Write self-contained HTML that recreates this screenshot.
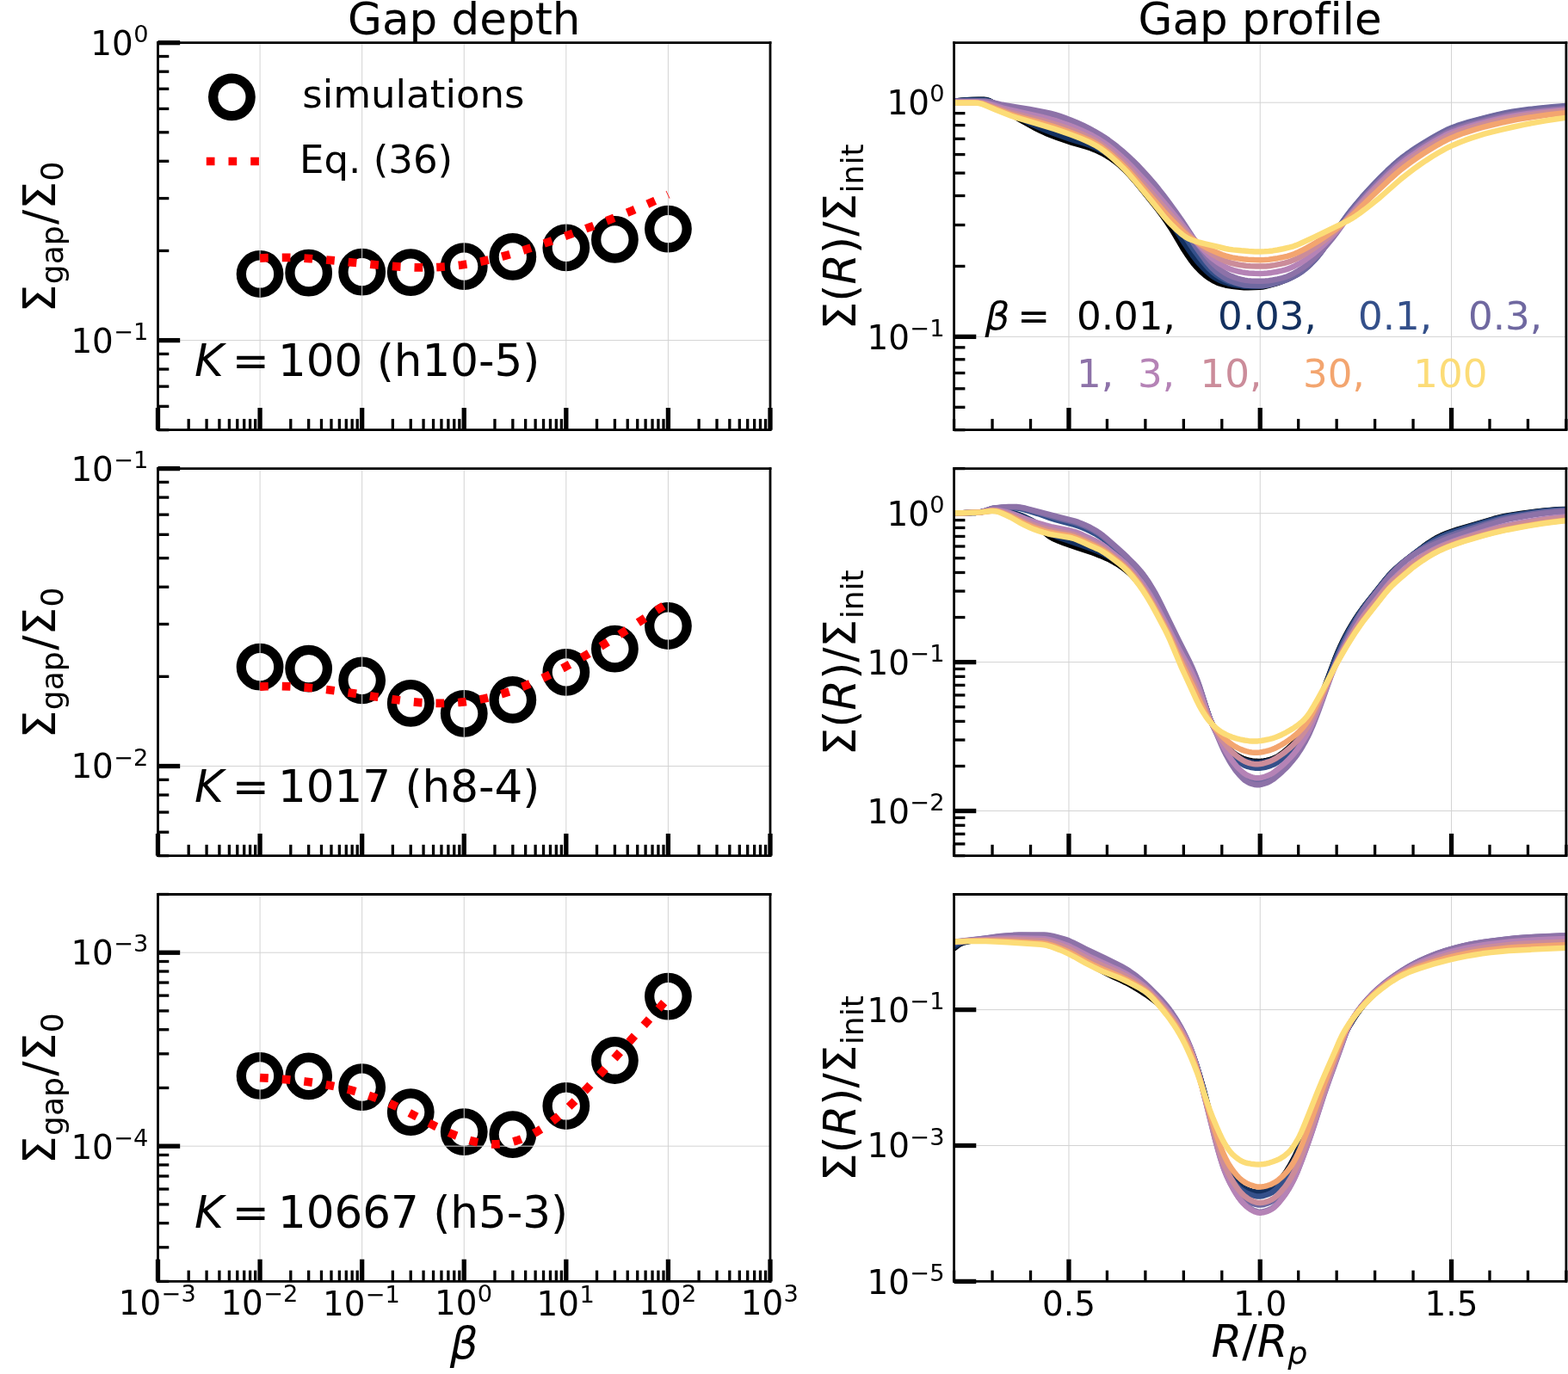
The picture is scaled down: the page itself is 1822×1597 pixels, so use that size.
<!DOCTYPE html>
<html><head><meta charset="utf-8"><title>Gap depth and gap profile</title><style>html,body{margin:0;padding:0;background:#fff;}svg{display:block;}text{font-family:"DejaVu Sans","Liberation Sans",sans-serif;font-variant-ligatures:none;font-feature-settings:"liga" 0,"clig" 0;}</style></head><body>
<svg width="1822" height="1597" viewBox="0 0 1822 1597" version="1.1">
 
 <defs>
  <style type="text/css">*{stroke-linejoin: round; stroke-linecap: butt}</style>
 </defs>
 <g id="figure_1">
  <g id="patch_1">
   <path d="M 0 1597 
L 1822 1597 
L 1822 0 
L 0 0 
z
" style="fill: #ffffff"/>
  </g>
  <g id="axes_1">
   <g id="patch_2">
    <path d="M 183.5 499.7 
L 895 499.7 
L 895 49.7 
L 183.5 49.7 
z
" style="fill: #ffffff"/>
   </g>
   <g id="line2d_1">
    <defs>
     <path id="m1f2123d5e5" d="M 0 21.75 
C 5.768167 21.75 11.300862 19.458283 15.379572 15.379572 
C 19.458283 11.300862 21.75 5.768167 21.75 0 
C 21.75 -5.768167 19.458283 -11.300862 15.379572 -15.379572 
C 11.300862 -19.458283 5.768167 -21.75 0 -21.75 
C -5.768167 -21.75 -11.300862 -19.458283 -15.379572 -15.379572 
C -19.458283 -11.300862 -21.75 -5.768167 -21.75 0 
C -21.75 5.768167 -19.458283 11.300862 -15.379572 15.379572 
C -11.300862 19.458283 -5.768167 21.75 0 21.75 
z
" style="stroke: #000000; stroke-width: 11.3"/>
    </defs>
    <g clip-path="url(#pfb58e67655)">
     <use href="#m1f2123d5e5" x="302.083333" y="318.5" style="fill-opacity: 0; stroke: #000000; stroke-width: 11.3"/>
     <use href="#m1f2123d5e5" x="358.661962" y="317.2" style="fill-opacity: 0; stroke: #000000; stroke-width: 11.3"/>
     <use href="#m1f2123d5e5" x="420.666667" y="316.2" style="fill-opacity: 0; stroke: #000000; stroke-width: 11.3"/>
     <use href="#m1f2123d5e5" x="477.245295" y="316.6" style="fill-opacity: 0; stroke: #000000; stroke-width: 11.3"/>
     <use href="#m1f2123d5e5" x="539.25" y="309.7" style="fill-opacity: 0; stroke: #000000; stroke-width: 11.3"/>
     <use href="#m1f2123d5e5" x="595.828629" y="298.4" style="fill-opacity: 0; stroke: #000000; stroke-width: 11.3"/>
     <use href="#m1f2123d5e5" x="657.833333" y="287.9" style="fill-opacity: 0; stroke: #000000; stroke-width: 11.3"/>
     <use href="#m1f2123d5e5" x="714.411962" y="278.4" style="fill-opacity: 0; stroke: #000000; stroke-width: 11.3"/>
     <use href="#m1f2123d5e5" x="776.416667" y="266.1" style="fill-opacity: 0; stroke: #000000; stroke-width: 11.3"/>
    </g>
   </g>
   <g id="matplotlib.axis_1">
    <g id="xtick_1">
     <g id="line2d_2">
      <path d="M 183.5 499.7 
L 183.5 49.7 
" clip-path="url(#pfb58e67655)" style="fill: none; stroke: #d3d3d3"/>
     </g>
     <g id="line2d_3">
      <defs>
       <path id="m03711f5c3c" d="M 0 0 
L 0 -25.7 
" style="stroke: #000000; stroke-width: 5.3"/>
      </defs>
      <g>
       <use href="#m03711f5c3c" x="183.5" y="499.7" style="stroke: #000000; stroke-width: 5.3"/>
      </g>
     </g>
    </g>
    <g id="xtick_2">
     <g id="line2d_4">
      <path d="M 302.083333 499.7 
L 302.083333 49.7 
" clip-path="url(#pfb58e67655)" style="fill: none; stroke: #d3d3d3"/>
     </g>
     <g id="line2d_5">
      <g>
       <use href="#m03711f5c3c" x="302.083333" y="499.7" style="stroke: #000000; stroke-width: 5.3"/>
      </g>
     </g>
    </g>
    <g id="xtick_3">
     <g id="line2d_6">
      <path d="M 420.666667 499.7 
L 420.666667 49.7 
" clip-path="url(#pfb58e67655)" style="fill: none; stroke: #d3d3d3"/>
     </g>
     <g id="line2d_7">
      <g>
       <use href="#m03711f5c3c" x="420.666667" y="499.7" style="stroke: #000000; stroke-width: 5.3"/>
      </g>
     </g>
    </g>
    <g id="xtick_4">
     <g id="line2d_8">
      <path d="M 539.25 499.7 
L 539.25 49.7 
" clip-path="url(#pfb58e67655)" style="fill: none; stroke: #d3d3d3"/>
     </g>
     <g id="line2d_9">
      <g>
       <use href="#m03711f5c3c" x="539.25" y="499.7" style="stroke: #000000; stroke-width: 5.3"/>
      </g>
     </g>
    </g>
    <g id="xtick_5">
     <g id="line2d_10">
      <path d="M 657.833333 499.7 
L 657.833333 49.7 
" clip-path="url(#pfb58e67655)" style="fill: none; stroke: #d3d3d3"/>
     </g>
     <g id="line2d_11">
      <g>
       <use href="#m03711f5c3c" x="657.833333" y="499.7" style="stroke: #000000; stroke-width: 5.3"/>
      </g>
     </g>
    </g>
    <g id="xtick_6">
     <g id="line2d_12">
      <path d="M 776.416667 499.7 
L 776.416667 49.7 
" clip-path="url(#pfb58e67655)" style="fill: none; stroke: #d3d3d3"/>
     </g>
     <g id="line2d_13">
      <g>
       <use href="#m03711f5c3c" x="776.416667" y="499.7" style="stroke: #000000; stroke-width: 5.3"/>
      </g>
     </g>
    </g>
    <g id="xtick_7">
     <g id="line2d_14">
      <path d="M 895 499.7 
L 895 49.7 
" clip-path="url(#pfb58e67655)" style="fill: none; stroke: #d3d3d3"/>
     </g>
     <g id="line2d_15">
      <g>
       <use href="#m03711f5c3c" x="895" y="499.7" style="stroke: #000000; stroke-width: 5.3"/>
      </g>
     </g>
    </g>
    <g id="xtick_8">
     <g id="line2d_16">
      <defs>
       <path id="mb623954a8e" d="M 0 0 
L 0 -12.8 
" style="stroke: #000000; stroke-width: 3.3"/>
      </defs>
      <g>
       <use href="#mb623954a8e" x="219.19714" y="499.7" style="stroke: #000000; stroke-width: 3.3"/>
      </g>
     </g>
    </g>
    <g id="xtick_9">
     <g id="line2d_17">
      <g>
       <use href="#mb623954a8e" x="240.078629" y="499.7" style="stroke: #000000; stroke-width: 3.3"/>
      </g>
     </g>
    </g>
    <g id="xtick_10">
     <g id="line2d_18">
      <g>
       <use href="#mb623954a8e" x="254.894281" y="499.7" style="stroke: #000000; stroke-width: 3.3"/>
      </g>
     </g>
    </g>
    <g id="xtick_11">
     <g id="line2d_19">
      <g>
       <use href="#mb623954a8e" x="266.386193" y="499.7" style="stroke: #000000; stroke-width: 3.3"/>
      </g>
     </g>
    </g>
    <g id="xtick_12">
     <g id="line2d_20">
      <g>
       <use href="#mb623954a8e" x="275.775769" y="499.7" style="stroke: #000000; stroke-width: 3.3"/>
      </g>
     </g>
    </g>
    <g id="xtick_13">
     <g id="line2d_21">
      <g>
       <use href="#mb623954a8e" x="283.714543" y="499.7" style="stroke: #000000; stroke-width: 3.3"/>
      </g>
     </g>
    </g>
    <g id="xtick_14">
     <g id="line2d_22">
      <g>
       <use href="#mb623954a8e" x="290.591421" y="499.7" style="stroke: #000000; stroke-width: 3.3"/>
      </g>
     </g>
    </g>
    <g id="xtick_15">
     <g id="line2d_23">
      <g>
       <use href="#mb623954a8e" x="296.657258" y="499.7" style="stroke: #000000; stroke-width: 3.3"/>
      </g>
     </g>
    </g>
    <g id="xtick_16">
     <g id="line2d_24">
      <g>
       <use href="#mb623954a8e" x="337.780474" y="499.7" style="stroke: #000000; stroke-width: 3.3"/>
      </g>
     </g>
    </g>
    <g id="xtick_17">
     <g id="line2d_25">
      <g>
       <use href="#mb623954a8e" x="358.661962" y="499.7" style="stroke: #000000; stroke-width: 3.3"/>
      </g>
     </g>
    </g>
    <g id="xtick_18">
     <g id="line2d_26">
      <g>
       <use href="#mb623954a8e" x="373.477614" y="499.7" style="stroke: #000000; stroke-width: 3.3"/>
      </g>
     </g>
    </g>
    <g id="xtick_19">
     <g id="line2d_27">
      <g>
       <use href="#mb623954a8e" x="384.969526" y="499.7" style="stroke: #000000; stroke-width: 3.3"/>
      </g>
     </g>
    </g>
    <g id="xtick_20">
     <g id="line2d_28">
      <g>
       <use href="#mb623954a8e" x="394.359102" y="499.7" style="stroke: #000000; stroke-width: 3.3"/>
      </g>
     </g>
    </g>
    <g id="xtick_21">
     <g id="line2d_29">
      <g>
       <use href="#mb623954a8e" x="402.297876" y="499.7" style="stroke: #000000; stroke-width: 3.3"/>
      </g>
     </g>
    </g>
    <g id="xtick_22">
     <g id="line2d_30">
      <g>
       <use href="#mb623954a8e" x="409.174754" y="499.7" style="stroke: #000000; stroke-width: 3.3"/>
      </g>
     </g>
    </g>
    <g id="xtick_23">
     <g id="line2d_31">
      <g>
       <use href="#mb623954a8e" x="415.240591" y="499.7" style="stroke: #000000; stroke-width: 3.3"/>
      </g>
     </g>
    </g>
    <g id="xtick_24">
     <g id="line2d_32">
      <g>
       <use href="#mb623954a8e" x="456.363807" y="499.7" style="stroke: #000000; stroke-width: 3.3"/>
      </g>
     </g>
    </g>
    <g id="xtick_25">
     <g id="line2d_33">
      <g>
       <use href="#mb623954a8e" x="477.245295" y="499.7" style="stroke: #000000; stroke-width: 3.3"/>
      </g>
     </g>
    </g>
    <g id="xtick_26">
     <g id="line2d_34">
      <g>
       <use href="#mb623954a8e" x="492.060947" y="499.7" style="stroke: #000000; stroke-width: 3.3"/>
      </g>
     </g>
    </g>
    <g id="xtick_27">
     <g id="line2d_35">
      <g>
       <use href="#mb623954a8e" x="503.55286" y="499.7" style="stroke: #000000; stroke-width: 3.3"/>
      </g>
     </g>
    </g>
    <g id="xtick_28">
     <g id="line2d_36">
      <g>
       <use href="#mb623954a8e" x="512.942436" y="499.7" style="stroke: #000000; stroke-width: 3.3"/>
      </g>
     </g>
    </g>
    <g id="xtick_29">
     <g id="line2d_37">
      <g>
       <use href="#mb623954a8e" x="520.881209" y="499.7" style="stroke: #000000; stroke-width: 3.3"/>
      </g>
     </g>
    </g>
    <g id="xtick_30">
     <g id="line2d_38">
      <g>
       <use href="#mb623954a8e" x="527.758088" y="499.7" style="stroke: #000000; stroke-width: 3.3"/>
      </g>
     </g>
    </g>
    <g id="xtick_31">
     <g id="line2d_39">
      <g>
       <use href="#mb623954a8e" x="533.823924" y="499.7" style="stroke: #000000; stroke-width: 3.3"/>
      </g>
     </g>
    </g>
    <g id="xtick_32">
     <g id="line2d_40">
      <g>
       <use href="#mb623954a8e" x="574.94714" y="499.7" style="stroke: #000000; stroke-width: 3.3"/>
      </g>
     </g>
    </g>
    <g id="xtick_33">
     <g id="line2d_41">
      <g>
       <use href="#mb623954a8e" x="595.828629" y="499.7" style="stroke: #000000; stroke-width: 3.3"/>
      </g>
     </g>
    </g>
    <g id="xtick_34">
     <g id="line2d_42">
      <g>
       <use href="#mb623954a8e" x="610.644281" y="499.7" style="stroke: #000000; stroke-width: 3.3"/>
      </g>
     </g>
    </g>
    <g id="xtick_35">
     <g id="line2d_43">
      <g>
       <use href="#mb623954a8e" x="622.136193" y="499.7" style="stroke: #000000; stroke-width: 3.3"/>
      </g>
     </g>
    </g>
    <g id="xtick_36">
     <g id="line2d_44">
      <g>
       <use href="#mb623954a8e" x="631.525769" y="499.7" style="stroke: #000000; stroke-width: 3.3"/>
      </g>
     </g>
    </g>
    <g id="xtick_37">
     <g id="line2d_45">
      <g>
       <use href="#mb623954a8e" x="639.464543" y="499.7" style="stroke: #000000; stroke-width: 3.3"/>
      </g>
     </g>
    </g>
    <g id="xtick_38">
     <g id="line2d_46">
      <g>
       <use href="#mb623954a8e" x="646.341421" y="499.7" style="stroke: #000000; stroke-width: 3.3"/>
      </g>
     </g>
    </g>
    <g id="xtick_39">
     <g id="line2d_47">
      <g>
       <use href="#mb623954a8e" x="652.407258" y="499.7" style="stroke: #000000; stroke-width: 3.3"/>
      </g>
     </g>
    </g>
    <g id="xtick_40">
     <g id="line2d_48">
      <g>
       <use href="#mb623954a8e" x="693.530474" y="499.7" style="stroke: #000000; stroke-width: 3.3"/>
      </g>
     </g>
    </g>
    <g id="xtick_41">
     <g id="line2d_49">
      <g>
       <use href="#mb623954a8e" x="714.411962" y="499.7" style="stroke: #000000; stroke-width: 3.3"/>
      </g>
     </g>
    </g>
    <g id="xtick_42">
     <g id="line2d_50">
      <g>
       <use href="#mb623954a8e" x="729.227614" y="499.7" style="stroke: #000000; stroke-width: 3.3"/>
      </g>
     </g>
    </g>
    <g id="xtick_43">
     <g id="line2d_51">
      <g>
       <use href="#mb623954a8e" x="740.719526" y="499.7" style="stroke: #000000; stroke-width: 3.3"/>
      </g>
     </g>
    </g>
    <g id="xtick_44">
     <g id="line2d_52">
      <g>
       <use href="#mb623954a8e" x="750.109102" y="499.7" style="stroke: #000000; stroke-width: 3.3"/>
      </g>
     </g>
    </g>
    <g id="xtick_45">
     <g id="line2d_53">
      <g>
       <use href="#mb623954a8e" x="758.047876" y="499.7" style="stroke: #000000; stroke-width: 3.3"/>
      </g>
     </g>
    </g>
    <g id="xtick_46">
     <g id="line2d_54">
      <g>
       <use href="#mb623954a8e" x="764.924754" y="499.7" style="stroke: #000000; stroke-width: 3.3"/>
      </g>
     </g>
    </g>
    <g id="xtick_47">
     <g id="line2d_55">
      <g>
       <use href="#mb623954a8e" x="770.990591" y="499.7" style="stroke: #000000; stroke-width: 3.3"/>
      </g>
     </g>
    </g>
    <g id="xtick_48">
     <g id="line2d_56">
      <g>
       <use href="#mb623954a8e" x="812.113807" y="499.7" style="stroke: #000000; stroke-width: 3.3"/>
      </g>
     </g>
    </g>
    <g id="xtick_49">
     <g id="line2d_57">
      <g>
       <use href="#mb623954a8e" x="832.995295" y="499.7" style="stroke: #000000; stroke-width: 3.3"/>
      </g>
     </g>
    </g>
    <g id="xtick_50">
     <g id="line2d_58">
      <g>
       <use href="#mb623954a8e" x="847.810947" y="499.7" style="stroke: #000000; stroke-width: 3.3"/>
      </g>
     </g>
    </g>
    <g id="xtick_51">
     <g id="line2d_59">
      <g>
       <use href="#mb623954a8e" x="859.30286" y="499.7" style="stroke: #000000; stroke-width: 3.3"/>
      </g>
     </g>
    </g>
    <g id="xtick_52">
     <g id="line2d_60">
      <g>
       <use href="#mb623954a8e" x="868.692436" y="499.7" style="stroke: #000000; stroke-width: 3.3"/>
      </g>
     </g>
    </g>
    <g id="xtick_53">
     <g id="line2d_61">
      <g>
       <use href="#mb623954a8e" x="876.631209" y="499.7" style="stroke: #000000; stroke-width: 3.3"/>
      </g>
     </g>
    </g>
    <g id="xtick_54">
     <g id="line2d_62">
      <g>
       <use href="#mb623954a8e" x="883.508088" y="499.7" style="stroke: #000000; stroke-width: 3.3"/>
      </g>
     </g>
    </g>
    <g id="xtick_55">
     <g id="line2d_63">
      <g>
       <use href="#mb623954a8e" x="889.573924" y="499.7" style="stroke: #000000; stroke-width: 3.3"/>
      </g>
     </g>
    </g>
   </g>
   <g id="matplotlib.axis_2">
    <g id="ytick_1">
     <g id="line2d_64">
      <path d="M 183.5 395.579804 
L 895 395.579804 
" clip-path="url(#pfb58e67655)" style="fill: none; stroke: #d3d3d3"/>
     </g>
     <g id="line2d_65">
      <defs>
       <path id="m70b90a0493" d="M 0 0 
L 25.7 0 
" style="stroke: #000000; stroke-width: 5.3"/>
      </defs>
      <g>
       <use href="#m70b90a0493" x="183.5" y="395.579804" style="stroke: #000000; stroke-width: 5.3"/>
      </g>
     </g>
     <g id="text_1">
      
      <g transform="translate(82.385 410.358765)">
       <text>
        <tspan x="0" y="-0.164062" style="font-size: 38.9px; font-family: 'DejaVu Sans'">1</tspan>
        <tspan x="24.733459" y="-0.164062" style="font-size: 38.9px; font-family: 'DejaVu Sans'">0</tspan>
        <tspan x="49.840161" y="-15.09375" style="font-size: 27.23px; font-family: 'DejaVu Sans'">−</tspan>
        <tspan x="72.64126" y="-15.09375" style="font-size: 27.23px; font-family: 'DejaVu Sans'">1</tspan>
       </text>
      </g>
     </g>
    </g>
    <g id="ytick_2">
     <g id="line2d_66">
      <path d="M 183.5 49.7 
L 895 49.7 
" clip-path="url(#pfb58e67655)" style="fill: none; stroke: #d3d3d3"/>
     </g>
     <g id="line2d_67">
      <g>
       <use href="#m70b90a0493" x="183.5" y="49.7" style="stroke: #000000; stroke-width: 5.3"/>
      </g>
     </g>
     <g id="text_2">
      
      <g transform="translate(105.336 64.478961)">
       <text>
        <tspan x="0" y="-0.803125" style="font-size: 38.9px; font-family: 'DejaVu Sans'">1</tspan>
        <tspan x="24.733459" y="-0.803125" style="font-size: 38.9px; font-family: 'DejaVu Sans'">0</tspan>
        <tspan x="49.840161" y="-15.732813" style="font-size: 27.23px; font-family: 'DejaVu Sans'">0</tspan>
       </text>
      </g>
     </g>
    </g>
    <g id="ytick_3">
     <g id="line2d_68">
      <defs>
       <path id="m3a5959d019" d="M 0 0 
L 12.8 0 
" style="stroke: #000000; stroke-width: 3.3"/>
      </defs>
      <g>
       <use href="#m3a5959d019" x="183.5" y="499.7" style="stroke: #000000; stroke-width: 3.3"/>
      </g>
     </g>
    </g>
    <g id="ytick_4">
     <g id="line2d_69">
      <g>
       <use href="#m3a5959d019" x="183.5" y="472.312806" style="stroke: #000000; stroke-width: 3.3"/>
      </g>
     </g>
    </g>
    <g id="ytick_5">
     <g id="line2d_70">
      <g>
       <use href="#m3a5959d019" x="183.5" y="449.157264" style="stroke: #000000; stroke-width: 3.3"/>
      </g>
     </g>
    </g>
    <g id="ytick_6">
     <g id="line2d_71">
      <g>
       <use href="#m3a5959d019" x="183.5" y="429.09902" style="stroke: #000000; stroke-width: 3.3"/>
      </g>
     </g>
    </g>
    <g id="ytick_7">
     <g id="line2d_72">
      <g>
       <use href="#m3a5959d019" x="183.5" y="411.406396" style="stroke: #000000; stroke-width: 3.3"/>
      </g>
     </g>
    </g>
    <g id="ytick_8">
     <g id="line2d_73">
      <g>
       <use href="#m3a5959d019" x="183.5" y="291.459608" style="stroke: #000000; stroke-width: 3.3"/>
      </g>
     </g>
    </g>
    <g id="ytick_9">
     <g id="line2d_74">
      <g>
       <use href="#m3a5959d019" x="183.5" y="230.553198" style="stroke: #000000; stroke-width: 3.3"/>
      </g>
     </g>
    </g>
    <g id="ytick_10">
     <g id="line2d_75">
      <g>
       <use href="#m3a5959d019" x="183.5" y="187.339412" style="stroke: #000000; stroke-width: 3.3"/>
      </g>
     </g>
    </g>
    <g id="ytick_11">
     <g id="line2d_76">
      <g>
       <use href="#m3a5959d019" x="183.5" y="153.820196" style="stroke: #000000; stroke-width: 3.3"/>
      </g>
     </g>
    </g>
    <g id="ytick_12">
     <g id="line2d_77">
      <g>
       <use href="#m3a5959d019" x="183.5" y="126.433002" style="stroke: #000000; stroke-width: 3.3"/>
      </g>
     </g>
    </g>
    <g id="ytick_13">
     <g id="line2d_78">
      <g>
       <use href="#m3a5959d019" x="183.5" y="103.27746" style="stroke: #000000; stroke-width: 3.3"/>
      </g>
     </g>
    </g>
    <g id="ytick_14">
     <g id="line2d_79">
      <g>
       <use href="#m3a5959d019" x="183.5" y="83.219216" style="stroke: #000000; stroke-width: 3.3"/>
      </g>
     </g>
    </g>
    <g id="ytick_15">
     <g id="line2d_80">
      <g>
       <use href="#m3a5959d019" x="183.5" y="65.526592" style="stroke: #000000; stroke-width: 3.3"/>
      </g>
     </g>
    </g>
   </g>
   <g id="line2d_81">
    <path d="M 302.083333 300.152505 
L 310.404971 299.675738 
L 318.726608 299.404303 
L 328.237051 299.323812 
L 337.747494 299.464151 
L 348.446742 299.854544 
L 360.334795 300.534874 
L 373.411654 301.526022 
L 388.866124 302.938078 
L 411.453425 305.255946 
L 438.795948 308.028581 
L 453.061612 309.268326 
L 464.949666 310.099076 
L 475.648914 310.63741 
L 485.159357 310.913384 
L 494.669799 310.96731 
L 502.991437 310.808636 
L 511.313074 310.436661 
L 519.634712 309.835245 
L 527.956349 309.005987 
L 536.277987 307.955317 
L 544.599624 306.689669 
L 552.921261 305.215475 
L 561.242899 303.539167 
L 570.753342 301.386269 
L 580.263784 299.002176 
L 590.963033 296.075543 
L 601.662281 292.925036 
L 613.550334 289.206163 
L 627.815998 284.508263 
L 645.648079 278.395427 
L 665.857769 271.232313 
L 686.06746 263.831935 
L 705.088346 256.637903 
L 720.542815 250.571995 
L 734.80848 244.747873 
L 747.885338 239.183095 
L 760.962197 233.369263 
L 772.850251 227.840984 
L 776.416667 226.133636 
L 776.416667 226.133636 
" clip-path="url(#pfb58e67655)" style="fill: none; stroke-dasharray: 9.7,16.005; stroke-dashoffset: 0; stroke: #ff0000; stroke-width: 9.7"/>
   </g>
   <g id="patch_3">
    <path d="M 183.5 499.7 
L 183.5 49.7 
" style="fill: none; stroke: #000000; stroke-width: 2.8; stroke-linejoin: miter; stroke-linecap: square"/>
   </g>
   <g id="patch_4">
    <path d="M 895 499.7 
L 895 49.7 
" style="fill: none; stroke: #000000; stroke-width: 2.8; stroke-linejoin: miter; stroke-linecap: square"/>
   </g>
   <g id="patch_5">
    <path d="M 183.5 499.7 
L 895 499.7 
" style="fill: none; stroke: #000000; stroke-width: 2.8; stroke-linejoin: miter; stroke-linecap: square"/>
   </g>
   <g id="patch_6">
    <path d="M 183.5 49.7 
L 895 49.7 
" style="fill: none; stroke: #000000; stroke-width: 2.8; stroke-linejoin: miter; stroke-linecap: square"/>
   </g>
  </g>
  <g id="axes_2">
   <g id="patch_7">
    <path d="M 183.5 994.6 
L 895 994.6 
L 895 544.6 
L 183.5 544.6 
z
" style="fill: #ffffff"/>
   </g>
   <g id="line2d_82">
    <g clip-path="url(#pa9d6e41cb4)">
     <use href="#m1f2123d5e5" x="302.083333" y="775.2" style="fill-opacity: 0; stroke: #000000; stroke-width: 11.3"/>
     <use href="#m1f2123d5e5" x="358.661962" y="777.1" style="fill-opacity: 0; stroke: #000000; stroke-width: 11.3"/>
     <use href="#m1f2123d5e5" x="420.666667" y="790.8" style="fill-opacity: 0; stroke: #000000; stroke-width: 11.3"/>
     <use href="#m1f2123d5e5" x="477.245295" y="817.4" style="fill-opacity: 0; stroke: #000000; stroke-width: 11.3"/>
     <use href="#m1f2123d5e5" x="539.25" y="829.3" style="fill-opacity: 0; stroke: #000000; stroke-width: 11.3"/>
     <use href="#m1f2123d5e5" x="595.828629" y="813.4" style="fill-opacity: 0; stroke: #000000; stroke-width: 11.3"/>
     <use href="#m1f2123d5e5" x="657.833333" y="781.3" style="fill-opacity: 0; stroke: #000000; stroke-width: 11.3"/>
     <use href="#m1f2123d5e5" x="714.411962" y="754.2" style="fill-opacity: 0; stroke: #000000; stroke-width: 11.3"/>
     <use href="#m1f2123d5e5" x="776.416667" y="727.5" style="fill-opacity: 0; stroke: #000000; stroke-width: 11.3"/>
    </g>
   </g>
   <g id="matplotlib.axis_3">
    <g id="xtick_56">
     <g id="line2d_83">
      <path d="M 183.5 994.6 
L 183.5 544.6 
" clip-path="url(#pa9d6e41cb4)" style="fill: none; stroke: #d3d3d3"/>
     </g>
     <g id="line2d_84">
      <g>
       <use href="#m03711f5c3c" x="183.5" y="994.6" style="stroke: #000000; stroke-width: 5.3"/>
      </g>
     </g>
    </g>
    <g id="xtick_57">
     <g id="line2d_85">
      <path d="M 302.083333 994.6 
L 302.083333 544.6 
" clip-path="url(#pa9d6e41cb4)" style="fill: none; stroke: #d3d3d3"/>
     </g>
     <g id="line2d_86">
      <g>
       <use href="#m03711f5c3c" x="302.083333" y="994.6" style="stroke: #000000; stroke-width: 5.3"/>
      </g>
     </g>
    </g>
    <g id="xtick_58">
     <g id="line2d_87">
      <path d="M 420.666667 994.6 
L 420.666667 544.6 
" clip-path="url(#pa9d6e41cb4)" style="fill: none; stroke: #d3d3d3"/>
     </g>
     <g id="line2d_88">
      <g>
       <use href="#m03711f5c3c" x="420.666667" y="994.6" style="stroke: #000000; stroke-width: 5.3"/>
      </g>
     </g>
    </g>
    <g id="xtick_59">
     <g id="line2d_89">
      <path d="M 539.25 994.6 
L 539.25 544.6 
" clip-path="url(#pa9d6e41cb4)" style="fill: none; stroke: #d3d3d3"/>
     </g>
     <g id="line2d_90">
      <g>
       <use href="#m03711f5c3c" x="539.25" y="994.6" style="stroke: #000000; stroke-width: 5.3"/>
      </g>
     </g>
    </g>
    <g id="xtick_60">
     <g id="line2d_91">
      <path d="M 657.833333 994.6 
L 657.833333 544.6 
" clip-path="url(#pa9d6e41cb4)" style="fill: none; stroke: #d3d3d3"/>
     </g>
     <g id="line2d_92">
      <g>
       <use href="#m03711f5c3c" x="657.833333" y="994.6" style="stroke: #000000; stroke-width: 5.3"/>
      </g>
     </g>
    </g>
    <g id="xtick_61">
     <g id="line2d_93">
      <path d="M 776.416667 994.6 
L 776.416667 544.6 
" clip-path="url(#pa9d6e41cb4)" style="fill: none; stroke: #d3d3d3"/>
     </g>
     <g id="line2d_94">
      <g>
       <use href="#m03711f5c3c" x="776.416667" y="994.6" style="stroke: #000000; stroke-width: 5.3"/>
      </g>
     </g>
    </g>
    <g id="xtick_62">
     <g id="line2d_95">
      <path d="M 895 994.6 
L 895 544.6 
" clip-path="url(#pa9d6e41cb4)" style="fill: none; stroke: #d3d3d3"/>
     </g>
     <g id="line2d_96">
      <g>
       <use href="#m03711f5c3c" x="895" y="994.6" style="stroke: #000000; stroke-width: 5.3"/>
      </g>
     </g>
    </g>
    <g id="xtick_63">
     <g id="line2d_97">
      <g>
       <use href="#mb623954a8e" x="219.19714" y="994.6" style="stroke: #000000; stroke-width: 3.3"/>
      </g>
     </g>
    </g>
    <g id="xtick_64">
     <g id="line2d_98">
      <g>
       <use href="#mb623954a8e" x="240.078629" y="994.6" style="stroke: #000000; stroke-width: 3.3"/>
      </g>
     </g>
    </g>
    <g id="xtick_65">
     <g id="line2d_99">
      <g>
       <use href="#mb623954a8e" x="254.894281" y="994.6" style="stroke: #000000; stroke-width: 3.3"/>
      </g>
     </g>
    </g>
    <g id="xtick_66">
     <g id="line2d_100">
      <g>
       <use href="#mb623954a8e" x="266.386193" y="994.6" style="stroke: #000000; stroke-width: 3.3"/>
      </g>
     </g>
    </g>
    <g id="xtick_67">
     <g id="line2d_101">
      <g>
       <use href="#mb623954a8e" x="275.775769" y="994.6" style="stroke: #000000; stroke-width: 3.3"/>
      </g>
     </g>
    </g>
    <g id="xtick_68">
     <g id="line2d_102">
      <g>
       <use href="#mb623954a8e" x="283.714543" y="994.6" style="stroke: #000000; stroke-width: 3.3"/>
      </g>
     </g>
    </g>
    <g id="xtick_69">
     <g id="line2d_103">
      <g>
       <use href="#mb623954a8e" x="290.591421" y="994.6" style="stroke: #000000; stroke-width: 3.3"/>
      </g>
     </g>
    </g>
    <g id="xtick_70">
     <g id="line2d_104">
      <g>
       <use href="#mb623954a8e" x="296.657258" y="994.6" style="stroke: #000000; stroke-width: 3.3"/>
      </g>
     </g>
    </g>
    <g id="xtick_71">
     <g id="line2d_105">
      <g>
       <use href="#mb623954a8e" x="337.780474" y="994.6" style="stroke: #000000; stroke-width: 3.3"/>
      </g>
     </g>
    </g>
    <g id="xtick_72">
     <g id="line2d_106">
      <g>
       <use href="#mb623954a8e" x="358.661962" y="994.6" style="stroke: #000000; stroke-width: 3.3"/>
      </g>
     </g>
    </g>
    <g id="xtick_73">
     <g id="line2d_107">
      <g>
       <use href="#mb623954a8e" x="373.477614" y="994.6" style="stroke: #000000; stroke-width: 3.3"/>
      </g>
     </g>
    </g>
    <g id="xtick_74">
     <g id="line2d_108">
      <g>
       <use href="#mb623954a8e" x="384.969526" y="994.6" style="stroke: #000000; stroke-width: 3.3"/>
      </g>
     </g>
    </g>
    <g id="xtick_75">
     <g id="line2d_109">
      <g>
       <use href="#mb623954a8e" x="394.359102" y="994.6" style="stroke: #000000; stroke-width: 3.3"/>
      </g>
     </g>
    </g>
    <g id="xtick_76">
     <g id="line2d_110">
      <g>
       <use href="#mb623954a8e" x="402.297876" y="994.6" style="stroke: #000000; stroke-width: 3.3"/>
      </g>
     </g>
    </g>
    <g id="xtick_77">
     <g id="line2d_111">
      <g>
       <use href="#mb623954a8e" x="409.174754" y="994.6" style="stroke: #000000; stroke-width: 3.3"/>
      </g>
     </g>
    </g>
    <g id="xtick_78">
     <g id="line2d_112">
      <g>
       <use href="#mb623954a8e" x="415.240591" y="994.6" style="stroke: #000000; stroke-width: 3.3"/>
      </g>
     </g>
    </g>
    <g id="xtick_79">
     <g id="line2d_113">
      <g>
       <use href="#mb623954a8e" x="456.363807" y="994.6" style="stroke: #000000; stroke-width: 3.3"/>
      </g>
     </g>
    </g>
    <g id="xtick_80">
     <g id="line2d_114">
      <g>
       <use href="#mb623954a8e" x="477.245295" y="994.6" style="stroke: #000000; stroke-width: 3.3"/>
      </g>
     </g>
    </g>
    <g id="xtick_81">
     <g id="line2d_115">
      <g>
       <use href="#mb623954a8e" x="492.060947" y="994.6" style="stroke: #000000; stroke-width: 3.3"/>
      </g>
     </g>
    </g>
    <g id="xtick_82">
     <g id="line2d_116">
      <g>
       <use href="#mb623954a8e" x="503.55286" y="994.6" style="stroke: #000000; stroke-width: 3.3"/>
      </g>
     </g>
    </g>
    <g id="xtick_83">
     <g id="line2d_117">
      <g>
       <use href="#mb623954a8e" x="512.942436" y="994.6" style="stroke: #000000; stroke-width: 3.3"/>
      </g>
     </g>
    </g>
    <g id="xtick_84">
     <g id="line2d_118">
      <g>
       <use href="#mb623954a8e" x="520.881209" y="994.6" style="stroke: #000000; stroke-width: 3.3"/>
      </g>
     </g>
    </g>
    <g id="xtick_85">
     <g id="line2d_119">
      <g>
       <use href="#mb623954a8e" x="527.758088" y="994.6" style="stroke: #000000; stroke-width: 3.3"/>
      </g>
     </g>
    </g>
    <g id="xtick_86">
     <g id="line2d_120">
      <g>
       <use href="#mb623954a8e" x="533.823924" y="994.6" style="stroke: #000000; stroke-width: 3.3"/>
      </g>
     </g>
    </g>
    <g id="xtick_87">
     <g id="line2d_121">
      <g>
       <use href="#mb623954a8e" x="574.94714" y="994.6" style="stroke: #000000; stroke-width: 3.3"/>
      </g>
     </g>
    </g>
    <g id="xtick_88">
     <g id="line2d_122">
      <g>
       <use href="#mb623954a8e" x="595.828629" y="994.6" style="stroke: #000000; stroke-width: 3.3"/>
      </g>
     </g>
    </g>
    <g id="xtick_89">
     <g id="line2d_123">
      <g>
       <use href="#mb623954a8e" x="610.644281" y="994.6" style="stroke: #000000; stroke-width: 3.3"/>
      </g>
     </g>
    </g>
    <g id="xtick_90">
     <g id="line2d_124">
      <g>
       <use href="#mb623954a8e" x="622.136193" y="994.6" style="stroke: #000000; stroke-width: 3.3"/>
      </g>
     </g>
    </g>
    <g id="xtick_91">
     <g id="line2d_125">
      <g>
       <use href="#mb623954a8e" x="631.525769" y="994.6" style="stroke: #000000; stroke-width: 3.3"/>
      </g>
     </g>
    </g>
    <g id="xtick_92">
     <g id="line2d_126">
      <g>
       <use href="#mb623954a8e" x="639.464543" y="994.6" style="stroke: #000000; stroke-width: 3.3"/>
      </g>
     </g>
    </g>
    <g id="xtick_93">
     <g id="line2d_127">
      <g>
       <use href="#mb623954a8e" x="646.341421" y="994.6" style="stroke: #000000; stroke-width: 3.3"/>
      </g>
     </g>
    </g>
    <g id="xtick_94">
     <g id="line2d_128">
      <g>
       <use href="#mb623954a8e" x="652.407258" y="994.6" style="stroke: #000000; stroke-width: 3.3"/>
      </g>
     </g>
    </g>
    <g id="xtick_95">
     <g id="line2d_129">
      <g>
       <use href="#mb623954a8e" x="693.530474" y="994.6" style="stroke: #000000; stroke-width: 3.3"/>
      </g>
     </g>
    </g>
    <g id="xtick_96">
     <g id="line2d_130">
      <g>
       <use href="#mb623954a8e" x="714.411962" y="994.6" style="stroke: #000000; stroke-width: 3.3"/>
      </g>
     </g>
    </g>
    <g id="xtick_97">
     <g id="line2d_131">
      <g>
       <use href="#mb623954a8e" x="729.227614" y="994.6" style="stroke: #000000; stroke-width: 3.3"/>
      </g>
     </g>
    </g>
    <g id="xtick_98">
     <g id="line2d_132">
      <g>
       <use href="#mb623954a8e" x="740.719526" y="994.6" style="stroke: #000000; stroke-width: 3.3"/>
      </g>
     </g>
    </g>
    <g id="xtick_99">
     <g id="line2d_133">
      <g>
       <use href="#mb623954a8e" x="750.109102" y="994.6" style="stroke: #000000; stroke-width: 3.3"/>
      </g>
     </g>
    </g>
    <g id="xtick_100">
     <g id="line2d_134">
      <g>
       <use href="#mb623954a8e" x="758.047876" y="994.6" style="stroke: #000000; stroke-width: 3.3"/>
      </g>
     </g>
    </g>
    <g id="xtick_101">
     <g id="line2d_135">
      <g>
       <use href="#mb623954a8e" x="764.924754" y="994.6" style="stroke: #000000; stroke-width: 3.3"/>
      </g>
     </g>
    </g>
    <g id="xtick_102">
     <g id="line2d_136">
      <g>
       <use href="#mb623954a8e" x="770.990591" y="994.6" style="stroke: #000000; stroke-width: 3.3"/>
      </g>
     </g>
    </g>
    <g id="xtick_103">
     <g id="line2d_137">
      <g>
       <use href="#mb623954a8e" x="812.113807" y="994.6" style="stroke: #000000; stroke-width: 3.3"/>
      </g>
     </g>
    </g>
    <g id="xtick_104">
     <g id="line2d_138">
      <g>
       <use href="#mb623954a8e" x="832.995295" y="994.6" style="stroke: #000000; stroke-width: 3.3"/>
      </g>
     </g>
    </g>
    <g id="xtick_105">
     <g id="line2d_139">
      <g>
       <use href="#mb623954a8e" x="847.810947" y="994.6" style="stroke: #000000; stroke-width: 3.3"/>
      </g>
     </g>
    </g>
    <g id="xtick_106">
     <g id="line2d_140">
      <g>
       <use href="#mb623954a8e" x="859.30286" y="994.6" style="stroke: #000000; stroke-width: 3.3"/>
      </g>
     </g>
    </g>
    <g id="xtick_107">
     <g id="line2d_141">
      <g>
       <use href="#mb623954a8e" x="868.692436" y="994.6" style="stroke: #000000; stroke-width: 3.3"/>
      </g>
     </g>
    </g>
    <g id="xtick_108">
     <g id="line2d_142">
      <g>
       <use href="#mb623954a8e" x="876.631209" y="994.6" style="stroke: #000000; stroke-width: 3.3"/>
      </g>
     </g>
    </g>
    <g id="xtick_109">
     <g id="line2d_143">
      <g>
       <use href="#mb623954a8e" x="883.508088" y="994.6" style="stroke: #000000; stroke-width: 3.3"/>
      </g>
     </g>
    </g>
    <g id="xtick_110">
     <g id="line2d_144">
      <g>
       <use href="#mb623954a8e" x="889.573924" y="994.6" style="stroke: #000000; stroke-width: 3.3"/>
      </g>
     </g>
    </g>
   </g>
   <g id="matplotlib.axis_4">
    <g id="ytick_16">
     <g id="line2d_145">
      <path d="M 183.5 890.479804 
L 895 890.479804 
" clip-path="url(#pa9d6e41cb4)" style="fill: none; stroke: #d3d3d3"/>
     </g>
     <g id="line2d_146">
      <g>
       <use href="#m70b90a0493" x="183.5" y="890.479804" style="stroke: #000000; stroke-width: 5.3"/>
      </g>
     </g>
     <g id="text_3">
      
      <g transform="translate(82.385 905.258765)">
       <text>
        <tspan x="0" y="-0.803125" style="font-size: 38.9px; font-family: 'DejaVu Sans'">1</tspan>
        <tspan x="24.733459" y="-0.803125" style="font-size: 38.9px; font-family: 'DejaVu Sans'">0</tspan>
        <tspan x="49.840161" y="-15.732813" style="font-size: 27.23px; font-family: 'DejaVu Sans'">−</tspan>
        <tspan x="72.64126" y="-15.732813" style="font-size: 27.23px; font-family: 'DejaVu Sans'">2</tspan>
       </text>
      </g>
     </g>
    </g>
    <g id="ytick_17">
     <g id="line2d_147">
      <path d="M 183.5 544.6 
L 895 544.6 
" clip-path="url(#pa9d6e41cb4)" style="fill: none; stroke: #d3d3d3"/>
     </g>
     <g id="line2d_148">
      <g>
       <use href="#m70b90a0493" x="183.5" y="544.6" style="stroke: #000000; stroke-width: 5.3"/>
      </g>
     </g>
     <g id="text_4">
      
      <g transform="translate(82.385 559.378961)">
       <text>
        <tspan x="0" y="-0.164062" style="font-size: 38.9px; font-family: 'DejaVu Sans'">1</tspan>
        <tspan x="24.733459" y="-0.164062" style="font-size: 38.9px; font-family: 'DejaVu Sans'">0</tspan>
        <tspan x="49.840161" y="-15.09375" style="font-size: 27.23px; font-family: 'DejaVu Sans'">−</tspan>
        <tspan x="72.64126" y="-15.09375" style="font-size: 27.23px; font-family: 'DejaVu Sans'">1</tspan>
       </text>
      </g>
     </g>
    </g>
    <g id="ytick_18">
     <g id="line2d_149">
      <g>
       <use href="#m3a5959d019" x="183.5" y="994.6" style="stroke: #000000; stroke-width: 3.3"/>
      </g>
     </g>
    </g>
    <g id="ytick_19">
     <g id="line2d_150">
      <g>
       <use href="#m3a5959d019" x="183.5" y="967.212806" style="stroke: #000000; stroke-width: 3.3"/>
      </g>
     </g>
    </g>
    <g id="ytick_20">
     <g id="line2d_151">
      <g>
       <use href="#m3a5959d019" x="183.5" y="944.057264" style="stroke: #000000; stroke-width: 3.3"/>
      </g>
     </g>
    </g>
    <g id="ytick_21">
     <g id="line2d_152">
      <g>
       <use href="#m3a5959d019" x="183.5" y="923.99902" style="stroke: #000000; stroke-width: 3.3"/>
      </g>
     </g>
    </g>
    <g id="ytick_22">
     <g id="line2d_153">
      <g>
       <use href="#m3a5959d019" x="183.5" y="906.306396" style="stroke: #000000; stroke-width: 3.3"/>
      </g>
     </g>
    </g>
    <g id="ytick_23">
     <g id="line2d_154">
      <g>
       <use href="#m3a5959d019" x="183.5" y="786.359608" style="stroke: #000000; stroke-width: 3.3"/>
      </g>
     </g>
    </g>
    <g id="ytick_24">
     <g id="line2d_155">
      <g>
       <use href="#m3a5959d019" x="183.5" y="725.453198" style="stroke: #000000; stroke-width: 3.3"/>
      </g>
     </g>
    </g>
    <g id="ytick_25">
     <g id="line2d_156">
      <g>
       <use href="#m3a5959d019" x="183.5" y="682.239412" style="stroke: #000000; stroke-width: 3.3"/>
      </g>
     </g>
    </g>
    <g id="ytick_26">
     <g id="line2d_157">
      <g>
       <use href="#m3a5959d019" x="183.5" y="648.720196" style="stroke: #000000; stroke-width: 3.3"/>
      </g>
     </g>
    </g>
    <g id="ytick_27">
     <g id="line2d_158">
      <g>
       <use href="#m3a5959d019" x="183.5" y="621.333002" style="stroke: #000000; stroke-width: 3.3"/>
      </g>
     </g>
    </g>
    <g id="ytick_28">
     <g id="line2d_159">
      <g>
       <use href="#m3a5959d019" x="183.5" y="598.17746" style="stroke: #000000; stroke-width: 3.3"/>
      </g>
     </g>
    </g>
    <g id="ytick_29">
     <g id="line2d_160">
      <g>
       <use href="#m3a5959d019" x="183.5" y="578.119216" style="stroke: #000000; stroke-width: 3.3"/>
      </g>
     </g>
    </g>
    <g id="ytick_30">
     <g id="line2d_161">
      <g>
       <use href="#m3a5959d019" x="183.5" y="560.426592" style="stroke: #000000; stroke-width: 3.3"/>
      </g>
     </g>
    </g>
   </g>
   <g id="line2d_162">
    <path d="M 302.083333 798.136959 
L 310.404971 797.758784 
L 318.726608 797.596528 
L 327.048246 797.635332 
L 336.558688 797.906818 
L 346.069131 798.399329 
L 356.768379 799.189982 
L 367.467627 800.200721 
L 379.355681 801.543482 
L 392.43254 803.237617 
L 409.075815 805.634283 
L 435.229532 809.675933 
L 456.628028 812.906558 
L 468.516082 814.49321 
L 479.21533 815.703412 
L 488.725773 816.553316 
L 497.04741 817.086515 
L 505.369048 817.392379 
L 512.50188 817.451299 
L 519.634712 817.308002 
L 526.767544 816.958344 
L 533.900376 816.399236 
L 541.033208 815.627587 
L 548.16604 814.640307 
L 555.298872 813.434307 
L 562.431704 812.006499 
L 569.564536 810.356036 
L 576.697368 808.489375 
L 583.830201 806.414455 
L 592.151838 803.74109 
L 600.473475 800.807673 
L 608.795113 797.626811 
L 617.11675 794.211111 
L 625.438388 790.573178 
L 634.94883 786.159591 
L 644.459273 781.491025 
L 653.969716 776.586297 
L 664.668964 770.809623 
L 675.368212 764.784668 
L 687.256266 757.831666 
L 700.333124 749.911404 
L 714.598789 741.001971 
L 731.242063 730.335168 
L 753.829365 715.562302 
L 776.416667 700.678002 
L 776.416667 700.678002 
" clip-path="url(#pa9d6e41cb4)" style="fill: none; stroke-dasharray: 9.7,16.005; stroke-dashoffset: 0; stroke: #ff0000; stroke-width: 9.7"/>
   </g>
   <g id="patch_8">
    <path d="M 183.5 994.6 
L 183.5 544.6 
" style="fill: none; stroke: #000000; stroke-width: 2.8; stroke-linejoin: miter; stroke-linecap: square"/>
   </g>
   <g id="patch_9">
    <path d="M 895 994.6 
L 895 544.6 
" style="fill: none; stroke: #000000; stroke-width: 2.8; stroke-linejoin: miter; stroke-linecap: square"/>
   </g>
   <g id="patch_10">
    <path d="M 183.5 994.6 
L 895 994.6 
" style="fill: none; stroke: #000000; stroke-width: 2.8; stroke-linejoin: miter; stroke-linecap: square"/>
   </g>
   <g id="patch_11">
    <path d="M 183.5 544.6 
L 895 544.6 
" style="fill: none; stroke: #000000; stroke-width: 2.8; stroke-linejoin: miter; stroke-linecap: square"/>
   </g>
  </g>
  <g id="axes_3">
   <g id="patch_12">
    <path d="M 183.5 1489.4 
L 895 1489.4 
L 895 1039.5 
L 183.5 1039.5 
z
" style="fill: #ffffff"/>
   </g>
   <g id="line2d_163">
    <g clip-path="url(#p9ddf4ae7c1)">
     <use href="#m1f2123d5e5" x="302.083333" y="1250.4" style="fill-opacity: 0; stroke: #000000; stroke-width: 11.3"/>
     <use href="#m1f2123d5e5" x="358.661962" y="1250.9" style="fill-opacity: 0; stroke: #000000; stroke-width: 11.3"/>
     <use href="#m1f2123d5e5" x="420.666667" y="1263.7" style="fill-opacity: 0; stroke: #000000; stroke-width: 11.3"/>
     <use href="#m1f2123d5e5" x="477.245295" y="1292.6" style="fill-opacity: 0; stroke: #000000; stroke-width: 11.3"/>
     <use href="#m1f2123d5e5" x="539.25" y="1315.6" style="fill-opacity: 0; stroke: #000000; stroke-width: 11.3"/>
     <use href="#m1f2123d5e5" x="595.828629" y="1318.6" style="fill-opacity: 0; stroke: #000000; stroke-width: 11.3"/>
     <use href="#m1f2123d5e5" x="657.833333" y="1285.5" style="fill-opacity: 0; stroke: #000000; stroke-width: 11.3"/>
     <use href="#m1f2123d5e5" x="714.411962" y="1232.5" style="fill-opacity: 0; stroke: #000000; stroke-width: 11.3"/>
     <use href="#m1f2123d5e5" x="776.416667" y="1158.1" style="fill-opacity: 0; stroke: #000000; stroke-width: 11.3"/>
    </g>
   </g>
   <g id="matplotlib.axis_5">
    <g id="xtick_111">
     <g id="line2d_164">
      <path d="M 183.5 1489.4 
L 183.5 1039.5 
" clip-path="url(#p9ddf4ae7c1)" style="fill: none; stroke: #d3d3d3"/>
     </g>
     <g id="line2d_165">
      <g>
       <use href="#m03711f5c3c" x="183.5" y="1489.4" style="stroke: #000000; stroke-width: 5.3"/>
      </g>
     </g>
     <g id="text_5">
      
      <g transform="translate(137.7925 1528.657922)">
       <text>
        <tspan x="0" y="-0.803125" style="font-size: 38.9px; font-family: 'DejaVu Sans'">1</tspan>
        <tspan x="24.733459" y="-0.803125" style="font-size: 38.9px; font-family: 'DejaVu Sans'">0</tspan>
        <tspan x="49.840161" y="-15.732813" style="font-size: 27.23px; font-family: 'DejaVu Sans'">−</tspan>
        <tspan x="72.64126" y="-15.732813" style="font-size: 27.23px; font-family: 'DejaVu Sans'">3</tspan>
       </text>
      </g>
     </g>
    </g>
    <g id="xtick_112">
     <g id="line2d_166">
      <path d="M 302.083333 1489.4 
L 302.083333 1039.5 
" clip-path="url(#p9ddf4ae7c1)" style="fill: none; stroke: #d3d3d3"/>
     </g>
     <g id="line2d_167">
      <g>
       <use href="#m03711f5c3c" x="302.083333" y="1489.4" style="stroke: #000000; stroke-width: 5.3"/>
      </g>
     </g>
     <g id="text_6">
      
      <g transform="translate(256.375833 1528.657922)">
       <text>
        <tspan x="0" y="-0.803125" style="font-size: 38.9px; font-family: 'DejaVu Sans'">1</tspan>
        <tspan x="24.733459" y="-0.803125" style="font-size: 38.9px; font-family: 'DejaVu Sans'">0</tspan>
        <tspan x="49.840161" y="-15.732813" style="font-size: 27.23px; font-family: 'DejaVu Sans'">−</tspan>
        <tspan x="72.64126" y="-15.732813" style="font-size: 27.23px; font-family: 'DejaVu Sans'">2</tspan>
       </text>
      </g>
     </g>
    </g>
    <g id="xtick_113">
     <g id="line2d_168">
      <path d="M 420.666667 1489.4 
L 420.666667 1039.5 
" clip-path="url(#p9ddf4ae7c1)" style="fill: none; stroke: #d3d3d3"/>
     </g>
     <g id="line2d_169">
      <g>
       <use href="#m03711f5c3c" x="420.666667" y="1489.4" style="stroke: #000000; stroke-width: 5.3"/>
      </g>
     </g>
     <g id="text_7">
      
      <g transform="translate(374.959167 1528.657922)">
       <text>
        <tspan x="0" y="-0.164062" style="font-size: 38.9px; font-family: 'DejaVu Sans'">1</tspan>
        <tspan x="24.733459" y="-0.164062" style="font-size: 38.9px; font-family: 'DejaVu Sans'">0</tspan>
        <tspan x="49.840161" y="-15.09375" style="font-size: 27.23px; font-family: 'DejaVu Sans'">−</tspan>
        <tspan x="72.64126" y="-15.09375" style="font-size: 27.23px; font-family: 'DejaVu Sans'">1</tspan>
       </text>
      </g>
     </g>
    </g>
    <g id="xtick_114">
     <g id="line2d_170">
      <path d="M 539.25 1489.4 
L 539.25 1039.5 
" clip-path="url(#p9ddf4ae7c1)" style="fill: none; stroke: #d3d3d3"/>
     </g>
     <g id="line2d_171">
      <g>
       <use href="#m03711f5c3c" x="539.25" y="1489.4" style="stroke: #000000; stroke-width: 5.3"/>
      </g>
     </g>
     <g id="text_8">
      
      <g transform="translate(505.018 1528.657922)">
       <text>
        <tspan x="0" y="-0.803125" style="font-size: 38.9px; font-family: 'DejaVu Sans'">1</tspan>
        <tspan x="24.733459" y="-0.803125" style="font-size: 38.9px; font-family: 'DejaVu Sans'">0</tspan>
        <tspan x="49.840161" y="-15.732813" style="font-size: 27.23px; font-family: 'DejaVu Sans'">0</tspan>
       </text>
      </g>
     </g>
    </g>
    <g id="xtick_115">
     <g id="line2d_172">
      <path d="M 657.833333 1489.4 
L 657.833333 1039.5 
" clip-path="url(#p9ddf4ae7c1)" style="fill: none; stroke: #d3d3d3"/>
     </g>
     <g id="line2d_173">
      <g>
       <use href="#m03711f5c3c" x="657.833333" y="1489.4" style="stroke: #000000; stroke-width: 5.3"/>
      </g>
     </g>
     <g id="text_9">
      
      <g transform="translate(623.601333 1528.657922)">
       <text>
        <tspan x="0" y="-0.164062" style="font-size: 38.9px; font-family: 'DejaVu Sans'">1</tspan>
        <tspan x="24.733459" y="-0.164062" style="font-size: 38.9px; font-family: 'DejaVu Sans'">0</tspan>
        <tspan x="49.840161" y="-15.09375" style="font-size: 27.23px; font-family: 'DejaVu Sans'">1</tspan>
       </text>
      </g>
     </g>
    </g>
    <g id="xtick_116">
     <g id="line2d_174">
      <path d="M 776.416667 1489.4 
L 776.416667 1039.5 
" clip-path="url(#p9ddf4ae7c1)" style="fill: none; stroke: #d3d3d3"/>
     </g>
     <g id="line2d_175">
      <g>
       <use href="#m03711f5c3c" x="776.416667" y="1489.4" style="stroke: #000000; stroke-width: 5.3"/>
      </g>
     </g>
     <g id="text_10">
      
      <g transform="translate(742.184667 1528.657922)">
       <text>
        <tspan x="0" y="-0.803125" style="font-size: 38.9px; font-family: 'DejaVu Sans'">1</tspan>
        <tspan x="24.733459" y="-0.803125" style="font-size: 38.9px; font-family: 'DejaVu Sans'">0</tspan>
        <tspan x="49.840161" y="-15.732813" style="font-size: 27.23px; font-family: 'DejaVu Sans'">2</tspan>
       </text>
      </g>
     </g>
    </g>
    <g id="xtick_117">
     <g id="line2d_176">
      <path d="M 895 1489.4 
L 895 1039.5 
" clip-path="url(#p9ddf4ae7c1)" style="fill: none; stroke: #d3d3d3"/>
     </g>
     <g id="line2d_177">
      <g>
       <use href="#m03711f5c3c" x="895" y="1489.4" style="stroke: #000000; stroke-width: 5.3"/>
      </g>
     </g>
     <g id="text_11">
      
      <g transform="translate(860.768 1528.657922)">
       <text>
        <tspan x="0" y="-0.803125" style="font-size: 38.9px; font-family: 'DejaVu Sans'">1</tspan>
        <tspan x="24.733459" y="-0.803125" style="font-size: 38.9px; font-family: 'DejaVu Sans'">0</tspan>
        <tspan x="49.840161" y="-15.732813" style="font-size: 27.23px; font-family: 'DejaVu Sans'">3</tspan>
       </text>
      </g>
     </g>
    </g>
    <g id="xtick_118">
     <g id="line2d_178">
      <g>
       <use href="#mb623954a8e" x="219.19714" y="1489.4" style="stroke: #000000; stroke-width: 3.3"/>
      </g>
     </g>
    </g>
    <g id="xtick_119">
     <g id="line2d_179">
      <g>
       <use href="#mb623954a8e" x="240.078629" y="1489.4" style="stroke: #000000; stroke-width: 3.3"/>
      </g>
     </g>
    </g>
    <g id="xtick_120">
     <g id="line2d_180">
      <g>
       <use href="#mb623954a8e" x="254.894281" y="1489.4" style="stroke: #000000; stroke-width: 3.3"/>
      </g>
     </g>
    </g>
    <g id="xtick_121">
     <g id="line2d_181">
      <g>
       <use href="#mb623954a8e" x="266.386193" y="1489.4" style="stroke: #000000; stroke-width: 3.3"/>
      </g>
     </g>
    </g>
    <g id="xtick_122">
     <g id="line2d_182">
      <g>
       <use href="#mb623954a8e" x="275.775769" y="1489.4" style="stroke: #000000; stroke-width: 3.3"/>
      </g>
     </g>
    </g>
    <g id="xtick_123">
     <g id="line2d_183">
      <g>
       <use href="#mb623954a8e" x="283.714543" y="1489.4" style="stroke: #000000; stroke-width: 3.3"/>
      </g>
     </g>
    </g>
    <g id="xtick_124">
     <g id="line2d_184">
      <g>
       <use href="#mb623954a8e" x="290.591421" y="1489.4" style="stroke: #000000; stroke-width: 3.3"/>
      </g>
     </g>
    </g>
    <g id="xtick_125">
     <g id="line2d_185">
      <g>
       <use href="#mb623954a8e" x="296.657258" y="1489.4" style="stroke: #000000; stroke-width: 3.3"/>
      </g>
     </g>
    </g>
    <g id="xtick_126">
     <g id="line2d_186">
      <g>
       <use href="#mb623954a8e" x="337.780474" y="1489.4" style="stroke: #000000; stroke-width: 3.3"/>
      </g>
     </g>
    </g>
    <g id="xtick_127">
     <g id="line2d_187">
      <g>
       <use href="#mb623954a8e" x="358.661962" y="1489.4" style="stroke: #000000; stroke-width: 3.3"/>
      </g>
     </g>
    </g>
    <g id="xtick_128">
     <g id="line2d_188">
      <g>
       <use href="#mb623954a8e" x="373.477614" y="1489.4" style="stroke: #000000; stroke-width: 3.3"/>
      </g>
     </g>
    </g>
    <g id="xtick_129">
     <g id="line2d_189">
      <g>
       <use href="#mb623954a8e" x="384.969526" y="1489.4" style="stroke: #000000; stroke-width: 3.3"/>
      </g>
     </g>
    </g>
    <g id="xtick_130">
     <g id="line2d_190">
      <g>
       <use href="#mb623954a8e" x="394.359102" y="1489.4" style="stroke: #000000; stroke-width: 3.3"/>
      </g>
     </g>
    </g>
    <g id="xtick_131">
     <g id="line2d_191">
      <g>
       <use href="#mb623954a8e" x="402.297876" y="1489.4" style="stroke: #000000; stroke-width: 3.3"/>
      </g>
     </g>
    </g>
    <g id="xtick_132">
     <g id="line2d_192">
      <g>
       <use href="#mb623954a8e" x="409.174754" y="1489.4" style="stroke: #000000; stroke-width: 3.3"/>
      </g>
     </g>
    </g>
    <g id="xtick_133">
     <g id="line2d_193">
      <g>
       <use href="#mb623954a8e" x="415.240591" y="1489.4" style="stroke: #000000; stroke-width: 3.3"/>
      </g>
     </g>
    </g>
    <g id="xtick_134">
     <g id="line2d_194">
      <g>
       <use href="#mb623954a8e" x="456.363807" y="1489.4" style="stroke: #000000; stroke-width: 3.3"/>
      </g>
     </g>
    </g>
    <g id="xtick_135">
     <g id="line2d_195">
      <g>
       <use href="#mb623954a8e" x="477.245295" y="1489.4" style="stroke: #000000; stroke-width: 3.3"/>
      </g>
     </g>
    </g>
    <g id="xtick_136">
     <g id="line2d_196">
      <g>
       <use href="#mb623954a8e" x="492.060947" y="1489.4" style="stroke: #000000; stroke-width: 3.3"/>
      </g>
     </g>
    </g>
    <g id="xtick_137">
     <g id="line2d_197">
      <g>
       <use href="#mb623954a8e" x="503.55286" y="1489.4" style="stroke: #000000; stroke-width: 3.3"/>
      </g>
     </g>
    </g>
    <g id="xtick_138">
     <g id="line2d_198">
      <g>
       <use href="#mb623954a8e" x="512.942436" y="1489.4" style="stroke: #000000; stroke-width: 3.3"/>
      </g>
     </g>
    </g>
    <g id="xtick_139">
     <g id="line2d_199">
      <g>
       <use href="#mb623954a8e" x="520.881209" y="1489.4" style="stroke: #000000; stroke-width: 3.3"/>
      </g>
     </g>
    </g>
    <g id="xtick_140">
     <g id="line2d_200">
      <g>
       <use href="#mb623954a8e" x="527.758088" y="1489.4" style="stroke: #000000; stroke-width: 3.3"/>
      </g>
     </g>
    </g>
    <g id="xtick_141">
     <g id="line2d_201">
      <g>
       <use href="#mb623954a8e" x="533.823924" y="1489.4" style="stroke: #000000; stroke-width: 3.3"/>
      </g>
     </g>
    </g>
    <g id="xtick_142">
     <g id="line2d_202">
      <g>
       <use href="#mb623954a8e" x="574.94714" y="1489.4" style="stroke: #000000; stroke-width: 3.3"/>
      </g>
     </g>
    </g>
    <g id="xtick_143">
     <g id="line2d_203">
      <g>
       <use href="#mb623954a8e" x="595.828629" y="1489.4" style="stroke: #000000; stroke-width: 3.3"/>
      </g>
     </g>
    </g>
    <g id="xtick_144">
     <g id="line2d_204">
      <g>
       <use href="#mb623954a8e" x="610.644281" y="1489.4" style="stroke: #000000; stroke-width: 3.3"/>
      </g>
     </g>
    </g>
    <g id="xtick_145">
     <g id="line2d_205">
      <g>
       <use href="#mb623954a8e" x="622.136193" y="1489.4" style="stroke: #000000; stroke-width: 3.3"/>
      </g>
     </g>
    </g>
    <g id="xtick_146">
     <g id="line2d_206">
      <g>
       <use href="#mb623954a8e" x="631.525769" y="1489.4" style="stroke: #000000; stroke-width: 3.3"/>
      </g>
     </g>
    </g>
    <g id="xtick_147">
     <g id="line2d_207">
      <g>
       <use href="#mb623954a8e" x="639.464543" y="1489.4" style="stroke: #000000; stroke-width: 3.3"/>
      </g>
     </g>
    </g>
    <g id="xtick_148">
     <g id="line2d_208">
      <g>
       <use href="#mb623954a8e" x="646.341421" y="1489.4" style="stroke: #000000; stroke-width: 3.3"/>
      </g>
     </g>
    </g>
    <g id="xtick_149">
     <g id="line2d_209">
      <g>
       <use href="#mb623954a8e" x="652.407258" y="1489.4" style="stroke: #000000; stroke-width: 3.3"/>
      </g>
     </g>
    </g>
    <g id="xtick_150">
     <g id="line2d_210">
      <g>
       <use href="#mb623954a8e" x="693.530474" y="1489.4" style="stroke: #000000; stroke-width: 3.3"/>
      </g>
     </g>
    </g>
    <g id="xtick_151">
     <g id="line2d_211">
      <g>
       <use href="#mb623954a8e" x="714.411962" y="1489.4" style="stroke: #000000; stroke-width: 3.3"/>
      </g>
     </g>
    </g>
    <g id="xtick_152">
     <g id="line2d_212">
      <g>
       <use href="#mb623954a8e" x="729.227614" y="1489.4" style="stroke: #000000; stroke-width: 3.3"/>
      </g>
     </g>
    </g>
    <g id="xtick_153">
     <g id="line2d_213">
      <g>
       <use href="#mb623954a8e" x="740.719526" y="1489.4" style="stroke: #000000; stroke-width: 3.3"/>
      </g>
     </g>
    </g>
    <g id="xtick_154">
     <g id="line2d_214">
      <g>
       <use href="#mb623954a8e" x="750.109102" y="1489.4" style="stroke: #000000; stroke-width: 3.3"/>
      </g>
     </g>
    </g>
    <g id="xtick_155">
     <g id="line2d_215">
      <g>
       <use href="#mb623954a8e" x="758.047876" y="1489.4" style="stroke: #000000; stroke-width: 3.3"/>
      </g>
     </g>
    </g>
    <g id="xtick_156">
     <g id="line2d_216">
      <g>
       <use href="#mb623954a8e" x="764.924754" y="1489.4" style="stroke: #000000; stroke-width: 3.3"/>
      </g>
     </g>
    </g>
    <g id="xtick_157">
     <g id="line2d_217">
      <g>
       <use href="#mb623954a8e" x="770.990591" y="1489.4" style="stroke: #000000; stroke-width: 3.3"/>
      </g>
     </g>
    </g>
    <g id="xtick_158">
     <g id="line2d_218">
      <g>
       <use href="#mb623954a8e" x="812.113807" y="1489.4" style="stroke: #000000; stroke-width: 3.3"/>
      </g>
     </g>
    </g>
    <g id="xtick_159">
     <g id="line2d_219">
      <g>
       <use href="#mb623954a8e" x="832.995295" y="1489.4" style="stroke: #000000; stroke-width: 3.3"/>
      </g>
     </g>
    </g>
    <g id="xtick_160">
     <g id="line2d_220">
      <g>
       <use href="#mb623954a8e" x="847.810947" y="1489.4" style="stroke: #000000; stroke-width: 3.3"/>
      </g>
     </g>
    </g>
    <g id="xtick_161">
     <g id="line2d_221">
      <g>
       <use href="#mb623954a8e" x="859.30286" y="1489.4" style="stroke: #000000; stroke-width: 3.3"/>
      </g>
     </g>
    </g>
    <g id="xtick_162">
     <g id="line2d_222">
      <g>
       <use href="#mb623954a8e" x="868.692436" y="1489.4" style="stroke: #000000; stroke-width: 3.3"/>
      </g>
     </g>
    </g>
    <g id="xtick_163">
     <g id="line2d_223">
      <g>
       <use href="#mb623954a8e" x="876.631209" y="1489.4" style="stroke: #000000; stroke-width: 3.3"/>
      </g>
     </g>
    </g>
    <g id="xtick_164">
     <g id="line2d_224">
      <g>
       <use href="#mb623954a8e" x="883.508088" y="1489.4" style="stroke: #000000; stroke-width: 3.3"/>
      </g>
     </g>
    </g>
    <g id="xtick_165">
     <g id="line2d_225">
      <g>
       <use href="#mb623954a8e" x="889.573924" y="1489.4" style="stroke: #000000; stroke-width: 3.3"/>
      </g>
     </g>
    </g>
   </g>
   <g id="matplotlib.axis_6">
    <g id="ytick_31">
     <g id="line2d_226">
      <path d="M 183.5 1332.166698 
L 895 1332.166698 
" clip-path="url(#p9ddf4ae7c1)" style="fill: none; stroke: #d3d3d3"/>
     </g>
     <g id="line2d_227">
      <g>
       <use href="#m70b90a0493" x="183.5" y="1332.166698" style="stroke: #000000; stroke-width: 5.3"/>
      </g>
     </g>
     <g id="text_12">
      
      <g transform="translate(82.385 1346.945658)">
       <text>
        <tspan x="0" y="-0.164062" style="font-size: 38.9px; font-family: 'DejaVu Sans'">1</tspan>
        <tspan x="24.733459" y="-0.164062" style="font-size: 38.9px; font-family: 'DejaVu Sans'">0</tspan>
        <tspan x="49.840161" y="-15.09375" style="font-size: 27.23px; font-family: 'DejaVu Sans'">−</tspan>
        <tspan x="72.64126" y="-15.09375" style="font-size: 27.23px; font-family: 'DejaVu Sans'">4</tspan>
       </text>
      </g>
     </g>
    </g>
    <g id="ytick_32">
     <g id="line2d_228">
      <path d="M 183.5 1107.216698 
L 895 1107.216698 
" clip-path="url(#p9ddf4ae7c1)" style="fill: none; stroke: #d3d3d3"/>
     </g>
     <g id="line2d_229">
      <g>
       <use href="#m70b90a0493" x="183.5" y="1107.216698" style="stroke: #000000; stroke-width: 5.3"/>
      </g>
     </g>
     <g id="text_13">
      
      <g transform="translate(82.385 1121.995658)">
       <text>
        <tspan x="0" y="-0.803125" style="font-size: 38.9px; font-family: 'DejaVu Sans'">1</tspan>
        <tspan x="24.733459" y="-0.803125" style="font-size: 38.9px; font-family: 'DejaVu Sans'">0</tspan>
        <tspan x="49.840161" y="-15.732813" style="font-size: 27.23px; font-family: 'DejaVu Sans'">−</tspan>
        <tspan x="72.64126" y="-15.732813" style="font-size: 27.23px; font-family: 'DejaVu Sans'">3</tspan>
       </text>
      </g>
     </g>
    </g>
    <g id="ytick_33">
     <g id="line2d_230">
      <g>
       <use href="#m3a5959d019" x="183.5" y="1489.4" style="stroke: #000000; stroke-width: 3.3"/>
      </g>
     </g>
    </g>
    <g id="ytick_34">
     <g id="line2d_231">
      <g>
       <use href="#m3a5959d019" x="183.5" y="1449.788271" style="stroke: #000000; stroke-width: 3.3"/>
      </g>
     </g>
    </g>
    <g id="ytick_35">
     <g id="line2d_232">
      <g>
       <use href="#m3a5959d019" x="183.5" y="1421.683302" style="stroke: #000000; stroke-width: 3.3"/>
      </g>
     </g>
    </g>
    <g id="ytick_36">
     <g id="line2d_233">
      <g>
       <use href="#m3a5959d019" x="183.5" y="1399.883395" style="stroke: #000000; stroke-width: 3.3"/>
      </g>
     </g>
    </g>
    <g id="ytick_37">
     <g id="line2d_234">
      <g>
       <use href="#m3a5959d019" x="183.5" y="1382.071574" style="stroke: #000000; stroke-width: 3.3"/>
      </g>
     </g>
    </g>
    <g id="ytick_38">
     <g id="line2d_235">
      <g>
       <use href="#m3a5959d019" x="183.5" y="1367.011893" style="stroke: #000000; stroke-width: 3.3"/>
      </g>
     </g>
    </g>
    <g id="ytick_39">
     <g id="line2d_236">
      <g>
       <use href="#m3a5959d019" x="183.5" y="1353.966605" style="stroke: #000000; stroke-width: 3.3"/>
      </g>
     </g>
    </g>
    <g id="ytick_40">
     <g id="line2d_237">
      <g>
       <use href="#m3a5959d019" x="183.5" y="1342.459845" style="stroke: #000000; stroke-width: 3.3"/>
      </g>
     </g>
    </g>
    <g id="ytick_41">
     <g id="line2d_238">
      <g>
       <use href="#m3a5959d019" x="183.5" y="1264.45" style="stroke: #000000; stroke-width: 3.3"/>
      </g>
     </g>
    </g>
    <g id="ytick_42">
     <g id="line2d_239">
      <g>
       <use href="#m3a5959d019" x="183.5" y="1224.838271" style="stroke: #000000; stroke-width: 3.3"/>
      </g>
     </g>
    </g>
    <g id="ytick_43">
     <g id="line2d_240">
      <g>
       <use href="#m3a5959d019" x="183.5" y="1196.733302" style="stroke: #000000; stroke-width: 3.3"/>
      </g>
     </g>
    </g>
    <g id="ytick_44">
     <g id="line2d_241">
      <g>
       <use href="#m3a5959d019" x="183.5" y="1174.933395" style="stroke: #000000; stroke-width: 3.3"/>
      </g>
     </g>
    </g>
    <g id="ytick_45">
     <g id="line2d_242">
      <g>
       <use href="#m3a5959d019" x="183.5" y="1157.121574" style="stroke: #000000; stroke-width: 3.3"/>
      </g>
     </g>
    </g>
    <g id="ytick_46">
     <g id="line2d_243">
      <g>
       <use href="#m3a5959d019" x="183.5" y="1142.061893" style="stroke: #000000; stroke-width: 3.3"/>
      </g>
     </g>
    </g>
    <g id="ytick_47">
     <g id="line2d_244">
      <g>
       <use href="#m3a5959d019" x="183.5" y="1129.016605" style="stroke: #000000; stroke-width: 3.3"/>
      </g>
     </g>
    </g>
    <g id="ytick_48">
     <g id="line2d_245">
      <g>
       <use href="#m3a5959d019" x="183.5" y="1117.509845" style="stroke: #000000; stroke-width: 3.3"/>
      </g>
     </g>
    </g>
    <g id="ytick_49">
     <g id="line2d_246">
      <g>
       <use href="#m3a5959d019" x="183.5" y="1039.5" style="stroke: #000000; stroke-width: 3.3"/>
      </g>
     </g>
    </g>
   </g>
   <g id="line2d_247">
    <path d="M 302.083333 1252.567681 
L 318.726608 1253.600466 
L 331.803467 1254.621333 
L 343.69152 1255.758508 
L 354.390769 1256.986593 
L 365.090017 1258.438907 
L 374.600459 1259.941772 
L 384.110902 1261.665515 
L 393.621345 1263.630707 
L 401.942982 1265.564482 
L 410.26462 1267.712645 
L 418.586257 1270.088974 
L 426.907895 1272.70725 
L 435.229532 1275.581253 
L 443.55117 1278.724761 
L 450.684002 1281.644148 
L 457.816834 1284.780305 
L 466.138471 1288.702048 
L 475.648914 1293.441315 
L 492.292189 1302.045756 
L 506.557853 1309.320533 
L 516.068296 1313.905936 
L 523.201128 1317.120667 
L 530.33396 1320.086758 
L 536.277987 1322.33197 
L 542.222013 1324.339932 
L 548.16604 1326.081286 
L 552.921261 1327.262685 
L 557.676483 1328.239638 
L 562.431704 1328.997112 
L 567.186926 1329.520079 
L 571.942147 1329.793507 
L 576.697368 1329.802443 
L 581.45259 1329.537892 
L 586.207811 1329.000987 
L 590.963033 1328.193847 
L 595.718254 1327.118591 
L 600.473475 1325.777338 
L 605.228697 1324.172206 
L 609.983918 1322.305314 
L 614.73914 1320.17878 
L 619.494361 1317.794723 
L 624.249582 1315.155262 
L 629.004804 1312.262515 
L 633.760025 1309.118601 
L 638.515246 1305.725639 
L 643.270468 1302.085747 
L 648.025689 1298.202021 
L 653.969716 1293.02837 
L 659.913743 1287.542485 
L 667.046575 1280.611243 
L 674.179407 1273.37432 
L 683.68985 1263.38515 
L 695.577903 1250.54844 
L 709.843567 1234.783744 
L 732.430869 1209.415499 
L 776.416667 1159.995326 
L 776.416667 1159.995326 
" clip-path="url(#p9ddf4ae7c1)" style="fill: none; stroke-dasharray: 9.7,16.005; stroke-dashoffset: 0; stroke: #ff0000; stroke-width: 9.7"/>
   </g>
   <g id="patch_13">
    <path d="M 183.5 1489.4 
L 183.5 1039.5 
" style="fill: none; stroke: #000000; stroke-width: 2.8; stroke-linejoin: miter; stroke-linecap: square"/>
   </g>
   <g id="patch_14">
    <path d="M 895 1489.4 
L 895 1039.5 
" style="fill: none; stroke: #000000; stroke-width: 2.8; stroke-linejoin: miter; stroke-linecap: square"/>
   </g>
   <g id="patch_15">
    <path d="M 183.5 1489.4 
L 895 1489.4 
" style="fill: none; stroke: #000000; stroke-width: 2.8; stroke-linejoin: miter; stroke-linecap: square"/>
   </g>
   <g id="patch_16">
    <path d="M 183.5 1039.5 
L 895 1039.5 
" style="fill: none; stroke: #000000; stroke-width: 2.8; stroke-linejoin: miter; stroke-linecap: square"/>
   </g>
  </g>
  <g id="axes_4">
   <g id="patch_17">
    <path d="M 1108.6 499.7 
L 1819.9 499.7 
L 1819.9 49.7 
L 1108.6 49.7 
z
" style="fill: #ffffff"/>
   </g>
   <g id="matplotlib.axis_7">
    <g id="xtick_166">
     <g id="line2d_248">
      <path d="M 1241.96875 499.7 
L 1241.96875 49.7 
" clip-path="url(#p439a33444d)" style="fill: none; stroke: #d3d3d3"/>
     </g>
     <g id="line2d_249">
      <g>
       <use href="#m03711f5c3c" x="1241.96875" y="499.7" style="stroke: #000000; stroke-width: 5.3"/>
      </g>
     </g>
    </g>
    <g id="xtick_167">
     <g id="line2d_250">
      <path d="M 1464.25 499.7 
L 1464.25 49.7 
" clip-path="url(#p439a33444d)" style="fill: none; stroke: #d3d3d3"/>
     </g>
     <g id="line2d_251">
      <g>
       <use href="#m03711f5c3c" x="1464.25" y="499.7" style="stroke: #000000; stroke-width: 5.3"/>
      </g>
     </g>
    </g>
    <g id="xtick_168">
     <g id="line2d_252">
      <path d="M 1686.53125 499.7 
L 1686.53125 49.7 
" clip-path="url(#p439a33444d)" style="fill: none; stroke: #d3d3d3"/>
     </g>
     <g id="line2d_253">
      <g>
       <use href="#m03711f5c3c" x="1686.53125" y="499.7" style="stroke: #000000; stroke-width: 5.3"/>
      </g>
     </g>
    </g>
    <g id="xtick_169">
     <g id="line2d_254">
      <g>
       <use href="#mb623954a8e" x="1108.6" y="499.7" style="stroke: #000000; stroke-width: 3.3"/>
      </g>
     </g>
    </g>
    <g id="xtick_170">
     <g id="line2d_255">
      <g>
       <use href="#mb623954a8e" x="1153.05625" y="499.7" style="stroke: #000000; stroke-width: 3.3"/>
      </g>
     </g>
    </g>
    <g id="xtick_171">
     <g id="line2d_256">
      <g>
       <use href="#mb623954a8e" x="1197.5125" y="499.7" style="stroke: #000000; stroke-width: 3.3"/>
      </g>
     </g>
    </g>
    <g id="xtick_172">
     <g id="line2d_257">
      <g>
       <use href="#mb623954a8e" x="1286.425" y="499.7" style="stroke: #000000; stroke-width: 3.3"/>
      </g>
     </g>
    </g>
    <g id="xtick_173">
     <g id="line2d_258">
      <g>
       <use href="#mb623954a8e" x="1330.88125" y="499.7" style="stroke: #000000; stroke-width: 3.3"/>
      </g>
     </g>
    </g>
    <g id="xtick_174">
     <g id="line2d_259">
      <g>
       <use href="#mb623954a8e" x="1375.3375" y="499.7" style="stroke: #000000; stroke-width: 3.3"/>
      </g>
     </g>
    </g>
    <g id="xtick_175">
     <g id="line2d_260">
      <g>
       <use href="#mb623954a8e" x="1419.79375" y="499.7" style="stroke: #000000; stroke-width: 3.3"/>
      </g>
     </g>
    </g>
    <g id="xtick_176">
     <g id="line2d_261">
      <g>
       <use href="#mb623954a8e" x="1508.70625" y="499.7" style="stroke: #000000; stroke-width: 3.3"/>
      </g>
     </g>
    </g>
    <g id="xtick_177">
     <g id="line2d_262">
      <g>
       <use href="#mb623954a8e" x="1553.1625" y="499.7" style="stroke: #000000; stroke-width: 3.3"/>
      </g>
     </g>
    </g>
    <g id="xtick_178">
     <g id="line2d_263">
      <g>
       <use href="#mb623954a8e" x="1597.61875" y="499.7" style="stroke: #000000; stroke-width: 3.3"/>
      </g>
     </g>
    </g>
    <g id="xtick_179">
     <g id="line2d_264">
      <g>
       <use href="#mb623954a8e" x="1642.075" y="499.7" style="stroke: #000000; stroke-width: 3.3"/>
      </g>
     </g>
    </g>
    <g id="xtick_180">
     <g id="line2d_265">
      <g>
       <use href="#mb623954a8e" x="1730.9875" y="499.7" style="stroke: #000000; stroke-width: 3.3"/>
      </g>
     </g>
    </g>
    <g id="xtick_181">
     <g id="line2d_266">
      <g>
       <use href="#mb623954a8e" x="1775.44375" y="499.7" style="stroke: #000000; stroke-width: 3.3"/>
      </g>
     </g>
    </g>
    <g id="xtick_182">
     <g id="line2d_267">
      <g>
       <use href="#mb623954a8e" x="1819.9" y="499.7" style="stroke: #000000; stroke-width: 3.3"/>
      </g>
     </g>
    </g>
   </g>
   <g id="matplotlib.axis_8">
    <g id="ytick_50">
     <g id="line2d_268">
      <path d="M 1108.6 391.3818 
L 1819.9 391.3818 
" clip-path="url(#p439a33444d)" style="fill: none; stroke: #d3d3d3"/>
     </g>
     <g id="line2d_269">
      <g>
       <use href="#m70b90a0493" x="1108.6" y="391.3818" style="stroke: #000000; stroke-width: 5.3"/>
      </g>
     </g>
     <g id="text_14">
      
      <g transform="translate(1007.485 406.160761)">
       <text>
        <tspan x="0" y="-0.164062" style="font-size: 38.9px; font-family: 'DejaVu Sans'">1</tspan>
        <tspan x="24.733459" y="-0.164062" style="font-size: 38.9px; font-family: 'DejaVu Sans'">0</tspan>
        <tspan x="49.840161" y="-15.09375" style="font-size: 27.23px; font-family: 'DejaVu Sans'">−</tspan>
        <tspan x="72.64126" y="-15.09375" style="font-size: 27.23px; font-family: 'DejaVu Sans'">1</tspan>
       </text>
      </g>
     </g>
    </g>
    <g id="ytick_51">
     <g id="line2d_270">
      <path d="M 1108.6 119.184489 
L 1819.9 119.184489 
" clip-path="url(#p439a33444d)" style="fill: none; stroke: #d3d3d3"/>
     </g>
     <g id="line2d_271">
      <g>
       <use href="#m70b90a0493" x="1108.6" y="119.184489" style="stroke: #000000; stroke-width: 5.3"/>
      </g>
     </g>
     <g id="text_15">
      
      <g transform="translate(1030.436 133.96345)">
       <text>
        <tspan x="0" y="-0.803125" style="font-size: 38.9px; font-family: 'DejaVu Sans'">1</tspan>
        <tspan x="24.733459" y="-0.803125" style="font-size: 38.9px; font-family: 'DejaVu Sans'">0</tspan>
        <tspan x="49.840161" y="-15.732813" style="font-size: 27.23px; font-family: 'DejaVu Sans'">0</tspan>
       </text>
      </g>
     </g>
    </g>
    <g id="ytick_52">
     <g id="line2d_272">
      <g>
       <use href="#m3a5959d019" x="1108.6" y="499.7" style="stroke: #000000; stroke-width: 3.3"/>
      </g>
     </g>
    </g>
    <g id="ytick_53">
     <g id="line2d_273">
      <g>
       <use href="#m3a5959d019" x="1108.6" y="473.321355" style="stroke: #000000; stroke-width: 3.3"/>
      </g>
     </g>
    </g>
    <g id="ytick_54">
     <g id="line2d_274">
      <g>
       <use href="#m3a5959d019" x="1108.6" y="451.768433" style="stroke: #000000; stroke-width: 3.3"/>
      </g>
     </g>
    </g>
    <g id="ytick_55">
     <g id="line2d_275">
      <g>
       <use href="#m3a5959d019" x="1108.6" y="433.545697" style="stroke: #000000; stroke-width: 3.3"/>
      </g>
     </g>
    </g>
    <g id="ytick_56">
     <g id="line2d_276">
      <g>
       <use href="#m3a5959d019" x="1108.6" y="417.760445" style="stroke: #000000; stroke-width: 3.3"/>
      </g>
     </g>
    </g>
    <g id="ytick_57">
     <g id="line2d_277">
      <g>
       <use href="#m3a5959d019" x="1108.6" y="403.836866" style="stroke: #000000; stroke-width: 3.3"/>
      </g>
     </g>
    </g>
    <g id="ytick_58">
     <g id="line2d_278">
      <g>
       <use href="#m3a5959d019" x="1108.6" y="309.442245" style="stroke: #000000; stroke-width: 3.3"/>
      </g>
     </g>
    </g>
    <g id="ytick_59">
     <g id="line2d_279">
      <g>
       <use href="#m3a5959d019" x="1108.6" y="261.510678" style="stroke: #000000; stroke-width: 3.3"/>
      </g>
     </g>
    </g>
    <g id="ytick_60">
     <g id="line2d_280">
      <g>
       <use href="#m3a5959d019" x="1108.6" y="227.502689" style="stroke: #000000; stroke-width: 3.3"/>
      </g>
     </g>
    </g>
    <g id="ytick_61">
     <g id="line2d_281">
      <g>
       <use href="#m3a5959d019" x="1108.6" y="201.124045" style="stroke: #000000; stroke-width: 3.3"/>
      </g>
     </g>
    </g>
    <g id="ytick_62">
     <g id="line2d_282">
      <g>
       <use href="#m3a5959d019" x="1108.6" y="179.571122" style="stroke: #000000; stroke-width: 3.3"/>
      </g>
     </g>
    </g>
    <g id="ytick_63">
     <g id="line2d_283">
      <g>
       <use href="#m3a5959d019" x="1108.6" y="161.348386" style="stroke: #000000; stroke-width: 3.3"/>
      </g>
     </g>
    </g>
    <g id="ytick_64">
     <g id="line2d_284">
      <g>
       <use href="#m3a5959d019" x="1108.6" y="145.563134" style="stroke: #000000; stroke-width: 3.3"/>
      </g>
     </g>
    </g>
    <g id="ytick_65">
     <g id="line2d_285">
      <g>
       <use href="#m3a5959d019" x="1108.6" y="131.639555" style="stroke: #000000; stroke-width: 3.3"/>
      </g>
     </g>
    </g>
   </g>
   <g id="line2d_286">
    <path d="M 1106.6 117.883856 
L 1110.578309 117.403573 
L 1116.943604 116.626838 
L 1122.513237 116.177256 
L 1128.878532 115.87744 
L 1136.83515 115.725721 
L 1143.200445 115.764108 
L 1145.58743 115.988009 
L 1147.178754 116.313925 
L 1148.770078 116.815499 
L 1150.361402 117.490897 
L 1152.748387 118.780778 
L 1155.931034 120.855715 
L 1163.887653 126.292136 
L 1174.231257 132.568014 
L 1182.983537 137.803294 
L 1195.714127 145.038186 
L 1203.670745 149.346042 
L 1209.240378 152.13108 
L 1214.810011 154.657125 
L 1221.175306 157.271561 
L 1228.336263 159.971023 
L 1237.088543 163.026309 
L 1245.840823 165.882495 
L 1253.00178 167.944518 
L 1262.549722 170.684794 
L 1267.323693 172.289867 
L 1272.097664 174.152246 
L 1276.871635 176.281385 
L 1281.645606 178.684368 
L 1285.623915 180.918846 
L 1289.602225 183.422501 
L 1293.580534 186.22229 
L 1297.558843 189.297177 
L 1301.537152 192.627046 
L 1305.515462 196.249587 
L 1309.493771 200.222405 
L 1313.47208 204.515496 
L 1318.246051 209.995919 
L 1324.611346 217.665022 
L 1339.728921 236.363268 
L 1346.094216 244.569086 
L 1351.663849 252.091087 
L 1356.43782 258.873696 
L 1360.416129 264.89229 
L 1363.598776 270.098088 
L 1375.533704 290.232367 
L 1380.307675 297.451776 
L 1384.285984 303.066952 
L 1387.468632 307.134441 
L 1390.651279 310.780642 
L 1393.833927 314.097096 
L 1397.016574 317.132383 
L 1400.199221 319.851016 
L 1403.381869 322.22205 
L 1406.564516 324.296684 
L 1410.542825 326.588761 
L 1413.725473 328.16517 
L 1416.90812 329.457327 
L 1420.090768 330.465328 
L 1424.069077 331.451657 
L 1428.843048 332.375126 
L 1433.617019 333.061668 
L 1440.777976 333.841485 
L 1445.551947 334.171775 
L 1450.325918 334.258652 
L 1457.486874 334.114836 
L 1463.852169 333.794117 
L 1467.034816 333.428324 
L 1470.217464 332.850337 
L 1474.991435 331.713243 
L 1481.35673 329.949504 
L 1486.130701 328.349604 
L 1491.700334 326.20033 
L 1497.269967 323.80648 
L 1502.043938 321.484889 
L 1506.022247 319.29545 
L 1509.204894 317.331745 
L 1512.387542 315.138832 
L 1515.570189 312.705247 
L 1518.752836 310.038682 
L 1521.935484 307.130141 
L 1525.118131 303.910475 
L 1528.300779 300.324686 
L 1532.279088 295.432724 
L 1537.848721 288.177219 
L 1541.82703 282.686085 
L 1551.374972 269.208162 
L 1555.353281 264.15336 
L 1560.127253 258.488244 
L 1595.136374 218.220338 
L 1601.501669 211.542594 
L 1609.458287 203.518296 
L 1615.823582 197.377322 
L 1621.393215 192.303021 
L 1626.167186 188.235739 
L 1630.941157 184.453632 
L 1636.51079 180.338762 
L 1642.876085 175.942997 
L 1650.037041 171.307533 
L 1658.789321 165.9492 
L 1670.724249 158.893675 
L 1676.293882 155.82747 
L 1681.067853 153.428699 
L 1685.841824 151.305607 
L 1690.615795 149.438332 
L 1696.98109 147.204894 
L 1704.142047 144.950831 
L 1712.894327 142.457115 
L 1725.624917 139.09089 
L 1736.764182 136.342842 
L 1746.312125 134.216625 
L 1754.268743 132.661383 
L 1762.225362 131.325345 
L 1772.568966 129.827051 
L 1783.708231 128.454617 
L 1797.234483 127.035368 
L 1810.760734 125.817701 
L 1820.308676 125.138027 
L 1821.9 125.071383 
L 1821.9 125.071383 
" clip-path="url(#p439a33444d)" style="fill: none; stroke: #000000; stroke-width: 6.5"/>
   </g>
   <g id="line2d_287">
    <path d="M 1106.6 117.856278 
L 1110.578309 117.448037 
L 1116.943604 116.787813 
L 1123.308899 116.364238 
L 1130.469855 116.111136 
L 1140.017798 116.009453 
L 1143.996107 116.102499 
L 1146.383092 116.396185 
L 1147.974416 116.775948 
L 1149.56574 117.319435 
L 1151.952725 118.411168 
L 1154.339711 119.755599 
L 1159.113682 122.801216 
L 1163.091991 125.258859 
L 1168.661624 128.33749 
L 1186.166185 137.745974 
L 1200.488098 144.98773 
L 1207.649055 148.327534 
L 1213.218687 150.697315 
L 1220.379644 153.473336 
L 1229.927586 156.912689 
L 1244.249499 161.809855 
L 1251.410456 164.057579 
L 1261.75406 167.262602 
L 1266.528031 168.956714 
L 1271.302002 170.888975 
L 1276.075973 173.073586 
L 1280.849944 175.516858 
L 1284.828254 177.769613 
L 1288.806563 180.271773 
L 1292.784872 183.056576 
L 1296.763181 186.106758 
L 1301.537152 190.083569 
L 1305.515462 193.685101 
L 1309.493771 197.593212 
L 1314.267742 202.643102 
L 1319.837375 208.90864 
L 1330.180979 221.019494 
L 1348.481201 242.614479 
L 1354.050834 249.638934 
L 1358.824805 256.042773 
L 1362.007453 260.627601 
L 1365.985762 266.759063 
L 1375.533704 281.716714 
L 1382.694661 292.461734 
L 1386.67297 298.024808 
L 1389.855617 302.094095 
L 1393.833927 306.770665 
L 1397.812236 311.11241 
L 1400.994883 314.299374 
L 1404.177531 317.172089 
L 1407.360178 319.731954 
L 1410.542825 321.990427 
L 1413.725473 323.950442 
L 1416.90812 325.628782 
L 1420.090768 327.043302 
L 1423.273415 328.24123 
L 1427.251724 329.483561 
L 1431.230033 330.460953 
L 1436.799666 331.538294 
L 1442.369299 332.3975 
L 1446.347608 332.794675 
L 1450.325918 332.96147 
L 1456.691212 332.948844 
L 1463.852169 332.74898 
L 1467.034816 332.480896 
L 1470.217464 332.013109 
L 1474.195773 331.199672 
L 1479.765406 329.813478 
L 1484.539377 328.40912 
L 1490.10901 326.537253 
L 1494.882981 324.724149 
L 1498.86129 323.00289 
L 1502.8396 321.058942 
L 1506.817909 318.869171 
L 1510.000556 316.906137 
L 1513.183204 314.707372 
L 1516.365851 312.25192 
L 1519.548498 309.54814 
L 1522.731146 306.593069 
L 1525.913793 303.345725 
L 1529.09644 299.785517 
L 1533.07475 294.930838 
L 1537.053059 289.71545 
L 1541.82703 283.05309 
L 1551.374972 269.459222 
L 1556.148943 263.161278 
L 1562.514238 255.165541 
L 1570.470857 245.5528 
L 1582.405784 231.460557 
L 1590.362403 222.411671 
L 1596.727697 215.519048 
L 1603.888654 208.136666 
L 1611.845273 200.231662 
L 1618.210567 194.231547 
L 1623.7802 189.314137 
L 1628.554171 185.399827 
L 1634.123804 181.16584 
L 1639.693437 177.208344 
L 1646.058732 172.958715 
L 1653.219689 168.447677 
L 1664.358954 161.748485 
L 1672.315573 157.13627 
L 1677.885206 154.149785 
L 1682.659177 151.843794 
L 1687.433148 149.820738 
L 1693.002781 147.739938 
L 1699.368076 145.603524 
L 1706.529032 143.432858 
L 1716.076974 140.789623 
L 1730.398888 137.079413 
L 1740.742492 134.618119 
L 1749.494772 132.759055 
L 1757.45139 131.297621 
L 1766.203671 129.926225 
L 1776.547275 128.529902 
L 1788.482202 127.160848 
L 1803.599778 125.668053 
L 1816.330367 124.622845 
L 1821.9 124.301985 
L 1821.9 124.301985 
" clip-path="url(#p439a33444d)" style="fill: none; stroke: #13305f; stroke-width: 6.5"/>
   </g>
   <g id="line2d_288">
    <path d="M 1106.6 117.773543 
L 1115.35228 117.337612 
L 1124.104561 117.053302 
L 1135.243826 116.916713 
L 1143.996107 116.976161 
L 1146.383092 117.194805 
L 1148.770078 117.66378 
L 1151.157063 118.394926 
L 1154.339711 119.679556 
L 1165.478977 124.61156 
L 1176.618242 128.723195 
L 1187.757508 132.645981 
L 1202.079422 137.485198 
L 1211.627364 140.430715 
L 1228.336263 145.49902 
L 1236.292881 148.196285 
L 1246.636485 151.960678 
L 1259.367075 156.762304 
L 1264.936707 159.100877 
L 1270.50634 161.697076 
L 1275.280311 164.149408 
L 1280.054283 166.819983 
L 1284.828254 169.739516 
L 1288.806563 172.420167 
L 1292.784872 175.347268 
L 1297.558843 179.155017 
L 1302.332814 183.245379 
L 1307.106785 187.617929 
L 1311.880756 192.269179 
L 1317.450389 198.024116 
L 1323.020022 204.103874 
L 1330.976641 213.151273 
L 1340.524583 224.331693 
L 1346.889878 232.071662 
L 1352.459511 239.170996 
L 1358.029143 246.634358 
L 1362.803115 253.407666 
L 1369.168409 262.940458 
L 1378.716352 277.603888 
L 1385.081646 287.393937 
L 1389.059956 293.092085 
L 1393.038265 298.366807 
L 1397.812236 304.359875 
L 1401.790545 309.022081 
L 1404.973192 312.413221 
L 1408.15584 315.435458 
L 1410.542825 317.439135 
L 1413.725473 319.795762 
L 1416.90812 321.873327 
L 1420.090768 323.707703 
L 1423.273415 325.310587 
L 1426.456062 326.68294 
L 1429.63871 327.821602 
L 1433.617019 328.985778 
L 1439.186652 330.36031 
L 1443.164961 331.142367 
L 1446.347608 331.586586 
L 1449.530256 331.841003 
L 1454.304227 331.967443 
L 1463.056507 331.959903 
L 1467.034816 331.768869 
L 1470.217464 331.408323 
L 1474.195773 330.708815 
L 1478.969744 329.617648 
L 1484.539377 328.099961 
L 1490.904672 326.147895 
L 1494.882981 324.731867 
L 1498.86129 323.072981 
L 1502.8396 321.165111 
L 1506.817909 319.012096 
L 1510.796218 316.577028 
L 1513.978865 314.354077 
L 1517.161513 311.857257 
L 1520.34416 309.101451 
L 1523.526808 306.098361 
L 1526.709455 302.842274 
L 1529.892102 299.31491 
L 1533.07475 295.466348 
L 1536.257397 291.295827 
L 1540.235706 285.733334 
L 1553.761958 266.413499 
L 1561.718576 255.639945 
L 1567.288209 248.435805 
L 1573.653504 240.609586 
L 1581.610122 231.205579 
L 1588.771079 223.092871 
L 1595.136374 216.196413 
L 1602.29733 208.782357 
L 1610.253949 200.830714 
L 1616.619244 194.761728 
L 1622.188877 189.759689 
L 1626.962848 185.758893 
L 1631.736819 182.036534 
L 1637.306452 177.975814 
L 1643.671746 173.630746 
L 1650.832703 169.041204 
L 1659.584983 163.723734 
L 1671.519911 156.724214 
L 1677.089544 153.707353 
L 1681.863515 151.36311 
L 1686.637486 149.29956 
L 1692.207119 147.191016 
L 1698.572414 145.03444 
L 1705.73337 142.848798 
L 1715.281313 140.196095 
L 1729.603226 136.473074 
L 1739.94683 133.990117 
L 1748.69911 132.108575 
L 1756.655729 130.627364 
L 1765.408009 129.247054 
L 1775.751613 127.8482 
L 1787.686541 126.47541 
L 1802.804116 124.974619 
L 1815.534705 123.913825 
L 1821.9 123.532586 
L 1821.9 123.532586 
" clip-path="url(#p439a33444d)" style="fill: none; stroke: #34508a; stroke-width: 6.5"/>
   </g>
   <g id="line2d_289">
    <path d="M 1106.6 117.7 
L 1144.791769 117.787427 
L 1147.178754 117.992 
L 1149.56574 118.378755 
L 1152.748387 119.149615 
L 1157.522358 120.607972 
L 1162.296329 122.04104 
L 1167.0703 123.199541 
L 1176.618242 125.190364 
L 1199.692436 129.699213 
L 1217.196997 133.016027 
L 1222.76663 134.313226 
L 1228.336263 135.851039 
L 1233.905895 137.648557 
L 1240.27119 139.971952 
L 1247.432147 142.849 
L 1255.388765 146.284271 
L 1261.75406 149.269529 
L 1267.323693 152.106468 
L 1272.893326 155.170114 
L 1278.462959 158.475986 
L 1283.23693 161.527327 
L 1288.010901 164.855764 
L 1292.784872 168.495172 
L 1297.558843 172.408359 
L 1303.128476 177.257817 
L 1309.493771 183.085525 
L 1315.859066 189.190073 
L 1321.428699 194.873991 
L 1326.998331 200.885737 
L 1333.363626 208.106363 
L 1340.524583 216.606585 
L 1346.094216 223.512414 
L 1351.663849 230.75984 
L 1358.029143 239.42067 
L 1365.1901 249.541406 
L 1372.351057 260.005185 
L 1377.125028 267.398482 
L 1389.059956 286.273255 
L 1393.833927 293.138199 
L 1400.199221 301.910854 
L 1403.381869 306.008876 
L 1406.564516 309.748901 
L 1408.951502 312.252978 
L 1411.338487 314.489192 
L 1414.521135 317.147836 
L 1418.499444 320.126527 
L 1421.682091 322.254232 
L 1424.864739 324.126716 
L 1428.047386 325.718904 
L 1431.230033 327.044287 
L 1436.004004 328.730826 
L 1440.777976 330.175733 
L 1443.960623 330.946781 
L 1447.14327 331.509317 
L 1450.325918 331.843516 
L 1455.099889 332.071561 
L 1463.056507 332.23692 
L 1467.034816 332.145004 
L 1470.217464 331.863972 
L 1473.400111 331.381697 
L 1477.37842 330.548817 
L 1482.152392 329.317984 
L 1490.10901 327.012389 
L 1494.087319 325.668781 
L 1498.065628 324.045842 
L 1502.043938 322.146853 
L 1506.022247 320.001911 
L 1510.000556 317.608011 
L 1513.183204 315.439512 
L 1516.365851 312.988237 
L 1519.548498 310.264022 
L 1523.526808 306.523228 
L 1527.505117 302.456341 
L 1530.687764 298.919618 
L 1533.870412 295.005889 
L 1537.053059 290.709 
L 1541.82703 283.809761 
L 1550.57931 271.09176 
L 1565.696885 249.753685 
L 1570.470857 243.563759 
L 1576.040489 236.737994 
L 1582.405784 229.281934 
L 1588.771079 222.154891 
L 1595.932036 214.495644 
L 1603.888654 206.338564 
L 1611.845273 198.471584 
L 1618.210567 192.500737 
L 1623.7802 187.606197 
L 1628.554171 183.708326 
L 1634.123804 179.489783 
L 1639.693437 175.545018 
L 1646.058732 171.308124 
L 1653.219689 166.81106 
L 1664.358954 160.136674 
L 1672.315573 155.543212 
L 1677.885206 152.56984 
L 1682.659177 150.274965 
L 1687.433148 148.262965 
L 1693.002781 146.195561 
L 1699.368076 144.074762 
L 1706.529032 141.9202 
L 1716.076974 139.292169 
L 1730.398888 135.584136 
L 1740.742492 133.116697 
L 1749.494772 131.256239 
L 1757.45139 129.802242 
L 1766.203671 128.449924 
L 1776.547275 127.080422 
L 1788.482202 125.731085 
L 1803.599778 124.245736 
L 1816.330367 123.197763 
L 1821.9 122.873101 
L 1821.9 122.873101 
" clip-path="url(#p439a33444d)" style="fill: none; stroke: #6f68a0; stroke-width: 6.5"/>
   </g>
   <g id="line2d_290">
    <path d="M 1106.6 117.7 
L 1145.58743 117.808186 
L 1148.770078 118.117764 
L 1151.952725 118.67542 
L 1156.726696 119.802255 
L 1163.091991 121.320788 
L 1168.661624 122.366472 
L 1183.779199 124.864884 
L 1196.509789 127.069054 
L 1213.218687 130.154121 
L 1220.379644 131.723839 
L 1225.949277 133.158846 
L 1231.51891 134.848425 
L 1237.088543 136.7782 
L 1243.453838 139.221449 
L 1251.410456 142.536312 
L 1258.571413 145.753791 
L 1264.936707 148.893176 
L 1271.302002 152.314576 
L 1277.667297 156.022119 
L 1283.23693 159.515288 
L 1288.010901 162.755458 
L 1292.784872 166.257179 
L 1298.354505 170.642148 
L 1303.924138 175.304498 
L 1310.289433 180.913754 
L 1315.859066 186.075558 
L 1321.428699 191.570696 
L 1326.998331 197.395314 
L 1333.363626 204.402474 
L 1340.524583 212.66171 
L 1346.094216 219.388729 
L 1351.663849 226.475732 
L 1358.029143 234.956069 
L 1365.985762 245.955208 
L 1373.146719 256.144906 
L 1377.92069 263.297045 
L 1388.264294 278.996714 
L 1393.038265 285.7154 
L 1400.199221 295.42338 
L 1404.177531 300.449443 
L 1407.360178 304.080547 
L 1409.747164 306.515593 
L 1412.929811 309.408152 
L 1416.90812 312.656776 
L 1420.886429 315.585769 
L 1424.069077 317.653118 
L 1427.251724 319.426448 
L 1430.434372 320.889667 
L 1434.412681 322.401949 
L 1439.186652 323.96561 
L 1443.164961 325.037466 
L 1446.347608 325.690096 
L 1449.530256 326.132001 
L 1453.508565 326.448308 
L 1460.669522 326.752719 
L 1466.239155 326.773512 
L 1470.217464 326.572358 
L 1474.195773 326.163556 
L 1478.969744 325.444902 
L 1484.539377 324.377165 
L 1490.10901 323.107399 
L 1493.291657 322.171255 
L 1496.474305 320.984155 
L 1499.656952 319.563571 
L 1503.635261 317.534036 
L 1508.409232 314.840351 
L 1512.387542 312.348526 
L 1515.570189 310.09261 
L 1519.548498 306.943856 
L 1524.322469 302.798315 
L 1529.892102 297.622312 
L 1533.870412 293.662663 
L 1537.848721 289.41388 
L 1542.622692 283.977035 
L 1548.192325 277.254773 
L 1552.170634 272.117827 
L 1556.148943 266.58457 
L 1567.288209 250.71235 
L 1571.266518 245.580287 
L 1576.836151 238.791144 
L 1583.201446 231.375598 
L 1589.566741 224.286703 
L 1596.727697 216.666372 
L 1605.479978 207.738601 
L 1612.640934 200.706805 
L 1618.210567 195.500754 
L 1623.7802 190.606205 
L 1628.554171 186.70833 
L 1634.123804 182.489784 
L 1639.693437 178.545019 
L 1646.058732 174.308124 
L 1653.219689 169.81106 
L 1664.358954 163.136674 
L 1672.315573 158.543212 
L 1677.885206 155.56984 
L 1682.659177 153.274965 
L 1687.433148 151.262965 
L 1693.002781 149.195561 
L 1699.368076 147.074762 
L 1706.529032 144.9202 
L 1716.076974 142.292169 
L 1730.398888 138.584136 
L 1740.742492 136.116697 
L 1749.494772 134.256239 
L 1757.45139 132.802242 
L 1766.203671 131.449924 
L 1776.547275 130.080422 
L 1788.482202 128.731085 
L 1803.599778 127.245736 
L 1816.330367 126.197763 
L 1821.9 125.873101 
L 1821.9 125.873101 
" clip-path="url(#p439a33444d)" style="fill: none; stroke: #8d72a8; stroke-width: 6.5"/>
   </g>
   <g id="line2d_291">
    <path d="M 1106.6 118.420174 
L 1135.243826 118.518274 
L 1139.222136 118.786528 
L 1143.200445 119.323215 
L 1146.383092 119.943391 
L 1150.361402 120.965546 
L 1157.522358 123.134416 
L 1165.478977 125.520446 
L 1172.639933 127.391106 
L 1180.596552 129.229242 
L 1210.831702 135.996464 
L 1220.379644 138.409265 
L 1226.744939 140.218479 
L 1233.110234 142.259631 
L 1239.475528 144.52408 
L 1247.432147 147.607598 
L 1256.184427 151.238296 
L 1262.549722 154.136852 
L 1268.119355 156.92125 
L 1272.893326 159.525272 
L 1277.667297 162.378474 
L 1282.441268 165.507002 
L 1287.215239 168.917182 
L 1291.98921 172.603442 
L 1297.558843 177.196487 
L 1303.924138 182.762823 
L 1309.493771 187.964145 
L 1315.063404 193.483677 
L 1321.428699 200.141568 
L 1330.976641 210.519678 
L 1339.728921 220.285698 
L 1349.276863 231.291147 
L 1359.620467 243.5801 
L 1367.577086 253.299398 
L 1376.329366 264.369145 
L 1384.285984 274.469117 
L 1389.059956 280.171922 
L 1394.629588 286.392943 
L 1400.994883 293.209088 
L 1404.973192 297.138058 
L 1408.15584 299.962113 
L 1411.338487 302.457799 
L 1415.316796 305.234504 
L 1419.295106 307.762429 
L 1423.273415 310.003612 
L 1426.456062 311.531914 
L 1429.63871 312.791724 
L 1433.617019 314.059263 
L 1439.186652 315.546289 
L 1443.164961 316.413173 
L 1447.14327 317.054878 
L 1451.12158 317.445715 
L 1457.486874 317.770412 
L 1463.852169 317.905598 
L 1468.62614 317.79647 
L 1472.604449 317.496896 
L 1477.37842 316.908368 
L 1482.948053 315.978824 
L 1489.313348 314.683545 
L 1493.291657 313.652746 
L 1496.474305 312.61053 
L 1500.452614 311.042252 
L 1504.430923 309.20503 
L 1509.204894 306.710353 
L 1513.183204 304.369782 
L 1517.161513 301.732417 
L 1521.935484 298.247137 
L 1527.505117 293.863543 
L 1532.279088 289.872092 
L 1537.053059 285.573504 
L 1541.82703 280.977479 
L 1547.396663 275.316242 
L 1551.374972 271.03527 
L 1555.353281 266.433798 
L 1560.922914 259.586047 
L 1568.083871 250.793283 
L 1574.449166 243.408954 
L 1583.201446 233.553943 
L 1590.362403 225.799832 
L 1597.523359 218.373651 
L 1607.071301 208.832054 
L 1614.232258 201.917399 
L 1619.801891 196.797336 
L 1624.575862 192.658394 
L 1629.349833 188.793368 
L 1634.919466 184.588279 
L 1641.284761 180.08299 
L 1647.650056 175.843394 
L 1654.811012 171.329163 
L 1665.950278 164.620296 
L 1673.111235 160.497781 
L 1678.680868 157.54126 
L 1683.454839 155.266505 
L 1688.22881 153.265187 
L 1693.798443 151.183402 
L 1700.163737 149.032405 
L 1707.324694 146.836973 
L 1716.872636 144.156443 
L 1729.603226 140.812255 
L 1739.94683 138.306803 
L 1748.69911 136.400591 
L 1756.655729 134.8818 
L 1765.408009 133.442457 
L 1775.751613 131.964289 
L 1787.686541 130.493366 
L 1802.804116 128.867313 
L 1816.330367 127.635246 
L 1821.9 127.273001 
L 1821.9 127.273001 
" clip-path="url(#p439a33444d)" style="fill: none; stroke: #b583b6; stroke-width: 6.5"/>
   </g>
   <g id="line2d_292">
    <path d="M 1106.6 118.870283 
L 1133.652503 118.963585 
L 1136.83515 119.151353 
L 1140.017798 119.605696 
L 1143.200445 120.322948 
L 1147.178754 121.500592 
L 1154.339711 123.982864 
L 1169.457286 129.14008 
L 1175.822581 131.015464 
L 1183.779199 133.08725 
L 1210.03604 139.731071 
L 1221.175306 142.817613 
L 1229.131924 145.245809 
L 1236.292881 147.663345 
L 1244.249499 150.601787 
L 1253.797442 154.366714 
L 1260.162736 157.082751 
L 1265.732369 159.692099 
L 1270.50634 162.148684 
L 1275.280311 164.868343 
L 1279.258621 167.389533 
L 1283.23693 170.144698 
L 1288.010901 173.739746 
L 1292.784872 177.612086 
L 1298.354505 182.402881 
L 1303.924138 187.439654 
L 1308.698109 192.047988 
L 1314.267742 197.789708 
L 1320.633037 204.7138 
L 1337.341935 223.421377 
L 1368.372747 258.745942 
L 1377.92069 269.34117 
L 1381.898999 273.460298 
L 1386.67297 278.054468 
L 1391.446941 282.29468 
L 1397.812236 287.591259 
L 1402.586207 291.343935 
L 1406.564516 294.200918 
L 1409.747164 296.246654 
L 1413.725473 298.532241 
L 1418.499444 301.031581 
L 1422.477753 302.894845 
L 1425.6604 304.182466 
L 1428.843048 305.248947 
L 1432.821357 306.297576 
L 1438.39099 307.499544 
L 1443.164961 308.345122 
L 1447.938932 308.952716 
L 1452.712903 309.30531 
L 1459.87386 309.586339 
L 1466.239155 309.621152 
L 1471.013126 309.394886 
L 1475.787097 308.91756 
L 1481.35673 308.103654 
L 1487.722024 306.928005 
L 1492.495996 305.852032 
L 1496.474305 304.723187 
L 1500.452614 303.360919 
L 1504.430923 301.730257 
L 1508.409232 299.845906 
L 1512.387542 297.740328 
L 1517.161513 294.923144 
L 1522.731146 291.352353 
L 1529.09644 286.982996 
L 1534.666073 282.894982 
L 1540.235706 278.503026 
L 1546.601001 273.184776 
L 1551.374972 268.970536 
L 1555.353281 265.195295 
L 1560.127253 260.349016 
L 1570.470857 249.367881 
L 1595.136374 223.285609 
L 1604.684316 213.842002 
L 1614.232258 204.640785 
L 1620.597553 198.817991 
L 1625.371524 194.713817 
L 1630.145495 190.878804 
L 1635.715128 186.68013 
L 1642.080423 182.153554 
L 1649.241379 177.359049 
L 1656.402336 172.830132 
L 1667.541602 166.098574 
L 1674.702558 162.014208 
L 1680.272191 159.117532 
L 1685.046162 156.906726 
L 1689.820133 154.94786 
L 1696.185428 152.595387 
L 1703.346385 150.210326 
L 1711.303003 147.8068 
L 1721.646607 144.929415 
L 1732.785873 142.039411 
L 1742.333815 139.769427 
L 1751.086096 137.897841 
L 1759.838376 136.257248 
L 1770.18198 134.569698 
L 1781.321246 132.985829 
L 1794.847497 131.311785 
L 1809.16941 129.753184 
L 1819.513014 128.811038 
L 1821.9 128.672902 
L 1821.9 128.672902 
" clip-path="url(#p439a33444d)" style="fill: none; stroke: #cb8c9a; stroke-width: 6.5"/>
   </g>
   <g id="line2d_293">
    <path d="M 1106.6 119.23037 
L 1132.856841 119.327996 
L 1136.039488 119.507833 
L 1138.426474 119.847788 
L 1140.813459 120.39651 
L 1143.996107 121.396112 
L 1147.974416 122.918023 
L 1156.726696 126.355127 
L 1172.639933 132.284305 
L 1178.209566 134.030396 
L 1186.166185 136.268169 
L 1206.853393 141.946934 
L 1223.562291 146.906002 
L 1232.314572 149.733241 
L 1240.27119 152.526982 
L 1250.614794 156.434869 
L 1258.571413 159.65012 
L 1264.141046 162.131768 
L 1268.915017 164.475848 
L 1273.688988 167.083248 
L 1277.667297 169.531375 
L 1281.645606 172.255204 
L 1285.623915 175.229775 
L 1290.397887 179.084604 
L 1295.967519 183.891431 
L 1302.332814 189.680461 
L 1307.106785 194.309919 
L 1311.880756 199.291878 
L 1317.450389 205.451159 
L 1334.159288 224.543142 
L 1342.115907 233.825117 
L 1352.459511 245.857205 
L 1358.029143 251.98993 
L 1364.394438 258.612199 
L 1373.146719 267.513982 
L 1377.125028 271.260952 
L 1380.307675 273.977668 
L 1383.490323 276.424035 
L 1387.468632 279.211067 
L 1392.242603 282.256411 
L 1398.607898 286.003205 
L 1404.177531 289.031614 
L 1408.951502 291.36063 
L 1414.521135 293.776403 
L 1420.090768 295.988479 
L 1424.069077 297.371463 
L 1428.047386 298.497765 
L 1432.025695 299.343351 
L 1438.39099 300.396054 
L 1444.756285 301.22846 
L 1450.325918 301.709808 
L 1457.486874 302.046657 
L 1464.647831 302.164714 
L 1469.421802 302.033112 
L 1474.195773 301.661184 
L 1478.969744 301.076582 
L 1484.539377 300.183779 
L 1490.904672 298.942644 
L 1495.678643 297.79756 
L 1500.452614 296.408013 
L 1503.635261 295.276432 
L 1507.613571 293.5989 
L 1512.387542 291.287557 
L 1517.957175 288.311526 
L 1525.118131 284.260942 
L 1532.279088 279.940328 
L 1538.644383 275.829899 
L 1546.601001 270.390156 
L 1552.966296 265.791889 
L 1557.740267 262.070549 
L 1562.514238 258.08885 
L 1568.879533 252.462209 
L 1575.244828 246.539008 
L 1583.997108 238.015676 
L 1595.136374 227.219673 
L 1615.823582 207.730012 
L 1622.188877 202.013441 
L 1626.962848 197.987182 
L 1632.532481 193.597992 
L 1638.897775 188.854915 
L 1646.058732 183.806337 
L 1653.219689 179.046093 
L 1661.176307 174.051257 
L 1670.724249 168.312604 
L 1677.089544 164.762378 
L 1681.863515 162.337188 
L 1686.637486 160.163895 
L 1692.207119 157.894337 
L 1698.572414 155.533585 
L 1705.73337 153.11773 
L 1713.689989 150.670098 
L 1723.237931 147.967137 
L 1733.581535 145.262703 
L 1743.925139 142.798596 
L 1753.473081 140.751022 
L 1763.021023 138.924399 
L 1774.160289 137.025478 
L 1786.095217 135.233545 
L 1800.41713 133.333513 
L 1813.943382 131.75651 
L 1821.104338 131.086116 
L 1821.9 131.041963 
L 1821.9 131.041963 
" clip-path="url(#p439a33444d)" style="fill: none; stroke: #f3a56f; stroke-width: 6.5"/>
   </g>
   <g id="line2d_294">
    <path d="M 1106.6 119.500435 
L 1132.061179 119.596089 
L 1135.243826 119.745685 
L 1137.630812 120.065818 
L 1140.017798 120.631167 
L 1142.404783 121.419922 
L 1145.58743 122.71537 
L 1156.726696 127.511516 
L 1175.026919 134.756699 
L 1181.392214 136.800041 
L 1190.144494 139.344274 
L 1203.670745 143.266415 
L 1225.153615 149.955543 
L 1235.497219 153.403103 
L 1244.249499 156.55741 
L 1255.388765 160.805505 
L 1261.75406 163.465644 
L 1267.323693 166.056674 
L 1272.097664 168.547722 
L 1276.075973 170.893907 
L 1280.054283 173.544675 
L 1284.032592 176.481967 
L 1288.806563 180.32496 
L 1294.376196 185.151301 
L 1300.741491 190.980308 
L 1305.515462 195.599125 
L 1309.493771 199.743621 
L 1314.267742 205.053628 
L 1320.633037 212.509867 
L 1338.137597 233.561677 
L 1354.050834 253.442665 
L 1358.029143 257.89622 
L 1362.007453 261.966639 
L 1367.577086 267.299811 
L 1371.555395 270.880151 
L 1374.738042 273.455623 
L 1377.125028 275.141332 
L 1379.512013 276.572552 
L 1381.898999 277.751171 
L 1385.081646 279.034283 
L 1389.059956 280.377717 
L 1393.833927 281.7495 
L 1400.199221 283.314089 
L 1416.90812 287.260957 
L 1424.069077 288.968892 
L 1428.047386 289.720003 
L 1432.821357 290.366959 
L 1442.369299 291.342549 
L 1451.12158 292.029449 
L 1458.282536 292.380878 
L 1464.647831 292.484972 
L 1469.421802 292.355625 
L 1474.195773 291.986824 
L 1478.969744 291.400255 
L 1484.539377 290.489835 
L 1490.904672 289.225009 
L 1498.86129 287.413472 
L 1502.8396 286.284262 
L 1506.022247 285.141823 
L 1510.000556 283.460742 
L 1525.913793 276.159589 
L 1536.257397 271.243878 
L 1565.696885 256.879309 
L 1570.470857 254.163346 
L 1575.244828 251.134261 
L 1580.018799 247.83073 
L 1585.588432 243.710612 
L 1593.54505 237.513184 
L 1602.29733 230.453846 
L 1607.866963 225.651362 
L 1627.758509 208.150079 
L 1634.919466 202.478638 
L 1642.876085 196.428708 
L 1650.037041 191.250381 
L 1656.402336 186.915163 
L 1664.358954 181.818943 
L 1671.519911 177.456154 
L 1677.885206 173.845294 
L 1683.454839 170.970374 
L 1689.024472 168.388889 
L 1695.389766 165.691762 
L 1702.550723 162.907587 
L 1709.71168 160.366894 
L 1716.872636 158.049034 
L 1724.829255 155.702559 
L 1733.581535 153.347489 
L 1743.925139 150.800581 
L 1757.45139 147.72389 
L 1770.977642 144.861341 
L 1782.91257 142.571245 
L 1795.643159 140.381577 
L 1809.16941 138.270687 
L 1819.513014 136.855105 
L 1821.9 136.641564 
L 1821.9 136.641564 
" clip-path="url(#p439a33444d)" style="fill: none; stroke: #fcdc77; stroke-width: 6.5"/>
   </g>
   <g id="patch_18">
    <path d="M 1108.6 499.7 
L 1108.6 49.7 
" style="fill: none; stroke: #000000; stroke-width: 2.8; stroke-linejoin: miter; stroke-linecap: square"/>
   </g>
   <g id="patch_19">
    <path d="M 1819.9 499.7 
L 1819.9 49.7 
" style="fill: none; stroke: #000000; stroke-width: 2.8; stroke-linejoin: miter; stroke-linecap: square"/>
   </g>
   <g id="patch_20">
    <path d="M 1108.6 499.7 
L 1819.9 499.7 
" style="fill: none; stroke: #000000; stroke-width: 2.8; stroke-linejoin: miter; stroke-linecap: square"/>
   </g>
   <g id="patch_21">
    <path d="M 1108.6 49.7 
L 1819.9 49.7 
" style="fill: none; stroke: #000000; stroke-width: 2.8; stroke-linejoin: miter; stroke-linecap: square"/>
   </g>
  </g>
  <g id="axes_5">
   <g id="patch_22">
    <path d="M 1108.6 994.6 
L 1819.9 994.6 
L 1819.9 544.6 
L 1108.6 544.6 
z
" style="fill: #ffffff"/>
   </g>
   <g id="matplotlib.axis_9">
    <g id="xtick_183">
     <g id="line2d_295">
      <path d="M 1241.96875 994.6 
L 1241.96875 544.6 
" clip-path="url(#p244bcbdf95)" style="fill: none; stroke: #d3d3d3"/>
     </g>
     <g id="line2d_296">
      <g>
       <use href="#m03711f5c3c" x="1241.96875" y="994.6" style="stroke: #000000; stroke-width: 5.3"/>
      </g>
     </g>
    </g>
    <g id="xtick_184">
     <g id="line2d_297">
      <path d="M 1464.25 994.6 
L 1464.25 544.6 
" clip-path="url(#p244bcbdf95)" style="fill: none; stroke: #d3d3d3"/>
     </g>
     <g id="line2d_298">
      <g>
       <use href="#m03711f5c3c" x="1464.25" y="994.6" style="stroke: #000000; stroke-width: 5.3"/>
      </g>
     </g>
    </g>
    <g id="xtick_185">
     <g id="line2d_299">
      <path d="M 1686.53125 994.6 
L 1686.53125 544.6 
" clip-path="url(#p244bcbdf95)" style="fill: none; stroke: #d3d3d3"/>
     </g>
     <g id="line2d_300">
      <g>
       <use href="#m03711f5c3c" x="1686.53125" y="994.6" style="stroke: #000000; stroke-width: 5.3"/>
      </g>
     </g>
    </g>
    <g id="xtick_186">
     <g id="line2d_301">
      <g>
       <use href="#mb623954a8e" x="1108.6" y="994.6" style="stroke: #000000; stroke-width: 3.3"/>
      </g>
     </g>
    </g>
    <g id="xtick_187">
     <g id="line2d_302">
      <g>
       <use href="#mb623954a8e" x="1153.05625" y="994.6" style="stroke: #000000; stroke-width: 3.3"/>
      </g>
     </g>
    </g>
    <g id="xtick_188">
     <g id="line2d_303">
      <g>
       <use href="#mb623954a8e" x="1197.5125" y="994.6" style="stroke: #000000; stroke-width: 3.3"/>
      </g>
     </g>
    </g>
    <g id="xtick_189">
     <g id="line2d_304">
      <g>
       <use href="#mb623954a8e" x="1286.425" y="994.6" style="stroke: #000000; stroke-width: 3.3"/>
      </g>
     </g>
    </g>
    <g id="xtick_190">
     <g id="line2d_305">
      <g>
       <use href="#mb623954a8e" x="1330.88125" y="994.6" style="stroke: #000000; stroke-width: 3.3"/>
      </g>
     </g>
    </g>
    <g id="xtick_191">
     <g id="line2d_306">
      <g>
       <use href="#mb623954a8e" x="1375.3375" y="994.6" style="stroke: #000000; stroke-width: 3.3"/>
      </g>
     </g>
    </g>
    <g id="xtick_192">
     <g id="line2d_307">
      <g>
       <use href="#mb623954a8e" x="1419.79375" y="994.6" style="stroke: #000000; stroke-width: 3.3"/>
      </g>
     </g>
    </g>
    <g id="xtick_193">
     <g id="line2d_308">
      <g>
       <use href="#mb623954a8e" x="1508.70625" y="994.6" style="stroke: #000000; stroke-width: 3.3"/>
      </g>
     </g>
    </g>
    <g id="xtick_194">
     <g id="line2d_309">
      <g>
       <use href="#mb623954a8e" x="1553.1625" y="994.6" style="stroke: #000000; stroke-width: 3.3"/>
      </g>
     </g>
    </g>
    <g id="xtick_195">
     <g id="line2d_310">
      <g>
       <use href="#mb623954a8e" x="1597.61875" y="994.6" style="stroke: #000000; stroke-width: 3.3"/>
      </g>
     </g>
    </g>
    <g id="xtick_196">
     <g id="line2d_311">
      <g>
       <use href="#mb623954a8e" x="1642.075" y="994.6" style="stroke: #000000; stroke-width: 3.3"/>
      </g>
     </g>
    </g>
    <g id="xtick_197">
     <g id="line2d_312">
      <g>
       <use href="#mb623954a8e" x="1730.9875" y="994.6" style="stroke: #000000; stroke-width: 3.3"/>
      </g>
     </g>
    </g>
    <g id="xtick_198">
     <g id="line2d_313">
      <g>
       <use href="#mb623954a8e" x="1775.44375" y="994.6" style="stroke: #000000; stroke-width: 3.3"/>
      </g>
     </g>
    </g>
    <g id="xtick_199">
     <g id="line2d_314">
      <g>
       <use href="#mb623954a8e" x="1819.9" y="994.6" style="stroke: #000000; stroke-width: 3.3"/>
      </g>
     </g>
    </g>
   </g>
   <g id="matplotlib.axis_10">
    <g id="ytick_66">
     <g id="line2d_315">
      <path d="M 1108.6 942.539902 
L 1819.9 942.539902 
" clip-path="url(#p244bcbdf95)" style="fill: none; stroke: #d3d3d3"/>
     </g>
     <g id="line2d_316">
      <g>
       <use href="#m70b90a0493" x="1108.6" y="942.539902" style="stroke: #000000; stroke-width: 5.3"/>
      </g>
     </g>
     <g id="text_16">
      
      <g transform="translate(1007.485 957.318863)">
       <text>
        <tspan x="0" y="-0.803125" style="font-size: 38.9px; font-family: 'DejaVu Sans'">1</tspan>
        <tspan x="24.733459" y="-0.803125" style="font-size: 38.9px; font-family: 'DejaVu Sans'">0</tspan>
        <tspan x="49.840161" y="-15.732813" style="font-size: 27.23px; font-family: 'DejaVu Sans'">−</tspan>
        <tspan x="72.64126" y="-15.732813" style="font-size: 27.23px; font-family: 'DejaVu Sans'">2</tspan>
       </text>
      </g>
     </g>
    </g>
    <g id="ytick_67">
     <g id="line2d_317">
      <path d="M 1108.6 769.6 
L 1819.9 769.6 
" clip-path="url(#p244bcbdf95)" style="fill: none; stroke: #d3d3d3"/>
     </g>
     <g id="line2d_318">
      <g>
       <use href="#m70b90a0493" x="1108.6" y="769.6" style="stroke: #000000; stroke-width: 5.3"/>
      </g>
     </g>
     <g id="text_17">
      
      <g transform="translate(1007.485 784.378961)">
       <text>
        <tspan x="0" y="-0.164062" style="font-size: 38.9px; font-family: 'DejaVu Sans'">1</tspan>
        <tspan x="24.733459" y="-0.164062" style="font-size: 38.9px; font-family: 'DejaVu Sans'">0</tspan>
        <tspan x="49.840161" y="-15.09375" style="font-size: 27.23px; font-family: 'DejaVu Sans'">−</tspan>
        <tspan x="72.64126" y="-15.09375" style="font-size: 27.23px; font-family: 'DejaVu Sans'">1</tspan>
       </text>
      </g>
     </g>
    </g>
    <g id="ytick_68">
     <g id="line2d_319">
      <path d="M 1108.6 596.660098 
L 1819.9 596.660098 
" clip-path="url(#p244bcbdf95)" style="fill: none; stroke: #d3d3d3"/>
     </g>
     <g id="line2d_320">
      <g>
       <use href="#m70b90a0493" x="1108.6" y="596.660098" style="stroke: #000000; stroke-width: 5.3"/>
      </g>
     </g>
     <g id="text_18">
      
      <g transform="translate(1030.436 611.439059)">
       <text>
        <tspan x="0" y="-0.803125" style="font-size: 38.9px; font-family: 'DejaVu Sans'">1</tspan>
        <tspan x="24.733459" y="-0.803125" style="font-size: 38.9px; font-family: 'DejaVu Sans'">0</tspan>
        <tspan x="49.840161" y="-15.732813" style="font-size: 27.23px; font-family: 'DejaVu Sans'">0</tspan>
       </text>
      </g>
     </g>
    </g>
    <g id="ytick_69">
     <g id="line2d_321">
      <g>
       <use href="#m3a5959d019" x="1108.6" y="994.6" style="stroke: #000000; stroke-width: 3.3"/>
      </g>
     </g>
    </g>
    <g id="ytick_70">
     <g id="line2d_322">
      <g>
       <use href="#m3a5959d019" x="1108.6" y="980.906403" style="stroke: #000000; stroke-width: 3.3"/>
      </g>
     </g>
    </g>
    <g id="ytick_71">
     <g id="line2d_323">
      <g>
       <use href="#m3a5959d019" x="1108.6" y="969.328632" style="stroke: #000000; stroke-width: 3.3"/>
      </g>
     </g>
    </g>
    <g id="ytick_72">
     <g id="line2d_324">
      <g>
       <use href="#m3a5959d019" x="1108.6" y="959.29951" style="stroke: #000000; stroke-width: 3.3"/>
      </g>
     </g>
    </g>
    <g id="ytick_73">
     <g id="line2d_325">
      <g>
       <use href="#m3a5959d019" x="1108.6" y="950.453198" style="stroke: #000000; stroke-width: 3.3"/>
      </g>
     </g>
    </g>
    <g id="ytick_74">
     <g id="line2d_326">
      <g>
       <use href="#m3a5959d019" x="1108.6" y="890.479804" style="stroke: #000000; stroke-width: 3.3"/>
      </g>
     </g>
    </g>
    <g id="ytick_75">
     <g id="line2d_327">
      <g>
       <use href="#m3a5959d019" x="1108.6" y="860.026599" style="stroke: #000000; stroke-width: 3.3"/>
      </g>
     </g>
    </g>
    <g id="ytick_76">
     <g id="line2d_328">
      <g>
       <use href="#m3a5959d019" x="1108.6" y="838.419706" style="stroke: #000000; stroke-width: 3.3"/>
      </g>
     </g>
    </g>
    <g id="ytick_77">
     <g id="line2d_329">
      <g>
       <use href="#m3a5959d019" x="1108.6" y="821.660098" style="stroke: #000000; stroke-width: 3.3"/>
      </g>
     </g>
    </g>
    <g id="ytick_78">
     <g id="line2d_330">
      <g>
       <use href="#m3a5959d019" x="1108.6" y="807.966501" style="stroke: #000000; stroke-width: 3.3"/>
      </g>
     </g>
    </g>
    <g id="ytick_79">
     <g id="line2d_331">
      <g>
       <use href="#m3a5959d019" x="1108.6" y="796.38873" style="stroke: #000000; stroke-width: 3.3"/>
      </g>
     </g>
    </g>
    <g id="ytick_80">
     <g id="line2d_332">
      <g>
       <use href="#m3a5959d019" x="1108.6" y="786.359608" style="stroke: #000000; stroke-width: 3.3"/>
      </g>
     </g>
    </g>
    <g id="ytick_81">
     <g id="line2d_333">
      <g>
       <use href="#m3a5959d019" x="1108.6" y="777.513296" style="stroke: #000000; stroke-width: 3.3"/>
      </g>
     </g>
    </g>
    <g id="ytick_82">
     <g id="line2d_334">
      <g>
       <use href="#m3a5959d019" x="1108.6" y="717.539902" style="stroke: #000000; stroke-width: 3.3"/>
      </g>
     </g>
    </g>
    <g id="ytick_83">
     <g id="line2d_335">
      <g>
       <use href="#m3a5959d019" x="1108.6" y="687.086697" style="stroke: #000000; stroke-width: 3.3"/>
      </g>
     </g>
    </g>
    <g id="ytick_84">
     <g id="line2d_336">
      <g>
       <use href="#m3a5959d019" x="1108.6" y="665.479804" style="stroke: #000000; stroke-width: 3.3"/>
      </g>
     </g>
    </g>
    <g id="ytick_85">
     <g id="line2d_337">
      <g>
       <use href="#m3a5959d019" x="1108.6" y="648.720196" style="stroke: #000000; stroke-width: 3.3"/>
      </g>
     </g>
    </g>
    <g id="ytick_86">
     <g id="line2d_338">
      <g>
       <use href="#m3a5959d019" x="1108.6" y="635.026599" style="stroke: #000000; stroke-width: 3.3"/>
      </g>
     </g>
    </g>
    <g id="ytick_87">
     <g id="line2d_339">
      <g>
       <use href="#m3a5959d019" x="1108.6" y="623.448828" style="stroke: #000000; stroke-width: 3.3"/>
      </g>
     </g>
    </g>
    <g id="ytick_88">
     <g id="line2d_340">
      <g>
       <use href="#m3a5959d019" x="1108.6" y="613.419706" style="stroke: #000000; stroke-width: 3.3"/>
      </g>
     </g>
    </g>
    <g id="ytick_89">
     <g id="line2d_341">
      <g>
       <use href="#m3a5959d019" x="1108.6" y="604.573394" style="stroke: #000000; stroke-width: 3.3"/>
      </g>
     </g>
    </g>
    <g id="ytick_90">
     <g id="line2d_342">
      <g>
       <use href="#m3a5959d019" x="1108.6" y="544.6" style="stroke: #000000; stroke-width: 3.3"/>
      </g>
     </g>
    </g>
   </g>
   <g id="line2d_343">
    <path d="M 1106.6 596.297334 
L 1118.534928 596.192345 
L 1129.674194 595.8661 
L 1137.630812 595.444987 
L 1140.813459 595.018576 
L 1143.996107 594.315393 
L 1150.361402 592.766559 
L 1152.748387 592.431347 
L 1155.135373 592.325778 
L 1157.522358 592.432374 
L 1160.705006 592.829906 
L 1163.887653 593.452731 
L 1167.865962 594.469643 
L 1173.435595 596.168438 
L 1182.187875 599.093255 
L 1186.166185 600.652499 
L 1190.144494 602.429666 
L 1194.918465 604.835502 
L 1199.692436 607.522223 
L 1202.875083 609.508048 
L 1205.262069 611.204986 
L 1207.649055 613.163346 
L 1210.831702 616.111915 
L 1215.605673 620.599347 
L 1217.992659 622.548445 
L 1220.379644 624.180963 
L 1222.76663 625.539343 
L 1225.949277 627.089241 
L 1229.927586 628.781418 
L 1235.497219 630.866325 
L 1251.410456 636.398158 
L 1269.710679 642.51659 
L 1278.462959 645.860701 
L 1284.032592 648.192136 
L 1288.806563 650.42432 
L 1292.784872 652.504717 
L 1296.763181 654.814652 
L 1300.741491 657.370193 
L 1304.7198 660.185813 
L 1308.698109 663.278745 
L 1311.880756 665.990821 
L 1315.063404 669.003726 
L 1318.246051 672.37353 
L 1321.428699 676.063529 
L 1325.407008 681.014671 
L 1330.180979 687.290903 
L 1334.159288 692.815334 
L 1338.137597 698.736276 
L 1341.320245 703.820055 
L 1344.502892 709.296171 
L 1347.685539 715.319583 
L 1350.868187 721.890642 
L 1365.985762 753.963955 
L 1368.372747 758.575632 
L 1370.759733 762.713489 
L 1373.146719 766.275873 
L 1375.533704 769.30479 
L 1382.694661 777.783381 
L 1384.285984 780.168439 
L 1385.877308 782.906199 
L 1387.468632 786.008942 
L 1389.855617 791.256965 
L 1393.038265 799.023699 
L 1396.220912 807.445927 
L 1399.40356 816.557331 
L 1404.973192 833.089347 
L 1406.564516 837.136203 
L 1408.15584 840.651444 
L 1409.747164 843.732416 
L 1412.134149 847.868967 
L 1416.112458 854.221714 
L 1419.295106 858.922306 
L 1422.477753 863.199434 
L 1426.456062 868.088144 
L 1429.63871 871.625215 
L 1432.025695 873.937976 
L 1434.412681 875.899526 
L 1436.799666 877.558532 
L 1439.982314 879.46867 
L 1443.164961 881.10754 
L 1445.551947 882.129304 
L 1447.938932 882.945958 
L 1451.12158 883.738448 
L 1455.099889 884.422863 
L 1459.078198 884.856337 
L 1462.260845 884.975086 
L 1465.443493 884.841809 
L 1468.62614 884.449793 
L 1471.808788 883.830653 
L 1475.787097 882.80182 
L 1478.969744 881.791865 
L 1481.35673 880.856404 
L 1483.743715 879.679039 
L 1486.130701 878.236743 
L 1489.313348 875.977047 
L 1493.291657 872.815562 
L 1497.269967 869.393333 
L 1500.452614 866.383131 
L 1503.635261 863.080565 
L 1506.817909 859.487625 
L 1510.000556 855.602008 
L 1513.183204 851.348584 
L 1515.570189 847.81613 
L 1517.957175 843.953223 
L 1521.139822 838.363251 
L 1525.118131 830.826617 
L 1528.300779 824.323297 
L 1531.483426 817.341808 
L 1534.666073 809.893401 
L 1537.848721 801.915274 
L 1542.622692 789.12571 
L 1551.374972 765.527348 
L 1554.55762 757.733417 
L 1557.740267 750.577702 
L 1560.922914 743.92062 
L 1564.105562 737.709878 
L 1567.288209 731.909252 
L 1571.266518 725.146253 
L 1575.244828 718.833808 
L 1579.223137 712.901208 
L 1583.201446 707.323081 
L 1587.975417 701.065791 
L 1595.136374 692.156701 
L 1602.29733 683.125655 
L 1610.253949 673.025518 
L 1613.436596 669.294184 
L 1616.619244 665.869115 
L 1620.597553 661.976003 
L 1624.575862 658.38501 
L 1629.349833 654.361708 
L 1635.715128 649.30839 
L 1654.01535 635.219836 
L 1659.584983 631.241824 
L 1664.358954 628.102543 
L 1668.337264 625.733228 
L 1672.315573 623.630228 
L 1676.293882 621.793961 
L 1681.067853 619.839898 
L 1686.637486 617.794934 
L 1693.002781 615.69365 
L 1701.755061 613.071248 
L 1724.033593 606.532992 
L 1735.968521 603.017615 
L 1743.129477 601.157171 
L 1748.69911 599.93149 
L 1754.268743 598.938788 
L 1768.590656 596.761152 
L 1782.116908 594.896253 
L 1792.460512 593.693053 
L 1801.212792 592.885943 
L 1809.16941 592.359677 
L 1817.126029 592.065332 
L 1821.9 592.007371 
L 1821.9 592.007371 
" clip-path="url(#p244bcbdf95)" style="fill: none; stroke: #000000; stroke-width: 6.5"/>
   </g>
   <g id="line2d_344">
    <path d="M 1106.6 596.297367 
L 1118.534928 596.193199 
L 1129.674194 595.867596 
L 1136.83515 595.50991 
L 1140.017798 595.138447 
L 1143.200445 594.466981 
L 1151.157063 592.451372 
L 1153.544049 592.143432 
L 1155.931034 592.058505 
L 1159.113682 592.222788 
L 1162.296329 592.615434 
L 1166.274638 593.346993 
L 1171.04861 594.472775 
L 1179.005228 596.631064 
L 1183.779199 598.128337 
L 1187.757508 599.623047 
L 1191.735818 601.337588 
L 1196.509789 603.647904 
L 1201.28376 606.204505 
L 1204.466407 608.129043 
L 1206.853393 609.80527 
L 1210.03604 612.366642 
L 1216.401335 617.664509 
L 1218.78832 619.333059 
L 1221.175306 620.734311 
L 1224.357953 622.296602 
L 1228.336263 623.977516 
L 1233.110234 625.74945 
L 1242.658176 628.959005 
L 1267.323693 637.393641 
L 1274.48465 640.269902 
L 1280.054283 642.700922 
L 1284.828254 645.030486 
L 1289.602225 647.603337 
L 1294.376196 650.420271 
L 1299.150167 653.524815 
L 1303.128476 656.359531 
L 1307.106785 659.440899 
L 1311.085095 662.80238 
L 1314.267742 665.763465 
L 1317.450389 669.036472 
L 1320.633037 672.614439 
L 1324.611346 677.440398 
L 1329.385317 683.628387 
L 1333.363626 689.117636 
L 1337.341935 695.012306 
L 1341.320245 701.383979 
L 1344.502892 706.91393 
L 1347.685539 712.974619 
L 1351.663849 721.238911 
L 1365.1901 749.953236 
L 1368.372747 756.237662 
L 1370.759733 760.476928 
L 1373.146719 764.206469 
L 1375.533704 767.467697 
L 1381.898999 775.611465 
L 1383.490323 777.998344 
L 1385.081646 780.683311 
L 1386.67297 783.700691 
L 1389.059956 788.818128 
L 1391.446941 794.495869 
L 1394.629588 802.70761 
L 1397.812236 811.628774 
L 1401.790545 823.606914 
L 1404.177531 830.719021 
L 1405.768854 835.017643 
L 1407.360178 838.795479 
L 1408.951502 842.087567 
L 1411.338487 846.433094 
L 1416.112458 854.405468 
L 1419.295106 859.370593 
L 1422.477753 863.861071 
L 1425.6604 867.949953 
L 1428.843048 871.681899 
L 1431.230033 874.165939 
L 1433.617019 876.307623 
L 1436.004004 878.113982 
L 1439.186652 880.151009 
L 1442.369299 881.893091 
L 1444.756285 882.993065 
L 1447.14327 883.878069 
L 1449.530256 884.540183 
L 1452.712903 885.161898 
L 1456.691212 885.696731 
L 1459.87386 885.932082 
L 1463.056507 885.940504 
L 1466.239155 885.697657 
L 1469.421802 885.227487 
L 1473.400111 884.387504 
L 1477.37842 883.29702 
L 1480.561068 882.183159 
L 1482.948053 881.117947 
L 1485.335039 879.814797 
L 1488.517686 877.75125 
L 1492.495996 874.806048 
L 1496.474305 871.577678 
L 1499.656952 868.729211 
L 1502.8396 865.580104 
L 1506.022247 862.118857 
L 1509.204894 858.337997 
L 1512.387542 854.189811 
L 1514.774527 850.755615 
L 1517.161513 846.990251 
L 1520.34416 841.481829 
L 1523.526808 835.509134 
L 1526.709455 829.105052 
L 1529.892102 822.22513 
L 1533.07475 814.866818 
L 1536.257397 807.026644 
L 1540.235706 796.543041 
L 1551.374972 766.483687 
L 1554.55762 758.713911 
L 1557.740267 751.547104 
L 1560.922914 744.856944 
L 1564.105562 738.596616 
L 1568.083871 731.32057 
L 1572.06218 724.550108 
L 1576.040489 718.195945 
L 1580.018799 712.213254 
L 1583.997108 706.606497 
L 1588.771079 700.333018 
L 1596.727697 690.39982 
L 1603.888654 681.294445 
L 1610.253949 673.255105 
L 1614.232258 668.626671 
L 1617.414905 665.258041 
L 1621.393215 661.400269 
L 1626.167186 657.124155 
L 1631.736819 652.489587 
L 1638.897775 646.886936 
L 1650.832703 637.853958 
L 1657.197998 633.307234 
L 1661.971969 630.135727 
L 1666.74594 627.237815 
L 1670.724249 625.076137 
L 1674.702558 623.166946 
L 1679.476529 621.146125 
L 1685.046162 619.034423 
L 1691.411457 616.864015 
L 1699.368076 614.402778 
L 1740.742492 602.233635 
L 1747.107786 600.722075 
L 1752.677419 599.64521 
L 1762.225362 598.122689 
L 1777.342937 595.888806 
L 1788.482202 594.460982 
L 1798.030145 593.462169 
L 1806.782425 592.780868 
L 1814.739043 592.394308 
L 1821.9 592.259885 
L 1821.9 592.259885 
" clip-path="url(#p244bcbdf95)" style="fill: none; stroke: #13305f; stroke-width: 6.5"/>
   </g>
   <g id="line2d_345">
    <path d="M 1106.6 596.297522 
L 1119.33059 596.181578 
L 1130.469855 595.842994 
L 1136.83515 595.501327 
L 1139.222136 595.213129 
L 1141.609121 594.713066 
L 1144.791769 593.734369 
L 1151.157063 591.614086 
L 1153.544049 591.084464 
L 1156.726696 590.662538 
L 1161.500667 590.317894 
L 1167.865962 590.09741 
L 1174.231257 590.11565 
L 1179.005228 590.30809 
L 1182.187875 590.609573 
L 1185.370523 591.115948 
L 1189.348832 592.008694 
L 1194.122803 593.342942 
L 1206.057731 597.053775 
L 1211.627364 599.021406 
L 1220.379644 602.15746 
L 1226.744939 604.134361 
L 1233.110234 605.903959 
L 1248.227809 609.939201 
L 1253.00178 611.464799 
L 1257.775751 613.224768 
L 1262.549722 615.245076 
L 1267.323693 617.526113 
L 1272.097664 620.05932 
L 1276.871635 622.85166 
L 1280.054283 624.956664 
L 1283.23693 627.34382 
L 1288.806563 631.919754 
L 1303.924138 644.617195 
L 1309.493771 649.700532 
L 1315.063404 655.132094 
L 1319.837375 660.118578 
L 1323.815684 664.614199 
L 1326.998331 668.503407 
L 1330.180979 672.718882 
L 1333.363626 677.307583 
L 1336.546274 682.26392 
L 1340.524583 688.938263 
L 1343.70723 694.709527 
L 1346.889878 700.962385 
L 1350.868187 709.367152 
L 1359.620467 728.629074 
L 1369.964071 751.547355 
L 1373.146719 757.816238 
L 1376.329366 763.490577 
L 1383.490323 775.772877 
L 1385.877308 780.46019 
L 1388.264294 785.682547 
L 1390.651279 791.410697 
L 1393.833927 799.733798 
L 1397.016574 808.844198 
L 1400.994883 821.057748 
L 1404.177531 830.714855 
L 1405.768854 835.051397 
L 1407.360178 838.883909 
L 1408.951502 842.256344 
L 1411.338487 846.789932 
L 1419.295106 861.141176 
L 1422.477753 866.245476 
L 1425.6604 870.864141 
L 1428.843048 875.078207 
L 1431.230033 877.930502 
L 1433.617019 880.459198 
L 1436.004004 882.655735 
L 1439.186652 885.184971 
L 1442.369299 887.38836 
L 1444.756285 888.809841 
L 1447.14327 889.977098 
L 1449.530256 890.870802 
L 1452.712903 891.734057 
L 1455.895551 892.3656 
L 1459.078198 892.76254 
L 1461.465184 892.860888 
L 1463.852169 892.770726 
L 1467.034816 892.378002 
L 1470.217464 891.734843 
L 1473.400111 890.896398 
L 1476.582759 889.84288 
L 1479.765406 888.507767 
L 1482.152392 887.280992 
L 1484.539377 885.844156 
L 1487.722024 883.639141 
L 1490.904672 881.171918 
L 1494.882981 877.808588 
L 1498.065628 874.884102 
L 1501.248276 871.687365 
L 1504.430923 868.189433 
L 1507.613571 864.370296 
L 1510.796218 860.199935 
L 1513.978865 855.601187 
L 1516.365851 851.801948 
L 1519.548498 846.239699 
L 1522.731146 840.141359 
L 1525.913793 833.555087 
L 1529.09644 826.494796 
L 1532.279088 818.957746 
L 1536.257397 808.887155 
L 1541.031368 796.000935 
L 1549.783648 772.171325 
L 1552.966296 764.130501 
L 1556.148943 756.670312 
L 1560.127253 748.01994 
L 1564.105562 740.012361 
L 1568.083871 732.587812 
L 1572.06218 725.640053 
L 1576.040489 719.086321 
L 1580.018799 712.91155 
L 1583.997108 707.148893 
L 1587.975417 701.78438 
L 1593.54505 694.697874 
L 1603.888654 681.626896 
L 1610.253949 673.599875 
L 1614.232258 668.954648 
L 1617.414905 665.555184 
L 1621.393215 661.645274 
L 1626.167186 657.289622 
L 1630.941157 653.222427 
L 1636.51079 648.783402 
L 1643.671746 643.397687 
L 1651.628365 637.673004 
L 1657.99366 633.383344 
L 1662.767631 630.40579 
L 1667.541602 627.684135 
L 1671.519911 625.64325 
L 1676.293882 623.475155 
L 1681.863515 621.232253 
L 1688.22881 618.929778 
L 1695.389766 616.584171 
L 1705.73337 613.458431 
L 1721.646607 608.649112 
L 1735.968521 604.279495 
L 1743.129477 602.352978 
L 1748.69911 601.07666 
L 1754.268743 600.034954 
L 1767.794994 597.863166 
L 1781.321246 595.882022 
L 1791.66485 594.589216 
L 1800.41713 593.705288 
L 1808.373749 593.108052 
L 1816.330367 592.741477 
L 1821.9 592.638656 
L 1821.9 592.638656 
" clip-path="url(#p244bcbdf95)" style="fill: none; stroke: #34508a; stroke-width: 6.5"/>
   </g>
   <g id="line2d_346">
    <path d="M 1106.6 596.297544 
L 1119.33059 596.182208 
L 1130.469855 595.843956 
L 1136.83515 595.500101 
L 1139.222136 595.206708 
L 1141.609121 594.695089 
L 1143.996107 593.966871 
L 1151.952725 591.284219 
L 1154.339711 590.790514 
L 1157.522358 590.37301 
L 1163.887653 589.824531 
L 1170.252948 589.477602 
L 1176.618242 589.360681 
L 1180.596552 589.482819 
L 1183.779199 589.795263 
L 1186.961846 590.319097 
L 1190.940156 591.20716 
L 1197.305451 592.925512 
L 1217.196997 598.613615 
L 1226.744939 601.39181 
L 1233.905895 603.267053 
L 1247.432147 606.721163 
L 1252.206118 608.199808 
L 1256.184427 609.628547 
L 1260.162736 611.257822 
L 1264.936707 613.474933 
L 1269.710679 615.967236 
L 1274.48465 618.723361 
L 1278.462959 621.282415 
L 1281.645606 623.639011 
L 1285.623915 626.964071 
L 1307.106785 645.758824 
L 1312.676418 651.100361 
L 1318.246051 656.736803 
L 1322.22436 661.042459 
L 1326.20267 665.71332 
L 1329.385317 669.80464 
L 1332.567964 674.277132 
L 1335.750612 679.128944 
L 1339.728921 685.665313 
L 1342.911568 691.283135 
L 1346.094216 697.337684 
L 1350.072525 705.456923 
L 1364.394438 735.746052 
L 1369.964071 747.297468 
L 1373.94238 755.034574 
L 1382.694661 771.66908 
L 1385.877308 778.400494 
L 1389.059956 785.811918 
L 1391.446941 791.868288 
L 1393.833927 798.430102 
L 1396.220912 805.564289 
L 1400.994883 820.862875 
L 1404.177531 830.707637 
L 1405.768854 835.111994 
L 1407.360178 839.044241 
L 1409.747164 844.221842 
L 1414.521135 854.092954 
L 1420.886429 867.745055 
L 1423.273415 872.269754 
L 1426.456062 877.790878 
L 1429.63871 882.838607 
L 1432.821357 887.418824 
L 1435.208343 890.488924 
L 1437.595328 893.240979 
L 1440.777976 896.529519 
L 1443.164961 898.751327 
L 1445.551947 900.70004 
L 1447.938932 902.29455 
L 1450.325918 903.526411 
L 1452.712903 904.487384 
L 1455.895551 905.48033 
L 1458.282536 905.986637 
L 1460.669522 906.22814 
L 1463.056507 906.181196 
L 1465.443493 905.869619 
L 1467.830478 905.34399 
L 1471.013126 904.399629 
L 1474.195773 903.211451 
L 1476.582759 902.088557 
L 1478.969744 900.710086 
L 1481.35673 899.092792 
L 1484.539377 896.659789 
L 1488.517686 893.323743 
L 1492.495996 889.678262 
L 1496.474305 885.698805 
L 1499.656952 882.244363 
L 1502.8396 878.519211 
L 1506.022247 874.487425 
L 1509.204894 870.094131 
L 1512.387542 865.2949 
L 1515.570189 860.039875 
L 1518.752836 854.264176 
L 1521.139822 849.534994 
L 1524.322469 842.672114 
L 1527.505117 835.264351 
L 1531.483426 825.352137 
L 1535.461735 814.731603 
L 1542.622692 794.72332 
L 1547.396663 781.574751 
L 1551.374972 771.319125 
L 1555.353281 761.811398 
L 1559.331591 752.948268 
L 1563.3099 744.643546 
L 1567.288209 736.855502 
L 1572.06218 728.055906 
L 1576.836151 719.734852 
L 1580.814461 713.234061 
L 1583.997108 708.39023 
L 1587.975417 702.78086 
L 1592.749388 696.514311 
L 1609.458287 675.37788 
L 1613.436596 670.626924 
L 1617.414905 666.247989 
L 1621.393215 662.216658 
L 1626.167186 657.67559 
L 1630.941157 653.431625 
L 1634.919466 650.153892 
L 1638.897775 647.129948 
L 1643.671746 643.777988 
L 1649.241379 640.112261 
L 1654.811012 636.682729 
L 1660.380645 633.498377 
L 1665.950278 630.569016 
L 1671.519911 627.904148 
L 1677.089544 625.499761 
L 1683.454839 623.009525 
L 1690.615795 620.457007 
L 1699.368076 617.586842 
L 1739.151168 605.11557 
L 1745.516463 603.42188 
L 1751.086096 602.176411 
L 1758.247052 600.867096 
L 1774.955951 598.084233 
L 1786.095217 596.446602 
L 1795.643159 595.261078 
L 1804.395439 594.402153 
L 1812.352058 593.848083 
L 1819.513014 593.563917 
L 1821.9 593.522455 
L 1821.9 593.522455 
" clip-path="url(#p244bcbdf95)" style="fill: none; stroke: #6f68a0; stroke-width: 6.5"/>
   </g>
   <g id="line2d_347">
    <path d="M 1106.6 596.297555 
L 1119.33059 596.182523 
L 1130.469855 595.844437 
L 1136.83515 595.499488 
L 1139.222136 595.203498 
L 1141.609121 594.686101 
L 1143.996107 593.948528 
L 1151.952725 591.219259 
L 1154.339711 590.709202 
L 1157.522358 590.264622 
L 1164.683315 589.566384 
L 1171.844271 589.096483 
L 1177.413904 588.941696 
L 1181.392214 589.052694 
L 1184.574861 589.376233 
L 1187.757508 589.907141 
L 1191.735818 590.787096 
L 1199.692436 592.859394 
L 1222.76663 598.933714 
L 1232.314572 601.456174 
L 1248.227809 605.45909 
L 1253.00178 606.972567 
L 1256.980089 608.450598 
L 1260.958398 610.140294 
L 1265.732369 612.438775 
L 1270.50634 615.018497 
L 1275.280311 617.873052 
L 1278.462959 619.988248 
L 1281.645606 622.400126 
L 1285.623915 625.808086 
L 1297.558843 636.302055 
L 1304.7198 642.684655 
L 1310.289433 647.932941 
L 1316.654727 654.254731 
L 1321.428699 659.291754 
L 1325.407008 663.846237 
L 1328.589655 667.826816 
L 1331.772303 672.184923 
L 1334.95495 676.932221 
L 1338.933259 683.344814 
L 1342.115907 688.837407 
L 1345.298554 694.732359 
L 1349.276863 702.649895 
L 1369.964071 744.823604 
L 1381.898999 768.389931 
L 1385.081646 775.344136 
L 1388.264294 782.802272 
L 1391.446941 790.913233 
L 1393.833927 797.614242 
L 1396.220912 804.960703 
L 1404.177531 830.599105 
L 1405.768854 835.026755 
L 1407.360178 838.999155 
L 1409.747164 844.289999 
L 1413.725473 852.883938 
L 1416.90812 860.467454 
L 1420.090768 867.95318 
L 1422.477753 873.062024 
L 1424.864739 877.746043 
L 1428.047386 883.473635 
L 1431.230033 888.734443 
L 1434.412681 893.506237 
L 1436.799666 896.696894 
L 1439.982314 900.492278 
L 1443.164961 903.877052 
L 1445.551947 906.074996 
L 1447.14327 907.321281 
L 1448.734594 908.37587 
L 1451.12158 909.641744 
L 1453.508565 910.64219 
L 1455.895551 911.441647 
L 1458.282536 912.000391 
L 1460.669522 912.251386 
L 1463.056507 912.171009 
L 1465.443493 911.796399 
L 1467.830478 911.194942 
L 1471.013126 910.151192 
L 1474.195773 908.862919 
L 1476.582759 907.632127 
L 1478.969744 906.100354 
L 1481.35673 904.309284 
L 1485.335039 901.008098 
L 1490.10901 896.775846 
L 1494.087319 892.914998 
L 1498.065628 888.676663 
L 1501.248276 884.995003 
L 1504.430923 881.024695 
L 1507.613571 876.699362 
L 1510.796218 871.954661 
L 1513.978865 866.767749 
L 1517.161513 861.115332 
L 1519.548498 856.508375 
L 1521.935484 851.507199 
L 1525.118131 844.220867 
L 1528.300779 836.388048 
L 1532.279088 825.94963 
L 1537.053059 812.603255 
L 1546.601001 785.82803 
L 1549.783648 777.625654 
L 1553.761958 768.080752 
L 1557.740267 759.123626 
L 1561.718576 750.656096 
L 1566.492547 741.073151 
L 1572.06218 730.475074 
L 1577.631813 720.323035 
L 1581.610122 713.540255 
L 1584.79277 708.527114 
L 1587.975417 703.883447 
L 1591.953726 698.476269 
L 1597.523359 691.32739 
L 1611.845273 673.393791 
L 1615.823582 668.7869 
L 1619.801891 664.508267 
L 1625.371524 658.890656 
L 1630.145495 654.384275 
L 1634.123804 650.948293 
L 1637.306452 648.467804 
L 1640.489099 646.240216 
L 1644.467408 643.728574 
L 1649.241379 640.976343 
L 1654.811012 638.047933 
L 1660.380645 635.364572 
L 1667.541602 632.175807 
L 1677.089544 628.197852 
L 1685.046162 625.132068 
L 1693.798443 622.016615 
L 1704.937709 618.301148 
L 1727.21624 610.933846 
L 1737.559844 607.570491 
L 1743.925139 605.722655 
L 1749.494772 604.327828 
L 1755.064405 603.169046 
L 1769.386318 600.53584 
L 1781.321246 598.53393 
L 1791.66485 597.026417 
L 1800.41713 595.971009 
L 1808.373749 595.224968 
L 1815.534705 594.754899 
L 1821.9 594.532511 
L 1821.9 594.532511 
" clip-path="url(#p244bcbdf95)" style="fill: none; stroke: #8d72a8; stroke-width: 6.5"/>
   </g>
   <g id="line2d_348">
    <path d="M 1106.6 596.297065 
L 1118.534928 596.185395 
L 1130.469855 595.823062 
L 1137.630812 595.458977 
L 1140.813459 595.096799 
L 1143.996107 594.510035 
L 1151.157063 593.035298 
L 1153.544049 592.757444 
L 1155.931034 592.680268 
L 1158.31802 592.809563 
L 1161.500667 593.251262 
L 1165.478977 594.089087 
L 1171.844271 595.685768 
L 1175.822581 596.866196 
L 1180.596552 598.54456 
L 1194.122803 603.755912 
L 1200.488098 606.101895 
L 1206.057731 607.900804 
L 1214.810011 610.452566 
L 1221.175306 612.087308 
L 1227.540601 613.463647 
L 1245.045161 616.997808 
L 1249.023471 618.172328 
L 1253.00178 619.611431 
L 1257.775751 621.611478 
L 1265.732369 625.252677 
L 1272.893326 628.688993 
L 1276.871635 630.798713 
L 1280.054283 632.70851 
L 1283.23693 634.894066 
L 1287.215239 637.939039 
L 1300.741491 648.804714 
L 1305.515462 652.921189 
L 1309.493771 656.681524 
L 1313.47208 660.784453 
L 1317.450389 665.189448 
L 1321.428699 669.890256 
L 1325.407008 674.961328 
L 1329.385317 680.474332 
L 1333.363626 686.431323 
L 1337.341935 692.819583 
L 1341.320245 699.622183 
L 1346.889878 709.662373 
L 1354.050834 723.069661 
L 1359.620467 733.870929 
L 1369.964071 754.314494 
L 1373.94238 761.507185 
L 1380.307675 772.880301 
L 1383.490323 779.013232 
L 1386.67297 785.648723 
L 1389.855617 792.806864 
L 1393.038265 800.580176 
L 1395.42525 806.957624 
L 1399.40356 818.455983 
L 1403.381869 829.794224 
L 1405.768854 835.840395 
L 1408.15584 841.046405 
L 1412.134149 848.724797 
L 1415.316796 855.189669 
L 1420.090768 865.136986 
L 1422.477753 869.607973 
L 1425.6604 875.010833 
L 1428.843048 879.932984 
L 1432.025695 884.466026 
L 1434.412681 887.57787 
L 1436.799666 890.398232 
L 1439.982314 893.756566 
L 1443.164961 896.752623 
L 1445.551947 898.708328 
L 1447.938932 900.324425 
L 1450.325918 901.585991 
L 1452.712903 902.57491 
L 1455.099889 903.366495 
L 1457.486874 903.948112 
L 1459.87386 904.262311 
L 1462.260845 904.273988 
L 1464.647831 904 
L 1467.034816 903.492902 
L 1470.217464 902.555258 
L 1473.400111 901.387268 
L 1475.787097 900.304156 
L 1478.174082 898.962996 
L 1480.561068 897.364923 
L 1483.743715 894.95712 
L 1488.517686 891.042201 
L 1492.495996 887.497892 
L 1496.474305 883.628772 
L 1500.452614 879.419548 
L 1503.635261 875.781388 
L 1506.817909 871.840153 
L 1510.000556 867.526164 
L 1513.183204 862.803204 
L 1516.365851 857.638568 
L 1518.752836 853.410327 
L 1521.139822 848.790359 
L 1523.526808 843.75127 
L 1526.709455 836.503185 
L 1530.687764 826.857768 
L 1534.666073 816.600448 
L 1546.601001 785.275045 
L 1549.783648 777.652828 
L 1553.761958 768.797915 
L 1557.740267 760.559631 
L 1561.718576 752.840229 
L 1565.696885 745.575679 
L 1570.470857 737.335204 
L 1576.040489 728.161528 
L 1580.018799 721.947495 
L 1583.997108 716.141934 
L 1587.975417 710.771298 
L 1593.54505 703.721785 
L 1603.092992 691.695589 
L 1610.253949 682.677426 
L 1614.232258 678.058278 
L 1618.210567 673.854006 
L 1622.984538 669.22697 
L 1629.349833 663.437217 
L 1635.715128 657.926501 
L 1639.693437 654.749952 
L 1643.671746 651.895566 
L 1649.241379 648.222929 
L 1654.811012 644.808901 
L 1660.380645 641.644052 
L 1665.950278 638.724677 
L 1671.519911 636.04685 
L 1677.089544 633.598191 
L 1683.454839 631.031629 
L 1690.615795 628.381891 
L 1699.368076 625.405476 
L 1710.507341 621.881492 
L 1731.990211 615.358849 
L 1740.742492 612.94117 
L 1747.903448 611.194915 
L 1754.268743 609.863932 
L 1768.590656 607.199274 
L 1782.116908 604.891777 
L 1793.256174 603.217394 
L 1802.804116 601.993872 
L 1811.556396 601.078319 
L 1819.513014 600.45467 
L 1821.9 600.344792 
L 1821.9 600.344792 
" clip-path="url(#p244bcbdf95)" style="fill: none; stroke: #b583b6; stroke-width: 6.5"/>
   </g>
   <g id="line2d_349">
    <path d="M 1106.6 596.296918 
L 1118.534928 596.181603 
L 1130.469855 595.81665 
L 1138.426474 595.408936 
L 1141.609121 595.054195 
L 1146.383092 594.255966 
L 1151.157063 593.515487 
L 1153.544049 593.327414 
L 1155.931034 593.345157 
L 1158.31802 593.599945 
L 1160.705006 594.073416 
L 1163.887653 594.955975 
L 1169.457286 596.815808 
L 1174.231257 598.577306 
L 1178.209566 600.295417 
L 1193.327141 607.129072 
L 1199.692436 609.713688 
L 1204.466407 611.413733 
L 1210.831702 613.424751 
L 1217.196997 615.206052 
L 1222.76663 616.511546 
L 1228.336263 617.573184 
L 1242.658176 620.14711 
L 1246.636485 621.163916 
L 1249.819132 622.191294 
L 1253.797442 623.729809 
L 1259.367075 626.187314 
L 1276.075973 633.950654 
L 1279.258621 635.700971 
L 1282.441268 637.703363 
L 1285.623915 639.95815 
L 1291.193548 644.229042 
L 1302.332814 653.028503 
L 1306.311123 656.500107 
L 1309.493771 659.545412 
L 1312.676418 662.851977 
L 1316.654727 667.314204 
L 1320.633037 672.103365 
L 1324.611346 677.262871 
L 1328.589655 682.860626 
L 1332.567964 688.877437 
L 1336.546274 695.295123 
L 1340.524583 702.138873 
L 1346.094216 712.201588 
L 1353.255172 725.530306 
L 1358.029143 734.868743 
L 1362.007453 743.170223 
L 1369.964071 760.048093 
L 1373.94238 767.844362 
L 1382.694661 784.624777 
L 1385.877308 791.261726 
L 1390.651279 801.83313 
L 1395.42525 812.938793 
L 1403.381869 831.95282 
L 1405.768854 836.874739 
L 1408.15584 841.140374 
L 1411.338487 846.188967 
L 1416.112458 853.820389 
L 1419.295106 858.869257 
L 1421.682091 862.305566 
L 1424.864739 866.407224 
L 1428.047386 870.105366 
L 1431.230033 873.490334 
L 1434.412681 876.54356 
L 1436.799666 878.574896 
L 1439.982314 880.967438 
L 1443.164961 883.07725 
L 1445.551947 884.453923 
L 1447.938932 885.59907 
L 1450.325918 886.498713 
L 1453.508565 887.397594 
L 1456.691212 888.014251 
L 1459.078198 888.254261 
L 1461.465184 888.269337 
L 1463.852169 888.062824 
L 1467.034816 887.501672 
L 1470.217464 886.705864 
L 1474.195773 885.464542 
L 1476.582759 884.536644 
L 1478.969744 883.415353 
L 1482.152392 881.636035 
L 1486.130701 879.106701 
L 1490.10901 876.338047 
L 1494.087319 873.302234 
L 1498.065628 869.994642 
L 1502.043938 866.407671 
L 1505.226585 863.282642 
L 1508.409232 859.85376 
L 1511.59188 856.067101 
L 1514.774527 851.883287 
L 1517.161513 848.42927 
L 1519.548498 844.607879 
L 1521.935484 840.347131 
L 1525.118131 834.049775 
L 1529.09644 825.566848 
L 1533.07475 816.614909 
L 1539.440044 801.532078 
L 1546.601001 784.725796 
L 1550.57931 775.960902 
L 1554.55762 767.703421 
L 1559.331591 758.375246 
L 1564.105562 749.589763 
L 1568.879533 741.294667 
L 1574.449166 732.070514 
L 1579.223137 724.552157 
L 1583.201446 718.691858 
L 1587.179755 713.260161 
L 1591.953726 707.157293 
L 1603.092992 693.089674 
L 1609.458287 685.007607 
L 1613.436596 680.318003 
L 1616.619244 676.879342 
L 1620.597553 672.927439 
L 1626.167186 667.783428 
L 1634.123804 660.789123 
L 1638.897775 656.820609 
L 1642.876085 653.854023 
L 1648.445717 650.061341 
L 1654.01535 646.523623 
L 1659.584983 643.234986 
L 1665.154616 640.202154 
L 1670.724249 637.431707 
L 1676.293882 634.920131 
L 1682.659177 632.307107 
L 1689.820133 629.622052 
L 1697.776752 626.886356 
L 1708.120356 623.594572 
L 1726.420578 618.06215 
L 1736.764182 615.133739 
L 1744.720801 613.1096 
L 1751.881758 611.527817 
L 1762.225362 609.548165 
L 1777.342937 606.858838 
L 1789.277864 604.957874 
L 1799.621468 603.526516 
L 1809.16941 602.423778 
L 1817.921691 601.631423 
L 1821.9 601.40157 
L 1821.9 601.40157 
" clip-path="url(#p244bcbdf95)" style="fill: none; stroke: #cb8c9a; stroke-width: 6.5"/>
   </g>
   <g id="line2d_350">
    <path d="M 1106.6 596.29682 
L 1118.534928 596.179074 
L 1130.469855 595.812375 
L 1139.222136 595.358029 
L 1143.200445 594.903587 
L 1151.952725 593.774167 
L 1154.339711 593.707758 
L 1156.726696 593.871907 
L 1159.113682 594.296523 
L 1161.500667 594.95166 
L 1164.683315 596.074513 
L 1171.04861 598.642553 
L 1175.026919 600.429138 
L 1179.80089 602.887058 
L 1186.961846 606.610682 
L 1193.327141 609.582117 
L 1198.896774 611.986115 
L 1203.670745 613.80421 
L 1209.240378 615.663898 
L 1214.810011 617.314428 
L 1219.583982 618.528615 
L 1224.357953 619.523088 
L 1230.723248 620.583325 
L 1240.27119 622.1476 
L 1244.249499 623.007975 
L 1247.432147 623.889919 
L 1250.614794 624.985373 
L 1254.593103 626.606805 
L 1260.958398 629.499185 
L 1268.915017 633.056181 
L 1275.280311 635.954551 
L 1279.258621 638.030745 
L 1282.441268 639.957713 
L 1285.623915 642.135769 
L 1290.397887 645.695008 
L 1301.537152 654.304628 
L 1305.515462 657.684974 
L 1308.698109 660.666337 
L 1311.880756 663.935946 
L 1315.859066 668.400058 
L 1319.837375 673.223228 
L 1323.815684 678.415908 
L 1327.793993 684.048116 
L 1331.772303 690.095484 
L 1335.750612 696.521326 
L 1339.728921 703.378399 
L 1345.298554 713.496576 
L 1353.255172 728.341974 
L 1357.233482 736.222013 
L 1360.416129 742.983005 
L 1365.1901 753.768347 
L 1369.964071 764.500955 
L 1373.94238 772.8655 
L 1385.877308 797.297434 
L 1395.42525 817.939494 
L 1400.199221 827.758364 
L 1403.381869 833.76706 
L 1405.768854 837.74492 
L 1408.15584 841.219537 
L 1411.338487 845.341278 
L 1417.703782 853.129954 
L 1420.090768 855.765032 
L 1422.477753 858.12055 
L 1425.6604 860.912601 
L 1428.843048 863.423805 
L 1432.025695 865.697481 
L 1435.208343 867.704133 
L 1438.39099 869.414653 
L 1441.573637 870.876785 
L 1444.756285 872.13937 
L 1447.938932 873.168468 
L 1451.12158 873.928789 
L 1454.304227 874.456605 
L 1457.486874 874.75402 
L 1460.669522 874.773819 
L 1463.852169 874.506679 
L 1467.034816 874.001029 
L 1471.013126 873.135503 
L 1474.991435 872.073542 
L 1478.174082 871.017346 
L 1481.35673 869.709825 
L 1484.539377 868.175071 
L 1488.517686 866.014826 
L 1492.495996 863.607674 
L 1497.269967 860.414461 
L 1501.248276 857.51578 
L 1505.226585 854.326101 
L 1508.409232 851.472068 
L 1511.59188 848.289546 
L 1514.774527 844.727685 
L 1517.161513 841.732898 
L 1519.548498 838.343812 
L 1521.935484 834.489008 
L 1524.322469 830.221032 
L 1528.300779 822.563466 
L 1533.07475 812.904608 
L 1538.644383 801.036386 
L 1546.601001 784.165201 
L 1551.374972 774.540117 
L 1556.148943 765.455268 
L 1560.922914 756.880172 
L 1565.696885 748.757803 
L 1570.470857 741.059748 
L 1576.040489 732.495643 
L 1580.814461 725.563846 
L 1584.79277 720.162819 
L 1589.566741 714.107343 
L 1600.706007 700.257069 
L 1610.253949 688.065796 
L 1613.436596 684.383763 
L 1616.619244 681.022305 
L 1620.597553 677.194253 
L 1625.371524 672.936072 
L 1640.489099 659.913879 
L 1644.467408 656.899441 
L 1650.832703 652.393924 
L 1656.402336 648.69459 
L 1661.971969 645.258498 
L 1666.74594 642.551739 
L 1671.519911 640.089702 
L 1676.293882 637.874631 
L 1681.863515 635.525702 
L 1688.22881 633.071752 
L 1695.389766 630.551057 
L 1704.142047 627.730265 
L 1716.076974 624.159783 
L 1728.011902 620.794219 
L 1737.559844 618.313135 
L 1746.312125 616.262995 
L 1754.268743 614.620642 
L 1769.386318 611.799615 
L 1782.91257 609.476044 
L 1794.847497 607.640187 
L 1805.986763 606.153654 
L 1816.330367 605.006388 
L 1821.9 604.571905 
L 1821.9 604.571905 
" clip-path="url(#p244bcbdf95)" style="fill: none; stroke: #f3a56f; stroke-width: 6.5"/>
   </g>
   <g id="line2d_351">
    <path d="M 1106.6 596.296739 
L 1117.739266 596.193591 
L 1129.674194 595.83916 
L 1139.222136 595.375199 
L 1143.996107 594.884372 
L 1151.157063 594.102385 
L 1153.544049 594.024044 
L 1155.931034 594.157799 
L 1158.31802 594.565967 
L 1160.705006 595.242742 
L 1163.887653 596.457165 
L 1169.457286 598.9571 
L 1174.231257 601.277939 
L 1178.209566 603.497409 
L 1186.166185 608.063952 
L 1190.940156 610.480305 
L 1197.305451 613.447276 
L 1202.079422 615.421278 
L 1206.853393 617.142935 
L 1212.423026 618.918117 
L 1217.196997 620.232138 
L 1221.970968 621.31345 
L 1226.744939 622.160072 
L 1242.658176 624.713247 
L 1245.840823 625.49352 
L 1249.023471 626.491241 
L 1252.206118 627.706126 
L 1256.980089 629.804163 
L 1267.323693 634.481342 
L 1275.280311 637.963907 
L 1279.258621 639.972375 
L 1282.441268 641.83654 
L 1285.623915 643.950721 
L 1290.397887 647.433406 
L 1301.537152 655.918494 
L 1305.515462 659.275271 
L 1308.698109 662.25787 
L 1311.880756 665.550969 
L 1315.063404 669.138082 
L 1319.041713 673.974315 
L 1323.020022 679.184006 
L 1326.998331 684.835179 
L 1330.976641 690.909942 
L 1334.95495 697.349517 
L 1338.933259 704.216837 
L 1344.502892 714.423681 
L 1353.255172 730.901569 
L 1356.43782 737.307858 
L 1359.620467 744.213083 
L 1362.803115 751.660208 
L 1372.351057 774.549427 
L 1376.329366 783.269891 
L 1385.877308 803.852406 
L 1390.651279 814.293547 
L 1393.038265 819.07795 
L 1395.42525 823.468849 
L 1398.607898 828.832391 
L 1400.994883 832.514073 
L 1403.381869 835.849426 
L 1405.768854 838.806226 
L 1408.15584 841.43155 
L 1411.338487 844.568407 
L 1414.521135 847.365101 
L 1416.90812 849.222331 
L 1419.295106 850.852983 
L 1421.682091 852.261272 
L 1424.864739 853.875173 
L 1428.843048 855.637082 
L 1432.821357 857.162536 
L 1436.799666 858.420777 
L 1440.777976 859.398571 
L 1446.347608 860.460969 
L 1451.12158 861.15404 
L 1455.099889 861.485102 
L 1458.282536 861.535591 
L 1461.465184 861.384083 
L 1465.443493 860.941465 
L 1469.421802 860.274341 
L 1474.991435 859.081655 
L 1478.969744 858.049427 
L 1482.152392 857.023078 
L 1485.335039 855.787294 
L 1489.313348 853.984501 
L 1494.087319 851.525506 
L 1499.656952 848.37341 
L 1503.635261 845.926652 
L 1506.817909 843.757786 
L 1510.000556 841.333252 
L 1513.183204 838.601008 
L 1515.570189 836.295321 
L 1517.957175 833.663125 
L 1520.34416 830.577883 
L 1522.731146 827.015592 
L 1525.913793 821.73465 
L 1532.279088 810.532939 
L 1537.053059 801.693765 
L 1552.966296 771.830973 
L 1558.535929 761.876796 
L 1564.105562 752.328788 
L 1569.675195 743.245752 
L 1575.244828 734.592673 
L 1580.018799 727.560402 
L 1583.997108 722.060341 
L 1587.975417 716.905982 
L 1605.479978 694.764697 
L 1610.253949 688.75753 
L 1613.436596 685.076468 
L 1616.619244 681.723986 
L 1620.597553 677.913137 
L 1625.371524 673.680374 
L 1642.080423 659.387883 
L 1646.854394 655.853746 
L 1653.219689 651.406439 
L 1658.789321 647.770697 
L 1664.358954 644.418749 
L 1669.132925 641.804358 
L 1673.906897 639.45164 
L 1679.476529 636.994077 
L 1685.841824 634.446346 
L 1693.002781 631.844197 
L 1700.959399 629.209238 
L 1710.507341 626.289536 
L 1723.237931 622.628654 
L 1733.581535 619.871627 
L 1743.129477 617.561473 
L 1751.881758 615.685928 
L 1764.612347 613.261994 
L 1779.729922 610.592236 
L 1792.460512 608.571224 
L 1803.599778 607.02036 
L 1813.943382 605.796651 
L 1821.104338 605.142366 
L 1821.9 605.100294 
L 1821.9 605.100294 
" clip-path="url(#p244bcbdf95)" style="fill: none; stroke: #fcdc77; stroke-width: 6.5"/>
   </g>
   <g id="patch_23">
    <path d="M 1108.6 994.6 
L 1108.6 544.6 
" style="fill: none; stroke: #000000; stroke-width: 2.8; stroke-linejoin: miter; stroke-linecap: square"/>
   </g>
   <g id="patch_24">
    <path d="M 1819.9 994.6 
L 1819.9 544.6 
" style="fill: none; stroke: #000000; stroke-width: 2.8; stroke-linejoin: miter; stroke-linecap: square"/>
   </g>
   <g id="patch_25">
    <path d="M 1108.6 994.6 
L 1819.9 994.6 
" style="fill: none; stroke: #000000; stroke-width: 2.8; stroke-linejoin: miter; stroke-linecap: square"/>
   </g>
   <g id="patch_26">
    <path d="M 1108.6 544.6 
L 1819.9 544.6 
" style="fill: none; stroke: #000000; stroke-width: 2.8; stroke-linejoin: miter; stroke-linecap: square"/>
   </g>
  </g>
  <g id="axes_6">
   <g id="patch_27">
    <path d="M 1108.6 1489.4 
L 1819.9 1489.4 
L 1819.9 1039.5 
L 1108.6 1039.5 
z
" style="fill: #ffffff"/>
   </g>
   <g id="matplotlib.axis_11">
    <g id="xtick_200">
     <g id="line2d_352">
      <path d="M 1241.96875 1489.4 
L 1241.96875 1039.5 
" clip-path="url(#pa75e77082c)" style="fill: none; stroke: #d3d3d3"/>
     </g>
     <g id="line2d_353">
      <g>
       <use href="#m03711f5c3c" x="1241.96875" y="1489.4" style="stroke: #000000; stroke-width: 5.3"/>
      </g>
     </g>
     <g id="text_19">
      <text style="font-size: 38.9px; font-family: 'DejaVu Sans'; text-anchor: middle" x="1241.96875" y="1529.357922" transform="rotate(-0 1241.96875 1529.357922)">0.5</text>
     </g>
    </g>
    <g id="xtick_201">
     <g id="line2d_354">
      <path d="M 1464.25 1489.4 
L 1464.25 1039.5 
" clip-path="url(#pa75e77082c)" style="fill: none; stroke: #d3d3d3"/>
     </g>
     <g id="line2d_355">
      <g>
       <use href="#m03711f5c3c" x="1464.25" y="1489.4" style="stroke: #000000; stroke-width: 5.3"/>
      </g>
     </g>
     <g id="text_20">
      <text style="font-size: 38.9px; font-family: 'DejaVu Sans'; text-anchor: middle" x="1464.25" y="1529.357922" transform="rotate(-0 1464.25 1529.357922)">1.0</text>
     </g>
    </g>
    <g id="xtick_202">
     <g id="line2d_356">
      <path d="M 1686.53125 1489.4 
L 1686.53125 1039.5 
" clip-path="url(#pa75e77082c)" style="fill: none; stroke: #d3d3d3"/>
     </g>
     <g id="line2d_357">
      <g>
       <use href="#m03711f5c3c" x="1686.53125" y="1489.4" style="stroke: #000000; stroke-width: 5.3"/>
      </g>
     </g>
     <g id="text_21">
      <text style="font-size: 38.9px; font-family: 'DejaVu Sans'; text-anchor: middle" x="1686.53125" y="1529.357922" transform="rotate(-0 1686.53125 1529.357922)">1.5</text>
     </g>
    </g>
    <g id="xtick_203">
     <g id="line2d_358">
      <g>
       <use href="#mb623954a8e" x="1108.6" y="1489.4" style="stroke: #000000; stroke-width: 3.3"/>
      </g>
     </g>
    </g>
    <g id="xtick_204">
     <g id="line2d_359">
      <g>
       <use href="#mb623954a8e" x="1153.05625" y="1489.4" style="stroke: #000000; stroke-width: 3.3"/>
      </g>
     </g>
    </g>
    <g id="xtick_205">
     <g id="line2d_360">
      <g>
       <use href="#mb623954a8e" x="1197.5125" y="1489.4" style="stroke: #000000; stroke-width: 3.3"/>
      </g>
     </g>
    </g>
    <g id="xtick_206">
     <g id="line2d_361">
      <g>
       <use href="#mb623954a8e" x="1286.425" y="1489.4" style="stroke: #000000; stroke-width: 3.3"/>
      </g>
     </g>
    </g>
    <g id="xtick_207">
     <g id="line2d_362">
      <g>
       <use href="#mb623954a8e" x="1330.88125" y="1489.4" style="stroke: #000000; stroke-width: 3.3"/>
      </g>
     </g>
    </g>
    <g id="xtick_208">
     <g id="line2d_363">
      <g>
       <use href="#mb623954a8e" x="1375.3375" y="1489.4" style="stroke: #000000; stroke-width: 3.3"/>
      </g>
     </g>
    </g>
    <g id="xtick_209">
     <g id="line2d_364">
      <g>
       <use href="#mb623954a8e" x="1419.79375" y="1489.4" style="stroke: #000000; stroke-width: 3.3"/>
      </g>
     </g>
    </g>
    <g id="xtick_210">
     <g id="line2d_365">
      <g>
       <use href="#mb623954a8e" x="1508.70625" y="1489.4" style="stroke: #000000; stroke-width: 3.3"/>
      </g>
     </g>
    </g>
    <g id="xtick_211">
     <g id="line2d_366">
      <g>
       <use href="#mb623954a8e" x="1553.1625" y="1489.4" style="stroke: #000000; stroke-width: 3.3"/>
      </g>
     </g>
    </g>
    <g id="xtick_212">
     <g id="line2d_367">
      <g>
       <use href="#mb623954a8e" x="1597.61875" y="1489.4" style="stroke: #000000; stroke-width: 3.3"/>
      </g>
     </g>
    </g>
    <g id="xtick_213">
     <g id="line2d_368">
      <g>
       <use href="#mb623954a8e" x="1642.075" y="1489.4" style="stroke: #000000; stroke-width: 3.3"/>
      </g>
     </g>
    </g>
    <g id="xtick_214">
     <g id="line2d_369">
      <g>
       <use href="#mb623954a8e" x="1730.9875" y="1489.4" style="stroke: #000000; stroke-width: 3.3"/>
      </g>
     </g>
    </g>
    <g id="xtick_215">
     <g id="line2d_370">
      <g>
       <use href="#mb623954a8e" x="1775.44375" y="1489.4" style="stroke: #000000; stroke-width: 3.3"/>
      </g>
     </g>
    </g>
    <g id="xtick_216">
     <g id="line2d_371">
      <g>
       <use href="#mb623954a8e" x="1819.9" y="1489.4" style="stroke: #000000; stroke-width: 3.3"/>
      </g>
     </g>
    </g>
   </g>
   <g id="matplotlib.axis_12">
    <g id="ytick_91">
     <g id="line2d_372">
      <path d="M 1108.6 1489.4 
L 1819.9 1489.4 
" clip-path="url(#pa75e77082c)" style="fill: none; stroke: #d3d3d3"/>
     </g>
     <g id="line2d_373">
      <g>
       <use href="#m70b90a0493" x="1108.6" y="1489.4" style="stroke: #000000; stroke-width: 5.3"/>
      </g>
     </g>
     <g id="text_22">
      
      <g transform="translate(1007.485 1504.178961)">
       <text>
        <tspan x="0" y="-0.164062" style="font-size: 38.9px; font-family: 'DejaVu Sans'">1</tspan>
        <tspan x="24.733459" y="-0.164062" style="font-size: 38.9px; font-family: 'DejaVu Sans'">0</tspan>
        <tspan x="49.840161" y="-15.09375" style="font-size: 27.23px; font-family: 'DejaVu Sans'">−</tspan>
        <tspan x="72.64126" y="-15.09375" style="font-size: 27.23px; font-family: 'DejaVu Sans'">5</tspan>
       </text>
      </g>
     </g>
    </g>
    <g id="ytick_92">
     <g id="line2d_374">
      <path d="M 1108.6 1331.51182 
L 1819.9 1331.51182 
" clip-path="url(#pa75e77082c)" style="fill: none; stroke: #d3d3d3"/>
     </g>
     <g id="line2d_375">
      <g>
       <use href="#m70b90a0493" x="1108.6" y="1331.51182" style="stroke: #000000; stroke-width: 5.3"/>
      </g>
     </g>
     <g id="text_23">
      
      <g transform="translate(1007.485 1346.290781)">
       <text>
        <tspan x="0" y="-0.803125" style="font-size: 38.9px; font-family: 'DejaVu Sans'">1</tspan>
        <tspan x="24.733459" y="-0.803125" style="font-size: 38.9px; font-family: 'DejaVu Sans'">0</tspan>
        <tspan x="49.840161" y="-15.732813" style="font-size: 27.23px; font-family: 'DejaVu Sans'">−</tspan>
        <tspan x="72.64126" y="-15.732813" style="font-size: 27.23px; font-family: 'DejaVu Sans'">3</tspan>
       </text>
      </g>
     </g>
    </g>
    <g id="ytick_93">
     <g id="line2d_376">
      <path d="M 1108.6 1173.623641 
L 1819.9 1173.623641 
" clip-path="url(#pa75e77082c)" style="fill: none; stroke: #d3d3d3"/>
     </g>
     <g id="line2d_377">
      <g>
       <use href="#m70b90a0493" x="1108.6" y="1173.623641" style="stroke: #000000; stroke-width: 5.3"/>
      </g>
     </g>
     <g id="text_24">
      
      <g transform="translate(1007.485 1188.402602)">
       <text>
        <tspan x="0" y="-0.164062" style="font-size: 38.9px; font-family: 'DejaVu Sans'">1</tspan>
        <tspan x="24.733459" y="-0.164062" style="font-size: 38.9px; font-family: 'DejaVu Sans'">0</tspan>
        <tspan x="49.840161" y="-15.09375" style="font-size: 27.23px; font-family: 'DejaVu Sans'">−</tspan>
        <tspan x="72.64126" y="-15.09375" style="font-size: 27.23px; font-family: 'DejaVu Sans'">1</tspan>
       </text>
      </g>
     </g>
    </g>
   </g>
   <g id="line2d_378">
    <path d="M 1106.6 1103.354075 
L 1108.191324 1102.500842 
L 1110.578309 1100.781142 
L 1113.760957 1098.429635 
L 1116.147942 1097.018016 
L 1118.534928 1095.991396 
L 1120.921913 1095.250829 
L 1124.900222 1094.325581 
L 1129.674194 1093.488863 
L 1135.243826 1092.779169 
L 1143.996107 1091.959175 
L 1152.748387 1091.322361 
L 1159.113682 1091.06179 
L 1165.478977 1091.033478 
L 1173.435595 1091.255081 
L 1183.779199 1091.790282 
L 1193.327141 1092.470673 
L 1199.692436 1093.14552 
L 1206.057731 1094.019675 
L 1211.627364 1094.968476 
L 1215.605673 1095.858239 
L 1219.583982 1097.020232 
L 1223.562291 1098.424556 
L 1228.336263 1100.341884 
L 1235.497219 1103.478464 
L 1240.27119 1105.756631 
L 1244.249499 1107.885503 
L 1249.819132 1111.133926 
L 1261.75406 1118.184269 
L 1276.871635 1126.550689 
L 1287.215239 1132.057581 
L 1293.580534 1135.237343 
L 1301.537152 1138.916716 
L 1307.902447 1141.954588 
L 1312.676418 1144.468209 
L 1318.246051 1147.640509 
L 1324.611346 1151.528999 
L 1330.976641 1155.673721 
L 1336.546274 1159.544522 
L 1341.320245 1163.107123 
L 1346.094216 1166.926748 
L 1350.868187 1170.997151 
L 1354.846496 1174.684551 
L 1358.029143 1177.938739 
L 1361.211791 1181.555035 
L 1364.394438 1185.597522 
L 1367.577086 1190.078499 
L 1370.759733 1194.979074 
L 1373.94238 1200.291546 
L 1377.125028 1206.080016 
L 1379.512013 1210.811673 
L 1381.898999 1215.927977 
L 1384.285984 1221.473237 
L 1386.67297 1227.545707 
L 1389.059956 1234.284849 
L 1391.446941 1241.694 
L 1394.629588 1252.299416 
L 1398.607898 1266.349336 
L 1402.586207 1281.167866 
L 1413.725473 1323.420067 
L 1416.90812 1334.560411 
L 1419.295106 1342.348538 
L 1421.682091 1349.296712 
L 1423.273415 1353.346903 
L 1424.864739 1356.959629 
L 1427.251724 1361.707855 
L 1429.63871 1365.767457 
L 1431.230033 1368.109385 
L 1433.617019 1371.134127 
L 1436.004004 1373.718198 
L 1438.39099 1375.995675 
L 1440.777976 1378.00042 
L 1443.164961 1379.713508 
L 1445.551947 1381.124586 
L 1447.938932 1382.277208 
L 1451.12158 1383.558298 
L 1454.304227 1384.626298 
L 1456.691212 1385.255059 
L 1459.078198 1385.690901 
L 1461.465184 1385.894423 
L 1463.852169 1385.83826 
L 1466.239155 1385.520525 
L 1468.62614 1384.965437 
L 1471.013126 1384.209993 
L 1474.195773 1382.944229 
L 1476.582759 1381.770709 
L 1478.174082 1380.814308 
L 1479.765406 1379.664957 
L 1481.35673 1378.301312 
L 1483.743715 1375.881762 
L 1486.130701 1373.114829 
L 1489.313348 1369.090828 
L 1492.495996 1364.766092 
L 1495.678643 1359.996231 
L 1498.86129 1354.706606 
L 1502.043938 1348.944773 
L 1505.226585 1342.662701 
L 1508.409232 1335.73295 
L 1512.387542 1326.393205 
L 1521.139822 1305.183169 
L 1526.709455 1291.138947 
L 1533.07475 1274.417929 
L 1544.214016 1245.137833 
L 1548.987987 1233.145473 
L 1553.761958 1221.683327 
L 1557.740267 1212.673256 
L 1561.718576 1204.231771 
L 1564.901224 1197.981525 
L 1568.083871 1192.277992 
L 1572.06218 1185.734346 
L 1576.040489 1179.652733 
L 1580.018799 1174.037229 
L 1583.201446 1169.90784 
L 1586.384093 1166.102226 
L 1590.362403 1161.712348 
L 1595.136374 1156.826539 
L 1599.910345 1152.289544 
L 1604.684316 1148.062165 
L 1609.458287 1144.106204 
L 1615.02792 1139.782767 
L 1621.393215 1135.149303 
L 1627.758509 1130.797496 
L 1633.328142 1127.239833 
L 1638.897775 1123.941759 
L 1644.467408 1120.927983 
L 1650.037041 1118.205478 
L 1656.402336 1115.371457 
L 1662.767631 1112.775394 
L 1669.132925 1110.398392 
L 1676.293882 1107.964466 
L 1684.250501 1105.502586 
L 1693.002781 1103.012344 
L 1700.163737 1101.185127 
L 1707.324694 1099.596641 
L 1714.485651 1098.258903 
L 1723.237931 1096.853865 
L 1733.581535 1095.430577 
L 1747.107786 1093.820321 
L 1759.838376 1092.475007 
L 1769.386318 1091.688835 
L 1782.116908 1090.930466 
L 1799.621468 1090.063294 
L 1812.352058 1089.64601 
L 1821.9 1089.509079 
L 1821.9 1089.509079 
" clip-path="url(#pa75e77082c)" style="fill: none; stroke: #000000; stroke-width: 6.5"/>
   </g>
   <g id="line2d_379">
    <path d="M 1106.6 1101.631065 
L 1108.191324 1100.928915 
L 1110.578309 1099.512249 
L 1113.760957 1097.567457 
L 1116.147942 1096.388501 
L 1118.534928 1095.516521 
L 1121.717575 1094.688808 
L 1126.491546 1093.762515 
L 1132.061179 1092.94335 
L 1139.222136 1092.151439 
L 1151.952725 1090.975764 
L 1159.113682 1090.54366 
L 1165.478977 1090.395621 
L 1173.435595 1090.435586 
L 1182.983537 1090.713999 
L 1191.735818 1091.166424 
L 1198.896774 1091.740217 
L 1206.057731 1092.515767 
L 1212.423026 1093.411287 
L 1216.401335 1094.213959 
L 1220.379644 1095.294163 
L 1224.357953 1096.608855 
L 1229.927586 1098.719542 
L 1237.088543 1101.679948 
L 1241.066852 1103.52135 
L 1245.045161 1105.595999 
L 1250.614794 1108.767581 
L 1260.958398 1114.721399 
L 1273.688988 1121.562452 
L 1288.010901 1129.063496 
L 1295.171858 1132.595047 
L 1307.902447 1138.741134 
L 1312.676418 1141.348504 
L 1318.246051 1144.667989 
L 1323.815684 1148.247542 
L 1329.385317 1152.077917 
L 1334.95495 1156.174825 
L 1340.524583 1160.551117 
L 1346.094216 1165.23708 
L 1350.868187 1169.536852 
L 1354.846496 1173.434108 
L 1358.029143 1176.859313 
L 1361.211791 1180.635404 
L 1364.394438 1184.816742 
L 1367.577086 1189.416451 
L 1370.759733 1194.422015 
L 1373.94238 1199.832898 
L 1377.125028 1205.717096 
L 1380.307675 1212.202149 
L 1382.694661 1217.525738 
L 1385.081646 1223.311301 
L 1387.468632 1229.68315 
L 1389.855617 1236.74742 
L 1393.038265 1247.088841 
L 1397.016574 1260.957427 
L 1400.994883 1275.607402 
L 1407.360178 1300.071277 
L 1412.929811 1321.087993 
L 1416.90812 1335.095943 
L 1419.295106 1342.854638 
L 1421.682091 1349.764691 
L 1423.273415 1353.791646 
L 1424.864739 1357.38456 
L 1427.251724 1362.107374 
L 1429.63871 1366.14841 
L 1431.230033 1368.485528 
L 1433.617019 1371.516111 
L 1436.004004 1374.11285 
L 1438.39099 1376.395727 
L 1440.777976 1378.390051 
L 1443.164961 1380.077133 
L 1445.551947 1381.455361 
L 1447.938932 1382.576161 
L 1451.12158 1383.814066 
L 1454.304227 1384.834482 
L 1457.486874 1385.593608 
L 1459.87386 1385.944833 
L 1462.260845 1386.067051 
L 1464.647831 1385.936126 
L 1467.034816 1385.562108 
L 1469.421802 1384.980127 
L 1472.604449 1383.948561 
L 1475.787097 1382.649075 
L 1478.174082 1381.382246 
L 1479.765406 1380.312822 
L 1481.35673 1379.034105 
L 1483.743715 1376.749325 
L 1486.130701 1374.122056 
L 1489.313348 1370.283725 
L 1492.495996 1366.135517 
L 1494.882981 1362.72973 
L 1497.269967 1359.016506 
L 1500.452614 1353.612528 
L 1503.635261 1347.706688 
L 1506.022247 1342.872544 
L 1509.204894 1335.830138 
L 1513.978865 1324.505115 
L 1521.139822 1307.031923 
L 1526.709455 1292.869256 
L 1533.07475 1275.981632 
L 1541.82703 1252.847687 
L 1547.396663 1238.65971 
L 1552.966296 1225.107414 
L 1559.331591 1210.249358 
L 1563.3099 1201.347508 
L 1565.696885 1196.450038 
L 1568.083871 1191.981957 
L 1571.266518 1186.523327 
L 1574.449166 1181.46013 
L 1577.631813 1176.748001 
L 1580.814461 1172.37914 
L 1583.997108 1168.342009 
L 1587.975417 1163.710095 
L 1591.953726 1159.428189 
L 1596.727697 1154.650406 
L 1601.501669 1150.21891 
L 1606.27564 1146.09189 
L 1611.845273 1141.606347 
L 1617.414905 1137.412401 
L 1623.7802 1132.904338 
L 1630.145495 1128.689071 
L 1635.715128 1125.261878 
L 1641.284761 1122.098878 
L 1646.854394 1119.217268 
L 1652.424027 1116.593608 
L 1658.789321 1113.829925 
L 1665.154616 1111.292108 
L 1671.519911 1108.97099 
L 1678.680868 1106.605164 
L 1687.433148 1103.982455 
L 1695.389766 1101.814147 
L 1702.550723 1100.078799 
L 1709.71168 1098.58519 
L 1717.668298 1097.179073 
L 1727.21624 1095.725961 
L 1738.355506 1094.273038 
L 1755.064405 1092.363931 
L 1765.408009 1091.389151 
L 1774.160289 1090.786692 
L 1794.847497 1089.668573 
L 1808.373749 1089.146348 
L 1819.513014 1088.924782 
L 1821.9 1088.908495 
L 1821.9 1088.908495 
" clip-path="url(#pa75e77082c)" style="fill: none; stroke: #13305f; stroke-width: 6.5"/>
   </g>
   <g id="line2d_380">
    <path d="M 1106.6 1098.185045 
L 1108.986986 1097.534537 
L 1116.147942 1095.12947 
L 1119.33059 1094.40693 
L 1124.104561 1093.600771 
L 1131.265517 1092.61746 
L 1150.361402 1090.368001 
L 1158.31802 1089.570312 
L 1164.683315 1089.159874 
L 1175.026919 1088.751035 
L 1182.983537 1088.65516 
L 1190.940156 1088.807847 
L 1201.28376 1089.238143 
L 1210.831702 1089.837235 
L 1214.810011 1090.260985 
L 1217.992659 1090.79556 
L 1221.970968 1091.711194 
L 1226.744939 1093.088219 
L 1233.110234 1095.201771 
L 1238.679867 1097.23348 
L 1242.658176 1098.957256 
L 1246.636485 1100.936356 
L 1253.00178 1104.399652 
L 1260.958398 1108.693909 
L 1271.302002 1113.883031 
L 1306.311123 1131.440153 
L 1311.085095 1134.146736 
L 1315.859066 1137.128514 
L 1320.633037 1140.380735 
L 1325.407008 1143.879949 
L 1330.180979 1147.657179 
L 1335.750612 1152.398635 
L 1342.115907 1158.117676 
L 1347.685539 1163.403945 
L 1351.663849 1167.448774 
L 1355.642158 1171.845724 
L 1358.824805 1175.69108 
L 1362.007453 1179.874823 
L 1365.1901 1184.427785 
L 1368.372747 1189.359601 
L 1371.555395 1194.670356 
L 1374.738042 1200.385004 
L 1377.92069 1206.597756 
L 1381.103337 1213.435937 
L 1383.490323 1219.050572 
L 1385.877308 1225.184151 
L 1388.264294 1231.968439 
L 1390.651279 1239.436286 
L 1393.833927 1250.213549 
L 1397.812236 1264.574138 
L 1402.586207 1282.674416 
L 1412.929811 1322.41255 
L 1416.90812 1336.503544 
L 1419.295106 1344.295593 
L 1421.682091 1351.24058 
L 1423.273415 1355.306716 
L 1425.6604 1360.644699 
L 1428.047386 1365.254284 
L 1430.434372 1369.242655 
L 1432.821357 1372.671635 
L 1435.208343 1375.657029 
L 1437.595328 1378.311625 
L 1439.982314 1380.664227 
L 1442.369299 1382.69193 
L 1444.756285 1384.388689 
L 1447.14327 1385.798787 
L 1450.325918 1387.363581 
L 1453.508565 1388.654573 
L 1456.691212 1389.650554 
L 1459.078198 1390.175618 
L 1461.465184 1390.468946 
L 1463.852169 1390.486023 
L 1466.239155 1390.223384 
L 1468.62614 1389.720542 
L 1471.808788 1388.760185 
L 1474.991435 1387.529647 
L 1477.37842 1386.359968 
L 1478.969744 1385.381852 
L 1480.561068 1384.201911 
L 1482.152392 1382.815315 
L 1484.539377 1380.398315 
L 1487.722024 1376.730599 
L 1490.904672 1372.741641 
L 1494.087319 1368.377203 
L 1496.474305 1364.757123 
L 1499.656952 1359.455482 
L 1502.8396 1353.64212 
L 1505.226585 1348.889094 
L 1507.613571 1343.727953 
L 1510.796218 1336.297984 
L 1517.161513 1320.690691 
L 1522.731146 1306.574851 
L 1528.300779 1291.812277 
L 1542.622692 1253.09338 
L 1548.192325 1238.851009 
L 1555.353281 1221.256825 
L 1564.901224 1198.090534 
L 1567.288209 1193.18167 
L 1569.675195 1188.76715 
L 1572.857842 1183.386454 
L 1576.040489 1178.448214 
L 1579.223137 1173.906153 
L 1582.405784 1169.720651 
L 1586.384093 1164.918446 
L 1590.362403 1160.49343 
L 1594.340712 1156.367685 
L 1599.114683 1151.762578 
L 1603.888654 1147.491656 
L 1608.662625 1143.509952 
L 1614.232258 1139.170417 
L 1620.597553 1134.532426 
L 1626.962848 1130.191558 
L 1632.532481 1126.645523 
L 1638.102113 1123.349529 
L 1643.671746 1120.317537 
L 1649.241379 1117.553069 
L 1655.606674 1114.653581 
L 1661.971969 1111.979162 
L 1668.337264 1109.525921 
L 1674.702558 1107.292958 
L 1681.863515 1105.027427 
L 1690.615795 1102.509366 
L 1698.572414 1100.458166 
L 1705.73337 1098.840444 
L 1712.894327 1097.455967 
L 1721.646607 1095.998381 
L 1731.990211 1094.516645 
L 1744.720801 1092.945593 
L 1759.042714 1091.369658 
L 1768.590656 1090.547479 
L 1779.729922 1089.861599 
L 1798.030145 1088.920659 
L 1810.760734 1088.476392 
L 1821.9 1088.30791 
L 1821.9 1088.30791 
" clip-path="url(#pa75e77082c)" style="fill: none; stroke: #34508a; stroke-width: 6.5"/>
   </g>
   <g id="line2d_381">
    <path d="M 1106.6 1095.600531 
L 1109.782647 1095.198036 
L 1120.126251 1093.648362 
L 1162.296329 1088.427619 
L 1173.435595 1087.567352 
L 1180.596552 1087.18376 
L 1186.961846 1087.062668 
L 1199.692436 1087.164552 
L 1212.423026 1087.40662 
L 1216.401335 1087.722532 
L 1219.583982 1088.187219 
L 1223.562291 1089.000194 
L 1228.336263 1090.222209 
L 1235.497219 1092.319948 
L 1239.475528 1093.654488 
L 1242.658176 1094.93127 
L 1246.636485 1096.779618 
L 1252.206118 1099.651261 
L 1260.958398 1104.173246 
L 1270.50634 1108.704306 
L 1284.032592 1115.180377 
L 1299.945829 1123.131432 
L 1305.515462 1126.1243 
L 1310.289433 1128.917439 
L 1314.267742 1131.469846 
L 1319.041713 1134.832648 
L 1323.815684 1138.491642 
L 1327.793993 1141.782009 
L 1332.567964 1146.055772 
L 1338.933259 1152.117758 
L 1346.094216 1159.201467 
L 1350.868187 1164.258587 
L 1354.846496 1168.84825 
L 1358.029143 1172.837944 
L 1361.211791 1177.139351 
L 1364.394438 1181.771913 
L 1367.577086 1186.752608 
L 1370.759733 1192.095761 
L 1373.94238 1197.834583 
L 1377.125028 1204.061059 
L 1380.307675 1210.908012 
L 1382.694661 1216.536873 
L 1385.081646 1222.699721 
L 1387.468632 1229.538484 
L 1389.855617 1237.103432 
L 1393.038265 1248.116628 
L 1396.220912 1259.921776 
L 1401.790545 1281.644003 
L 1412.929811 1325.305561 
L 1416.112458 1336.844873 
L 1418.499444 1344.945944 
L 1420.886429 1352.287919 
L 1423.273415 1358.686883 
L 1425.6604 1364.233534 
L 1428.047386 1369.124912 
L 1430.434372 1373.488074 
L 1432.821357 1377.413009 
L 1435.208343 1380.991637 
L 1437.595328 1384.267931 
L 1439.982314 1387.211623 
L 1442.369299 1389.775018 
L 1444.756285 1391.966841 
L 1447.14327 1393.858922 
L 1449.530256 1395.518664 
L 1451.917241 1396.964765 
L 1454.304227 1398.183826 
L 1456.691212 1399.172837 
L 1459.078198 1399.938119 
L 1461.465184 1400.43699 
L 1463.056507 1400.58347 
L 1464.647831 1400.570349 
L 1467.034816 1400.280517 
L 1469.421802 1399.731684 
L 1472.604449 1398.703558 
L 1474.991435 1397.744105 
L 1477.37842 1396.55382 
L 1478.969744 1395.558964 
L 1480.561068 1394.363318 
L 1482.948053 1392.194908 
L 1485.335039 1389.655142 
L 1488.517686 1385.885998 
L 1491.700334 1381.803956 
L 1494.087319 1378.468775 
L 1496.474305 1374.820265 
L 1499.656952 1369.4574 
L 1502.8396 1363.541742 
L 1505.226585 1358.672682 
L 1507.613571 1353.352557 
L 1510.796218 1345.640042 
L 1516.365851 1331.344488 
L 1521.935484 1316.451427 
L 1526.709455 1303.03908 
L 1533.870412 1281.974797 
L 1538.644383 1268.322111 
L 1544.214016 1253.036184 
L 1549.783648 1238.322268 
L 1557.740267 1217.438327 
L 1564.105562 1200.096359 
L 1566.492547 1194.561665 
L 1568.879533 1189.756591 
L 1571.266518 1185.444285 
L 1574.449166 1180.21327 
L 1577.631813 1175.467528 
L 1580.814461 1171.13159 
L 1583.997108 1167.129697 
L 1587.975417 1162.491662 
L 1591.953726 1158.180091 
L 1595.932036 1154.156324 
L 1600.706007 1149.668067 
L 1605.479978 1145.505714 
L 1610.253949 1141.62141 
L 1615.823582 1137.377843 
L 1622.188877 1132.833578 
L 1628.554171 1128.593094 
L 1634.123804 1125.140247 
L 1639.693437 1121.936842 
L 1645.26307 1118.990996 
L 1650.832703 1116.290259 
L 1657.99366 1113.086552 
L 1664.358954 1110.469336 
L 1670.724249 1108.076028 
L 1677.089544 1105.913084 
L 1684.250501 1103.72287 
L 1692.207119 1101.505368 
L 1700.163737 1099.525689 
L 1707.324694 1097.971553 
L 1715.281313 1096.494529 
L 1724.829255 1094.966361 
L 1735.172859 1093.539934 
L 1749.494772 1091.813167 
L 1761.4297 1090.547968 
L 1770.18198 1089.837472 
L 1784.503893 1088.990875 
L 1801.212792 1088.183788 
L 1813.14772 1087.816966 
L 1821.9 1087.707326 
L 1821.9 1087.707326 
" clip-path="url(#pa75e77082c)" style="fill: none; stroke: #6f68a0; stroke-width: 6.5"/>
   </g>
   <g id="line2d_382">
    <path d="M 1106.6 1094.739026 
L 1110.578309 1094.436675 
L 1123.308899 1093.095933 
L 1139.222136 1091.222889 
L 1148.770078 1089.867311 
L 1158.31802 1088.562478 
L 1165.478977 1087.844191 
L 1177.413904 1086.870946 
L 1183.779199 1086.572411 
L 1190.940156 1086.50066 
L 1213.218687 1086.576328 
L 1216.401335 1086.795185 
L 1219.583982 1087.205772 
L 1223.562291 1087.953042 
L 1228.336263 1089.0978 
L 1235.497219 1091.08011 
L 1239.475528 1092.354195 
L 1242.658176 1093.589269 
L 1246.636485 1095.394031 
L 1252.206118 1098.215586 
L 1260.958398 1102.666324 
L 1270.50634 1107.110057 
L 1283.23693 1113.101466 
L 1296.763181 1119.811714 
L 1303.128476 1123.161038 
L 1308.698109 1126.351583 
L 1312.676418 1128.852392 
L 1316.654727 1131.588879 
L 1321.428699 1135.172256 
L 1326.20267 1139.063392 
L 1330.180979 1142.588744 
L 1334.95495 1147.118412 
L 1343.70723 1155.782858 
L 1348.481201 1160.72962 
L 1352.459511 1165.150332 
L 1355.642158 1168.968821 
L 1358.824805 1173.081114 
L 1362.007453 1177.502637 
L 1365.1901 1182.248191 
L 1368.372747 1187.337012 
L 1371.555395 1192.794415 
L 1374.738042 1198.679394 
L 1377.92069 1205.111045 
L 1380.307675 1210.379063 
L 1382.694661 1216.106819 
L 1385.081646 1222.4185 
L 1387.468632 1229.467943 
L 1389.855617 1237.280297 
L 1393.038265 1248.652133 
L 1396.220912 1260.895956 
L 1403.381869 1289.789205 
L 1411.338487 1321.655579 
L 1415.316796 1336.579684 
L 1418.499444 1347.607765 
L 1420.886429 1355.005471 
L 1423.273415 1361.496894 
L 1425.6604 1367.200733 
L 1428.047386 1372.30828 
L 1430.434372 1376.963834 
L 1433.617019 1382.661026 
L 1436.799666 1387.884084 
L 1439.186652 1391.424507 
L 1441.573637 1394.550798 
L 1443.960623 1397.250062 
L 1446.347608 1399.605177 
L 1448.734594 1401.699092 
L 1451.12158 1403.541607 
L 1453.508565 1405.105128 
L 1455.895551 1406.385333 
L 1458.282536 1407.415569 
L 1460.669522 1408.183778 
L 1462.260845 1408.503408 
L 1463.852169 1408.641085 
L 1465.443493 1408.600903 
L 1467.830478 1408.262279 
L 1470.217464 1407.671661 
L 1473.400111 1406.60261 
L 1475.787097 1405.600512 
L 1478.174082 1404.320017 
L 1479.765406 1403.241025 
L 1481.35673 1401.959839 
L 1483.743715 1399.689795 
L 1486.130701 1397.092791 
L 1489.313348 1393.295947 
L 1492.495996 1389.168221 
L 1494.882981 1385.755368 
L 1497.269967 1382.006593 
L 1499.656952 1377.922495 
L 1502.043938 1373.506542 
L 1504.430923 1368.707275 
L 1506.817909 1363.433123 
L 1509.204894 1357.673551 
L 1513.183204 1347.338799 
L 1518.752836 1332.159196 
L 1523.526808 1318.444844 
L 1527.505117 1306.423902 
L 1538.644383 1272.077878 
L 1544.214016 1256.121801 
L 1550.57931 1238.561042 
L 1556.944605 1220.973125 
L 1564.901224 1198.195922 
L 1566.492547 1194.467067 
L 1568.879533 1189.552701 
L 1571.266518 1185.190763 
L 1574.449166 1179.940752 
L 1577.631813 1175.204147 
L 1580.814461 1170.887361 
L 1584.79277 1165.947154 
L 1588.771079 1161.384098 
L 1592.749388 1157.13284 
L 1596.727697 1153.164551 
L 1601.501669 1148.737075 
L 1606.27564 1144.628673 
L 1611.049611 1140.790841 
L 1616.619244 1136.591548 
L 1622.984538 1132.091965 
L 1628.554171 1128.40597 
L 1634.123804 1124.960964 
L 1639.693437 1121.763809 
L 1645.26307 1118.820849 
L 1650.832703 1116.118358 
L 1657.99366 1112.907157 
L 1664.358954 1110.281334 
L 1670.724249 1107.88043 
L 1677.089544 1105.713595 
L 1684.250501 1103.525122 
L 1692.207119 1101.313952 
L 1700.163737 1099.341307 
L 1707.324694 1097.790987 
L 1715.281313 1096.313681 
L 1724.829255 1094.782638 
L 1735.172859 1093.352172 
L 1749.494772 1091.620003 
L 1761.4297 1090.350268 
L 1770.18198 1089.637742 
L 1784.503893 1088.789988 
L 1801.212792 1087.98209 
L 1813.14772 1087.615728 
L 1821.9 1087.507131 
L 1821.9 1087.507131 
" clip-path="url(#pa75e77082c)" style="fill: none; stroke: #8d72a8; stroke-width: 6.5"/>
   </g>
   <g id="line2d_383">
    <path d="M 1106.6 1094.734315 
L 1111.373971 1094.424065 
L 1150.361402 1091.450329 
L 1159.909344 1090.862509 
L 1170.252948 1090.50061 
L 1179.80089 1090.348298 
L 1187.757508 1090.434907 
L 1210.03604 1091.031637 
L 1214.014349 1091.324523 
L 1217.196997 1091.770524 
L 1220.379644 1092.417959 
L 1224.357953 1093.437595 
L 1229.927586 1095.095785 
L 1235.497219 1096.95815 
L 1240.27119 1098.782972 
L 1244.249499 1100.547408 
L 1249.023471 1102.92584 
L 1265.732369 1111.604705 
L 1277.667297 1117.249877 
L 1292.784872 1124.092566 
L 1300.741491 1127.807895 
L 1306.311123 1130.649484 
L 1311.085095 1133.296717 
L 1315.859066 1136.189288 
L 1321.428699 1139.871623 
L 1326.20267 1143.28208 
L 1330.180979 1146.408962 
L 1334.159288 1149.8766 
L 1338.137597 1153.683999 
L 1343.70723 1159.395675 
L 1350.072525 1166.262048 
L 1354.846496 1171.733551 
L 1358.824805 1176.65099 
L 1362.803115 1181.962363 
L 1366.781424 1187.718645 
L 1369.964071 1192.680585 
L 1373.146719 1198.00876 
L 1376.329366 1203.806329 
L 1378.716352 1208.549042 
L 1381.103337 1213.694769 
L 1383.490323 1219.325432 
L 1385.877308 1225.587763 
L 1388.264294 1232.626931 
L 1390.651279 1240.43003 
L 1393.833927 1251.806478 
L 1397.016574 1264.078392 
L 1405.768854 1299.303299 
L 1412.134149 1324.593526 
L 1416.112458 1339.35249 
L 1418.499444 1347.568358 
L 1420.886429 1355.011272 
L 1423.273415 1361.552916 
L 1425.6604 1367.311224 
L 1428.047386 1372.476945 
L 1430.434372 1377.194194 
L 1433.617019 1382.979256 
L 1436.799666 1388.296561 
L 1439.186652 1391.911152 
L 1441.573637 1395.113452 
L 1443.960623 1397.889142 
L 1446.347608 1400.319415 
L 1448.734594 1402.485389 
L 1451.12158 1404.394945 
L 1453.508565 1406.018539 
L 1455.895551 1407.349961 
L 1458.282536 1408.420858 
L 1460.669522 1409.217783 
L 1462.260845 1409.549412 
L 1463.852169 1409.693141 
L 1465.443493 1409.652971 
L 1467.830478 1409.303078 
L 1470.217464 1408.688058 
L 1473.400111 1407.567645 
L 1475.787097 1406.514669 
L 1478.174082 1405.174602 
L 1479.765406 1404.052019 
L 1481.35673 1402.72484 
L 1483.743715 1400.382612 
L 1486.130701 1397.711313 
L 1489.313348 1393.815161 
L 1492.495996 1389.59107 
L 1494.882981 1386.109546 
L 1497.269967 1382.296037 
L 1500.452614 1376.698081 
L 1502.8396 1372.108653 
L 1505.226585 1367.1088 
L 1507.613571 1361.618941 
L 1510.796218 1353.614376 
L 1515.570189 1340.820049 
L 1520.34416 1327.460177 
L 1525.118131 1313.364348 
L 1529.892102 1298.447262 
L 1536.257397 1278.399721 
L 1541.031368 1264.174292 
L 1547.396663 1245.953155 
L 1564.105562 1199.332504 
L 1565.696885 1195.617802 
L 1568.083871 1190.726522 
L 1570.470857 1186.424164 
L 1573.653504 1181.268058 
L 1576.836151 1176.606083 
L 1580.018799 1172.3378 
L 1583.997108 1167.433867 
L 1587.975417 1162.897236 
L 1591.953726 1158.667092 
L 1595.932036 1154.721081 
L 1600.706007 1150.332426 
L 1605.479978 1146.269177 
L 1611.049611 1141.854339 
L 1616.619244 1137.736814 
L 1622.188877 1133.886287 
L 1627.758509 1130.307109 
L 1633.328142 1127.013637 
L 1638.897775 1123.995435 
L 1644.467408 1121.231256 
L 1650.037041 1118.701008 
L 1657.197998 1115.704745 
L 1664.358954 1112.946647 
L 1671.519911 1110.427845 
L 1678.680868 1108.163571 
L 1686.637486 1105.90297 
L 1694.594105 1103.859363 
L 1702.550723 1102.036141 
L 1710.507341 1100.44387 
L 1719.259622 1098.938658 
L 1728.807564 1097.534657 
L 1739.94683 1096.127265 
L 1754.268743 1094.555554 
L 1764.612347 1093.634429 
L 1774.160289 1093.012806 
L 1798.030145 1091.787473 
L 1812.352058 1091.260096 
L 1821.9 1091.067745 
L 1821.9 1091.067745 
" clip-path="url(#pa75e77082c)" style="fill: none; stroke: #b583b6; stroke-width: 6.5"/>
   </g>
   <g id="line2d_384">
    <path d="M 1106.6 1094.731959 
L 1112.169633 1094.401345 
L 1128.08287 1093.410553 
L 1146.383092 1092.514408 
L 1158.31802 1092.131069 
L 1168.661624 1092.037595 
L 1179.80089 1092.156501 
L 1191.735818 1092.538006 
L 1208.444716 1093.191386 
L 1213.218687 1093.580688 
L 1216.401335 1094.060766 
L 1219.583982 1094.756375 
L 1223.562291 1095.852737 
L 1229.927586 1097.884074 
L 1235.497219 1099.897172 
L 1240.27119 1101.852849 
L 1245.045161 1104.06702 
L 1249.819132 1106.525846 
L 1264.141046 1114.162551 
L 1273.688988 1118.807269 
L 1281.645606 1122.439516 
L 1295.171858 1128.265148 
L 1301.537152 1131.151043 
L 1307.106785 1133.9129 
L 1312.676418 1136.926644 
L 1318.246051 1140.230243 
L 1323.815684 1143.786283 
L 1327.793993 1146.54037 
L 1330.976641 1148.971232 
L 1334.159288 1151.670698 
L 1337.341935 1154.660999 
L 1341.320245 1158.725647 
L 1346.889878 1164.76748 
L 1353.255172 1171.970296 
L 1357.233482 1176.771633 
L 1361.211791 1181.92351 
L 1365.1901 1187.492343 
L 1368.372747 1192.287349 
L 1371.555395 1197.42056 
L 1374.738042 1202.961679 
L 1377.92069 1209.036585 
L 1380.307675 1214.011655 
L 1382.694661 1219.393587 
L 1385.081646 1225.274753 
L 1387.468632 1231.793706 
L 1389.855617 1239.012466 
L 1392.242603 1246.868934 
L 1395.42525 1258.191168 
L 1400.199221 1276.252507 
L 1408.951502 1309.336126 
L 1412.929811 1323.680781 
L 1416.90812 1337.12454 
L 1419.295106 1344.522624 
L 1421.682091 1351.150707 
L 1424.069077 1356.97686 
L 1426.456062 1362.146697 
L 1428.843048 1366.797061 
L 1431.230033 1371.018062 
L 1434.412681 1376.133398 
L 1437.595328 1380.76437 
L 1439.982314 1383.861999 
L 1442.369299 1386.567867 
L 1444.756285 1388.89 
L 1447.14327 1390.901193 
L 1449.530256 1392.658819 
L 1451.917241 1394.174767 
L 1454.304227 1395.442249 
L 1456.691212 1396.473205 
L 1459.078198 1397.290293 
L 1461.465184 1397.854421 
L 1463.056507 1398.047006 
L 1464.647831 1398.078671 
L 1467.034816 1397.852101 
L 1469.421802 1397.363299 
L 1472.604449 1396.412775 
L 1475.787097 1395.174451 
L 1478.174082 1393.975057 
L 1480.561068 1392.428031 
L 1482.948053 1390.507065 
L 1485.335039 1388.264569 
L 1488.517686 1384.907607 
L 1491.700334 1381.219728 
L 1494.087319 1378.179011 
L 1496.474305 1374.827884 
L 1498.86129 1371.133035 
L 1501.248276 1367.082494 
L 1503.635261 1362.653078 
L 1506.022247 1357.78354 
L 1508.409232 1352.428518 
L 1511.59188 1344.617479 
L 1515.570189 1334.188129 
L 1520.34416 1321.099151 
L 1525.118131 1307.319773 
L 1530.687764 1290.475717 
L 1536.257397 1273.708119 
L 1541.82703 1257.779843 
L 1548.192325 1240.278071 
L 1561.718576 1203.833542 
L 1564.105562 1198.162907 
L 1566.492547 1193.201072 
L 1568.879533 1188.865396 
L 1571.266518 1184.955292 
L 1574.449166 1180.194153 
L 1577.631813 1175.83171 
L 1581.610122 1170.81315 
L 1585.588432 1166.173812 
L 1589.566741 1161.846374 
L 1593.54505 1157.806235 
L 1597.523359 1154.042665 
L 1602.29733 1149.865957 
L 1607.071301 1145.982411 
L 1612.640934 1141.738234 
L 1618.210567 1137.783154 
L 1623.7802 1134.120626 
L 1628.554171 1131.232616 
L 1633.328142 1128.589675 
L 1638.897775 1125.786081 
L 1644.467408 1123.237092 
L 1650.832703 1120.592697 
L 1657.99366 1117.866552 
L 1665.950278 1115.071472 
L 1673.906897 1112.521794 
L 1681.863515 1110.23365 
L 1690.615795 1107.969097 
L 1699.368076 1105.950817 
L 1708.120356 1104.160504 
L 1716.872636 1102.6121 
L 1725.624917 1101.29149 
L 1736.764182 1099.867945 
L 1749.494772 1098.482929 
L 1759.838376 1097.556883 
L 1770.18198 1096.855162 
L 1790.869188 1095.798576 
L 1809.965072 1094.971457 
L 1821.9 1094.628358 
L 1821.9 1094.628358 
" clip-path="url(#pa75e77082c)" style="fill: none; stroke: #cb8c9a; stroke-width: 6.5"/>
   </g>
   <g id="line2d_385">
    <path d="M 1106.6 1094.729015 
L 1113.760957 1094.364142 
L 1124.900222 1093.87103 
L 1137.630812 1093.535607 
L 1147.974416 1093.47647 
L 1159.909344 1093.651544 
L 1171.04861 1093.997419 
L 1184.574861 1094.676691 
L 1210.831702 1096.199693 
L 1214.014349 1096.624191 
L 1217.196997 1097.272206 
L 1220.379644 1098.134842 
L 1225.153615 1099.681309 
L 1231.51891 1101.967328 
L 1236.292881 1103.910037 
L 1241.862514 1106.438539 
L 1247.432147 1109.220282 
L 1253.00178 1112.276253 
L 1261.75406 1117.089969 
L 1269.710679 1121.135473 
L 1276.871635 1124.552359 
L 1283.23693 1127.31914 
L 1293.580534 1131.479524 
L 1300.741491 1134.4862 
L 1306.311123 1137.0729 
L 1311.880756 1139.878338 
L 1317.450389 1142.908199 
L 1324.611346 1147.080468 
L 1328.589655 1149.640875 
L 1331.772303 1151.961155 
L 1334.159288 1153.92507 
L 1337.341935 1156.878752 
L 1340.524583 1160.16198 
L 1345.298554 1165.469302 
L 1353.255172 1174.687557 
L 1358.029143 1180.570313 
L 1362.007453 1185.853013 
L 1365.985762 1191.570792 
L 1369.168409 1196.501167 
L 1372.351057 1201.786764 
L 1375.533704 1207.507902 
L 1378.716352 1213.778035 
L 1381.898999 1220.638727 
L 1385.081646 1228.136359 
L 1387.468632 1234.294201 
L 1389.855617 1240.999092 
L 1392.242603 1248.26367 
L 1395.42525 1258.740533 
L 1408.951502 1304.82351 
L 1412.929811 1317.233146 
L 1416.90812 1328.892742 
L 1419.295106 1335.328885 
L 1421.682091 1341.118534 
L 1424.069077 1346.244728 
L 1426.456062 1350.819252 
L 1428.843048 1354.910405 
L 1431.230033 1358.540529 
L 1433.617019 1361.776742 
L 1436.799666 1365.644185 
L 1439.186652 1368.237379 
L 1441.573637 1370.516318 
L 1443.960623 1372.449688 
L 1446.347608 1374.058512 
L 1448.734594 1375.393902 
L 1451.12158 1376.509454 
L 1454.304227 1377.712042 
L 1457.486874 1378.623941 
L 1459.87386 1379.126501 
L 1462.260845 1379.429227 
L 1464.647831 1379.478819 
L 1467.034816 1379.27323 
L 1469.421802 1378.85143 
L 1472.604449 1378.027906 
L 1475.787097 1376.958856 
L 1478.174082 1375.961347 
L 1480.561068 1374.733641 
L 1482.948053 1373.25097 
L 1485.335039 1371.519441 
L 1488.517686 1368.867483 
L 1491.700334 1365.867125 
L 1494.087319 1363.353845 
L 1496.474305 1360.551565 
L 1498.86129 1357.394513 
L 1501.248276 1353.835507 
L 1503.635261 1349.861404 
L 1506.022247 1345.45638 
L 1508.409232 1340.585284 
L 1510.796218 1335.227569 
L 1513.978865 1327.447883 
L 1518.752836 1315.046922 
L 1523.526808 1302.042606 
L 1539.440044 1257.967782 
L 1545.805339 1241.518222 
L 1560.127253 1205.292212 
L 1562.514238 1200.036814 
L 1564.901224 1195.284839 
L 1567.288209 1191.044087 
L 1569.675195 1187.209269 
L 1572.857842 1182.531888 
L 1576.040489 1178.220384 
L 1580.018799 1173.21888 
L 1583.997108 1168.560068 
L 1587.975417 1164.199017 
L 1591.953726 1160.118967 
L 1595.932036 1156.316913 
L 1599.910345 1152.788251 
L 1604.684316 1148.863454 
L 1610.253949 1144.578718 
L 1615.823582 1140.579361 
L 1620.597553 1137.394447 
L 1625.371524 1134.456244 
L 1630.145495 1131.789075 
L 1634.919466 1129.396727 
L 1640.489099 1126.88614 
L 1646.058732 1124.616946 
L 1652.424027 1122.260278 
L 1660.380645 1119.557604 
L 1669.132925 1116.800937 
L 1677.089544 1114.507749 
L 1685.841824 1112.227963 
L 1694.594105 1110.186218 
L 1704.142047 1108.190626 
L 1712.894327 1106.563693 
L 1721.646607 1105.161849 
L 1731.194549 1103.889256 
L 1742.333815 1102.618231 
L 1753.473081 1101.566975 
L 1763.816685 1100.823361 
L 1776.547275 1100.153328 
L 1818.717353 1098.273483 
L 1821.9 1098.188972 
L 1821.9 1098.188972 
" clip-path="url(#pa75e77082c)" style="fill: none; stroke: #f3a56f; stroke-width: 6.5"/>
   </g>
   <g id="line2d_386">
    <path d="M 1106.6 1094.727248 
L 1115.35228 1094.338458 
L 1125.695884 1094.022528 
L 1136.83515 1093.907419 
L 1145.58743 1094.021629 
L 1156.726696 1094.439646 
L 1171.04861 1095.169906 
L 1209.240378 1097.730091 
L 1213.218687 1098.250262 
L 1216.401335 1098.904488 
L 1219.583982 1099.790111 
L 1224.357953 1101.402022 
L 1231.51891 1104.087499 
L 1236.292881 1106.132341 
L 1242.658176 1109.154654 
L 1248.227809 1112.018316 
L 1254.593103 1115.593675 
L 1261.75406 1119.568235 
L 1269.710679 1123.675458 
L 1276.075973 1126.745605 
L 1281.645606 1129.17923 
L 1288.010901 1131.696125 
L 1299.150167 1136.043281 
L 1304.7198 1138.480699 
L 1311.085095 1141.526665 
L 1317.450389 1144.819435 
L 1324.611346 1148.757978 
L 1328.589655 1151.176598 
L 1331.772303 1153.400632 
L 1334.159288 1155.319229 
L 1336.546274 1157.488069 
L 1339.728921 1160.737686 
L 1343.70723 1165.210047 
L 1350.868187 1173.712403 
L 1355.642158 1179.608452 
L 1359.620467 1184.856937 
L 1363.598776 1190.532545 
L 1366.781424 1195.438378 
L 1369.964071 1200.699307 
L 1373.146719 1206.348526 
L 1376.329366 1212.465696 
L 1379.512013 1219.114114 
L 1383.490323 1228.042568 
L 1387.468632 1237.550391 
L 1390.651279 1245.761963 
L 1393.833927 1254.748047 
L 1398.607898 1269.213109 
L 1403.381869 1283.470666 
L 1406.564516 1292.249751 
L 1409.747164 1300.353537 
L 1413.725473 1309.846622 
L 1417.703782 1318.792451 
L 1420.090768 1323.69503 
L 1422.477753 1328.120442 
L 1424.864739 1332.113806 
L 1427.251724 1335.716535 
L 1429.63871 1338.866814 
L 1432.025695 1341.509879 
L 1434.412681 1343.727656 
L 1437.595328 1346.277676 
L 1439.982314 1347.954003 
L 1442.369299 1349.393512 
L 1444.756285 1350.547841 
L 1447.14327 1351.395034 
L 1449.530256 1351.983088 
L 1453.508565 1352.653905 
L 1458.282536 1353.193941 
L 1462.260845 1353.398547 
L 1465.443493 1353.32626 
L 1468.62614 1352.976206 
L 1471.808788 1352.355682 
L 1474.991435 1351.518659 
L 1478.969744 1350.259429 
L 1482.948053 1348.797055 
L 1486.130701 1347.351757 
L 1488.517686 1346.033103 
L 1490.904672 1344.505652 
L 1493.291657 1342.773616 
L 1495.678643 1340.811652 
L 1498.065628 1338.526376 
L 1500.452614 1335.801273 
L 1502.8396 1332.603487 
L 1505.226585 1328.979883 
L 1507.613571 1324.944976 
L 1510.000556 1320.406277 
L 1512.387542 1315.28796 
L 1515.570189 1307.7745 
L 1521.139822 1293.870704 
L 1530.687764 1269.607237 
L 1536.257397 1256.27038 
L 1542.622692 1241.576746 
L 1552.170634 1219.831998 
L 1556.944605 1208.61064 
L 1559.331591 1203.653836 
L 1561.718576 1199.25588 
L 1564.901224 1193.970348 
L 1568.083871 1189.138174 
L 1571.266518 1184.667934 
L 1575.244828 1179.481751 
L 1580.018799 1173.687769 
L 1584.79277 1168.271316 
L 1589.566741 1163.233106 
L 1593.54505 1159.332841 
L 1597.523359 1155.710951 
L 1601.501669 1152.361548 
L 1607.071301 1148.006546 
L 1612.640934 1143.92138 
L 1618.210567 1140.133244 
L 1622.984538 1137.161646 
L 1627.758509 1134.478442 
L 1631.736819 1132.481908 
L 1636.51079 1130.350024 
L 1642.080423 1128.129958 
L 1648.445717 1125.86014 
L 1655.606674 1123.554484 
L 1665.950278 1120.483414 
L 1675.49822 1117.85428 
L 1684.250501 1115.658086 
L 1693.002781 1113.684775 
L 1704.142047 1111.436666 
L 1713.689989 1109.704739 
L 1722.442269 1108.34722 
L 1731.990211 1107.131823 
L 1743.129477 1105.923973 
L 1753.473081 1105.03267 
L 1763.816685 1104.386783 
L 1780.525584 1103.617353 
L 1821.9 1101.749586 
L 1821.9 1101.749586 
" clip-path="url(#pa75e77082c)" style="fill: none; stroke: #fcdc77; stroke-width: 6.5"/>
   </g>
   <g id="patch_28">
    <path d="M 1108.6 1489.4 
L 1108.6 1039.5 
" style="fill: none; stroke: #000000; stroke-width: 2.8; stroke-linejoin: miter; stroke-linecap: square"/>
   </g>
   <g id="patch_29">
    <path d="M 1819.9 1489.4 
L 1819.9 1039.5 
" style="fill: none; stroke: #000000; stroke-width: 2.8; stroke-linejoin: miter; stroke-linecap: square"/>
   </g>
   <g id="patch_30">
    <path d="M 1108.6 1489.4 
L 1819.9 1489.4 
" style="fill: none; stroke: #000000; stroke-width: 2.8; stroke-linejoin: miter; stroke-linecap: square"/>
   </g>
   <g id="patch_31">
    <path d="M 1108.6 1039.5 
L 1819.9 1039.5 
" style="fill: none; stroke: #000000; stroke-width: 2.8; stroke-linejoin: miter; stroke-linecap: square"/>
   </g>
  </g>
  <g id="axes_7">
   <g id="line2d_387">
    <g clip-path="url(#pbffcfcd5ba)">
     <use href="#m1f2123d5e5" x="269.4" y="112.8" style="fill-opacity: 0; stroke: #000000; stroke-width: 11.3"/>
    </g>
   </g>
   <g id="line2d_388">
    <path d="M 239.8 187.5 
L 301.2 187.5 
" clip-path="url(#pbffcfcd5ba)" style="fill: none; stroke-dasharray: 9.7,16.005; stroke-dashoffset: 0; stroke: #ff0000; stroke-width: 9.7"/>
   </g>
  </g>
  <g id="text_25">
   <text style="font-size: 51.5px; font-family: 'DejaVu Sans'; text-anchor: middle" x="539.3" y="40" transform="rotate(-0 539.3 40)">Gap depth</text>
  </g>
  <g id="text_26">
   <text style="font-size: 51.5px; font-family: 'DejaVu Sans'; text-anchor: middle" x="1464.2" y="40" transform="rotate(-0 1464.2 40)">Gap profile</text>
  </g>
  <g id="text_27">
   
   <g transform="translate(64.2 363.28) rotate(-90)">
    <text>
     <tspan x="0" y="-0.09375" style="font-size: 51.5px; font-family: 'DejaVu Sans'">Σ</tspan>
     <tspan x="102.31687" y="-0.09375" style="font-size: 51.5px; font-family: 'DejaVu Sans'">/</tspan>
     <tspan x="119.667944" y="-0.09375" style="font-size: 51.5px; font-family: 'DejaVu Sans'">Σ</tspan>
     <tspan x="33.037207" y="8.4375" style="font-size: 36.05px; font-family: 'DejaVu Sans'">g</tspan>
     <tspan x="55.920508" y="8.4375" style="font-size: 36.05px; font-family: 'DejaVu Sans'">a</tspan>
     <tspan x="78.011694" y="8.4375" style="font-size: 36.05px; font-family: 'DejaVu Sans'">p</tspan>
     <tspan x="152.705151" y="8.4375" style="font-size: 36.05px; font-family: 'DejaVu Sans'">0</tspan>
    </text>
   </g>
  </g>
  <g id="text_28">
   
   <g transform="translate(994.8 383.365) rotate(-90)">
    <text>
     <tspan x="0" y="-0.546875" style="font-size: 51.5px; font-family: 'DejaVu Sans'">Σ</tspan>
     <tspan x="32.539551" y="-0.546875" style="font-size: 51.5px; font-family: 'DejaVu Sans'">(</tspan>
     <tspan x="88.415039" y="-0.546875" style="font-size: 51.5px; font-family: 'DejaVu Sans'">)</tspan>
     <tspan x="108.50708" y="-0.546875" style="font-size: 51.5px; font-family: 'DejaVu Sans'">/</tspan>
     <tspan x="125.858154" y="-0.546875" style="font-size: 51.5px; font-family: 'DejaVu Sans'">Σ</tspan>
     <tspan x="52.631592" y="-0.546875" style="font-style: oblique; font-size: 51.5px; font-family: 'DejaVu Sans'">R</tspan>
     <tspan x="158.895361" y="7.984375" style="font-size: 36.05px; font-family: 'DejaVu Sans'">i</tspan>
     <tspan x="168.911206" y="7.984375" style="font-size: 36.05px; font-family: 'DejaVu Sans'">n</tspan>
     <tspan x="191.759302" y="7.984375" style="font-size: 36.05px; font-family: 'DejaVu Sans'">i</tspan>
     <tspan x="201.775146" y="7.984375" style="font-size: 36.05px; font-family: 'DejaVu Sans'">t</tspan>
    </text>
   </g>
  </g>
  <g id="text_29">
   
   <g transform="translate(64.2 858.18) rotate(-90)">
    <text>
     <tspan x="0" y="-0.09375" style="font-size: 51.5px; font-family: 'DejaVu Sans'">Σ</tspan>
     <tspan x="102.31687" y="-0.09375" style="font-size: 51.5px; font-family: 'DejaVu Sans'">/</tspan>
     <tspan x="119.667944" y="-0.09375" style="font-size: 51.5px; font-family: 'DejaVu Sans'">Σ</tspan>
     <tspan x="33.037207" y="8.4375" style="font-size: 36.05px; font-family: 'DejaVu Sans'">g</tspan>
     <tspan x="55.920508" y="8.4375" style="font-size: 36.05px; font-family: 'DejaVu Sans'">a</tspan>
     <tspan x="78.011694" y="8.4375" style="font-size: 36.05px; font-family: 'DejaVu Sans'">p</tspan>
     <tspan x="152.705151" y="8.4375" style="font-size: 36.05px; font-family: 'DejaVu Sans'">0</tspan>
    </text>
   </g>
  </g>
  <g id="text_30">
   
   <g transform="translate(994.8 878.265) rotate(-90)">
    <text>
     <tspan x="0" y="-0.546875" style="font-size: 51.5px; font-family: 'DejaVu Sans'">Σ</tspan>
     <tspan x="32.539551" y="-0.546875" style="font-size: 51.5px; font-family: 'DejaVu Sans'">(</tspan>
     <tspan x="88.415039" y="-0.546875" style="font-size: 51.5px; font-family: 'DejaVu Sans'">)</tspan>
     <tspan x="108.50708" y="-0.546875" style="font-size: 51.5px; font-family: 'DejaVu Sans'">/</tspan>
     <tspan x="125.858154" y="-0.546875" style="font-size: 51.5px; font-family: 'DejaVu Sans'">Σ</tspan>
     <tspan x="52.631592" y="-0.546875" style="font-style: oblique; font-size: 51.5px; font-family: 'DejaVu Sans'">R</tspan>
     <tspan x="158.895361" y="7.984375" style="font-size: 36.05px; font-family: 'DejaVu Sans'">i</tspan>
     <tspan x="168.911206" y="7.984375" style="font-size: 36.05px; font-family: 'DejaVu Sans'">n</tspan>
     <tspan x="191.759302" y="7.984375" style="font-size: 36.05px; font-family: 'DejaVu Sans'">i</tspan>
     <tspan x="201.775146" y="7.984375" style="font-size: 36.05px; font-family: 'DejaVu Sans'">t</tspan>
    </text>
   </g>
  </g>
  <g id="text_31">
   
   <g transform="translate(64.2 1353.03) rotate(-90)">
    <text>
     <tspan x="0" y="-0.09375" style="font-size: 51.5px; font-family: 'DejaVu Sans'">Σ</tspan>
     <tspan x="102.31687" y="-0.09375" style="font-size: 51.5px; font-family: 'DejaVu Sans'">/</tspan>
     <tspan x="119.667944" y="-0.09375" style="font-size: 51.5px; font-family: 'DejaVu Sans'">Σ</tspan>
     <tspan x="33.037207" y="8.4375" style="font-size: 36.05px; font-family: 'DejaVu Sans'">g</tspan>
     <tspan x="55.920508" y="8.4375" style="font-size: 36.05px; font-family: 'DejaVu Sans'">a</tspan>
     <tspan x="78.011694" y="8.4375" style="font-size: 36.05px; font-family: 'DejaVu Sans'">p</tspan>
     <tspan x="152.705151" y="8.4375" style="font-size: 36.05px; font-family: 'DejaVu Sans'">0</tspan>
    </text>
   </g>
  </g>
  <g id="text_32">
   
   <g transform="translate(994.8 1373.115) rotate(-90)">
    <text>
     <tspan x="0" y="-0.546875" style="font-size: 51.5px; font-family: 'DejaVu Sans'">Σ</tspan>
     <tspan x="32.539551" y="-0.546875" style="font-size: 51.5px; font-family: 'DejaVu Sans'">(</tspan>
     <tspan x="88.415039" y="-0.546875" style="font-size: 51.5px; font-family: 'DejaVu Sans'">)</tspan>
     <tspan x="108.50708" y="-0.546875" style="font-size: 51.5px; font-family: 'DejaVu Sans'">/</tspan>
     <tspan x="125.858154" y="-0.546875" style="font-size: 51.5px; font-family: 'DejaVu Sans'">Σ</tspan>
     <tspan x="52.631592" y="-0.546875" style="font-style: oblique; font-size: 51.5px; font-family: 'DejaVu Sans'">R</tspan>
     <tspan x="158.895361" y="7.984375" style="font-size: 36.05px; font-family: 'DejaVu Sans'">i</tspan>
     <tspan x="168.911206" y="7.984375" style="font-size: 36.05px; font-family: 'DejaVu Sans'">n</tspan>
     <tspan x="191.759302" y="7.984375" style="font-size: 36.05px; font-family: 'DejaVu Sans'">i</tspan>
     <tspan x="201.775146" y="7.984375" style="font-size: 36.05px; font-family: 'DejaVu Sans'">t</tspan>
    </text>
   </g>
  </g>
  <g id="text_33">
   
   <g transform="translate(522.82 1579.3)">
    <text>
     <tspan x="0" y="-0.15625" style="font-style: oblique; font-size: 51.5px; font-family: 'DejaVu Sans'">β</tspan>
    </text>
   </g>
  </g>
  <g id="text_34">
   
   <g transform="translate(1407.55 1577)">
    <text>
     <tspan x="0" y="-0.09375" style="font-style: oblique; font-size: 51.5px; font-family: 'DejaVu Sans'">R</tspan>
     <tspan x="53.134521" y="-0.09375" style="font-style: oblique; font-size: 51.5px; font-family: 'DejaVu Sans'">R</tspan>
     <tspan x="35.783447" y="-0.09375" style="font-size: 51.5px; font-family: 'DejaVu Sans'">/</tspan>
     <tspan x="88.917969" y="8.4375" style="font-style: oblique; font-size: 36.05px; font-family: 'DejaVu Sans'">p</tspan>
    </text>
   </g>
  </g>
  <g id="text_35">
   
   <g transform="translate(226 437)">
    <text>
     <tspan x="0" y="-0.484375" style="font-style: oblique; font-size: 51.5px; font-family: 'DejaVu Sans'">K</tspan>
     <tspan x="43.805176" y="-0.484375" style="font-size: 51.5px; font-family: 'DejaVu Sans'">=</tspan>
     <tspan x="96.98999" y="-0.484375" style="font-size: 51.5px; font-family: 'DejaVu Sans'">1</tspan>
     <tspan x="129.755859" y="-0.484375" style="font-size: 51.5px; font-family: 'DejaVu Sans'">0</tspan>
     <tspan x="162.521729" y="-0.484375" style="font-size: 51.5px; font-family: 'DejaVu Sans'">0</tspan>
     <tspan x="195.287598" y="-0.484375" style="font-size: 51.5px; font-family: 'DejaVu Sans'"> </tspan>
     <tspan x="211.657959" y="-0.484375" style="font-size: 51.5px; font-family: 'DejaVu Sans'">(</tspan>
     <tspan x="231.75" y="-0.484375" style="font-size: 51.5px; font-family: 'DejaVu Sans'">h</tspan>
     <tspan x="264.390137" y="-0.484375" style="font-size: 51.5px; font-family: 'DejaVu Sans'">1</tspan>
     <tspan x="297.156006" y="-0.484375" style="font-size: 51.5px; font-family: 'DejaVu Sans'">0</tspan>
     <tspan x="329.921875" y="-0.484375" style="font-size: 51.5px; font-family: 'DejaVu Sans'">-</tspan>
     <tspan x="348.505127" y="-0.484375" style="font-size: 51.5px; font-family: 'DejaVu Sans'">5</tspan>
     <tspan x="381.270996" y="-0.484375" style="font-size: 51.5px; font-family: 'DejaVu Sans'">)</tspan>
    </text>
   </g>
  </g>
  <g id="text_36">
   
   <g transform="translate(226 932)">
    <text>
     <tspan x="0" y="-0.484375" style="font-style: oblique; font-size: 51.5px; font-family: 'DejaVu Sans'">K</tspan>
     <tspan x="43.805176" y="-0.484375" style="font-size: 51.5px; font-family: 'DejaVu Sans'">=</tspan>
     <tspan x="96.98999" y="-0.484375" style="font-size: 51.5px; font-family: 'DejaVu Sans'">1</tspan>
     <tspan x="129.755859" y="-0.484375" style="font-size: 51.5px; font-family: 'DejaVu Sans'">0</tspan>
     <tspan x="162.521729" y="-0.484375" style="font-size: 51.5px; font-family: 'DejaVu Sans'">1</tspan>
     <tspan x="195.287598" y="-0.484375" style="font-size: 51.5px; font-family: 'DejaVu Sans'">7</tspan>
     <tspan x="228.053467" y="-0.484375" style="font-size: 51.5px; font-family: 'DejaVu Sans'"> </tspan>
     <tspan x="244.423828" y="-0.484375" style="font-size: 51.5px; font-family: 'DejaVu Sans'">(</tspan>
     <tspan x="264.515869" y="-0.484375" style="font-size: 51.5px; font-family: 'DejaVu Sans'">h</tspan>
     <tspan x="297.156006" y="-0.484375" style="font-size: 51.5px; font-family: 'DejaVu Sans'">8</tspan>
     <tspan x="329.921875" y="-0.484375" style="font-size: 51.5px; font-family: 'DejaVu Sans'">-</tspan>
     <tspan x="348.505127" y="-0.484375" style="font-size: 51.5px; font-family: 'DejaVu Sans'">4</tspan>
     <tspan x="381.270996" y="-0.484375" style="font-size: 51.5px; font-family: 'DejaVu Sans'">)</tspan>
    </text>
   </g>
  </g>
  <g id="text_37">
   
   <g transform="translate(226 1427)">
    <text>
     <tspan x="0" y="-0.484375" style="font-style: oblique; font-size: 51.5px; font-family: 'DejaVu Sans'">K</tspan>
     <tspan x="43.805176" y="-0.484375" style="font-size: 51.5px; font-family: 'DejaVu Sans'">=</tspan>
     <tspan x="96.98999" y="-0.484375" style="font-size: 51.5px; font-family: 'DejaVu Sans'">1</tspan>
     <tspan x="129.755859" y="-0.484375" style="font-size: 51.5px; font-family: 'DejaVu Sans'">0</tspan>
     <tspan x="162.521729" y="-0.484375" style="font-size: 51.5px; font-family: 'DejaVu Sans'">6</tspan>
     <tspan x="195.287598" y="-0.484375" style="font-size: 51.5px; font-family: 'DejaVu Sans'">6</tspan>
     <tspan x="228.053467" y="-0.484375" style="font-size: 51.5px; font-family: 'DejaVu Sans'">7</tspan>
     <tspan x="260.819336" y="-0.484375" style="font-size: 51.5px; font-family: 'DejaVu Sans'"> </tspan>
     <tspan x="277.189697" y="-0.484375" style="font-size: 51.5px; font-family: 'DejaVu Sans'">(</tspan>
     <tspan x="297.281738" y="-0.484375" style="font-size: 51.5px; font-family: 'DejaVu Sans'">h</tspan>
     <tspan x="329.921875" y="-0.484375" style="font-size: 51.5px; font-family: 'DejaVu Sans'">5</tspan>
     <tspan x="362.687744" y="-0.484375" style="font-size: 51.5px; font-family: 'DejaVu Sans'">-</tspan>
     <tspan x="381.270996" y="-0.484375" style="font-size: 51.5px; font-family: 'DejaVu Sans'">3</tspan>
     <tspan x="414.036865" y="-0.484375" style="font-size: 51.5px; font-family: 'DejaVu Sans'">)</tspan>
    </text>
   </g>
  </g>
  <g id="text_38">
   <text style="font-size: 45.05px; font-family: 'DejaVu Sans'; text-anchor: start" x="351.2" y="124.9" transform="rotate(-0 351.2 124.9)">simulations</text>
  </g>
  <g id="text_39">
   <text style="font-size: 45.05px; font-family: 'DejaVu Sans'; text-anchor: start" x="348" y="200.5" transform="rotate(-0 348 200.5)">Eq. (36)</text>
  </g>
  <g id="text_40">
   
   <g transform="translate(1144.5 383.4)">
    <text>
     <tspan x="0" y="-0.53125" style="font-style: oblique; font-size: 45.2px; font-family: 'DejaVu Sans'">β</tspan>
     <tspan x="37.693604" y="-0.53125" style="font-size: 45.2px; font-family: 'DejaVu Sans'">=</tspan>
    </text>
   </g>
  </g>
  <g id="text_41">
   <text style="font-size: 45.2px; font-family: 'DejaVu Sans'; text-anchor: start" x="1250.9" y="383.4" transform="rotate(-0 1250.9 383.4)">0.01,</text>
  </g>
  <g id="text_42">
   <text style="font-size: 45.2px; font-family: 'DejaVu Sans'; text-anchor: start; fill: #13305f" x="1414.9" y="383.4" transform="rotate(-0 1414.9 383.4)">0.03,</text>
  </g>
  <g id="text_43">
   <text style="font-size: 45.2px; font-family: 'DejaVu Sans'; text-anchor: start; fill: #34508a" x="1577.9" y="383.4" transform="rotate(-0 1577.9 383.4)">0.1,</text>
  </g>
  <g id="text_44">
   <text style="font-size: 45.2px; font-family: 'DejaVu Sans'; text-anchor: start; fill: #6f68a0" x="1705.9" y="383.4" transform="rotate(-0 1705.9 383.4)">0.3,</text>
  </g>
  <g id="text_45">
   <text style="font-size: 45.2px; font-family: 'DejaVu Sans'; text-anchor: start; fill: #8d72a8" x="1250.9" y="450.4" transform="rotate(-0 1250.9 450.4)">1,</text>
  </g>
  <g id="text_46">
   <text style="font-size: 45.2px; font-family: 'DejaVu Sans'; text-anchor: start; fill: #b583b6" x="1321.9" y="450.4" transform="rotate(-0 1321.9 450.4)">3,</text>
  </g>
  <g id="text_47">
   <text style="font-size: 45.2px; font-family: 'DejaVu Sans'; text-anchor: start; fill: #cb8c9a" x="1394.5" y="450.4" transform="rotate(-0 1394.5 450.4)">10,</text>
  </g>
  <g id="text_48">
   <text style="font-size: 45.2px; font-family: 'DejaVu Sans'; text-anchor: start; fill: #f3a56f" x="1513.9" y="450.4" transform="rotate(-0 1513.9 450.4)">30,</text>
  </g>
  <g id="text_49">
   <text style="font-size: 45.2px; font-family: 'DejaVu Sans'; text-anchor: start; fill: #fcdc77" x="1642.2" y="450.4" transform="rotate(-0 1642.2 450.4)">100</text>
  </g>
 </g>
 <defs>
  <clipPath id="pfb58e67655">
   <rect x="183.5" y="49.7" width="711.5" height="450"/>
  </clipPath>
  <clipPath id="pa9d6e41cb4">
   <rect x="183.5" y="544.6" width="711.5" height="450"/>
  </clipPath>
  <clipPath id="p9ddf4ae7c1">
   <rect x="183.5" y="1039.5" width="711.5" height="449.9"/>
  </clipPath>
  <clipPath id="p439a33444d">
   <rect x="1108.6" y="49.7" width="711.3" height="450"/>
  </clipPath>
  <clipPath id="p244bcbdf95">
   <rect x="1108.6" y="544.6" width="711.3" height="450"/>
  </clipPath>
  <clipPath id="pa75e77082c">
   <rect x="1108.6" y="1039.5" width="711.3" height="449.9"/>
  </clipPath>
  <clipPath id="pbffcfcd5ba">
   <rect x="0" y="0" width="1822" height="1597"/>
  </clipPath>
 </defs>
</svg>

</body></html>
